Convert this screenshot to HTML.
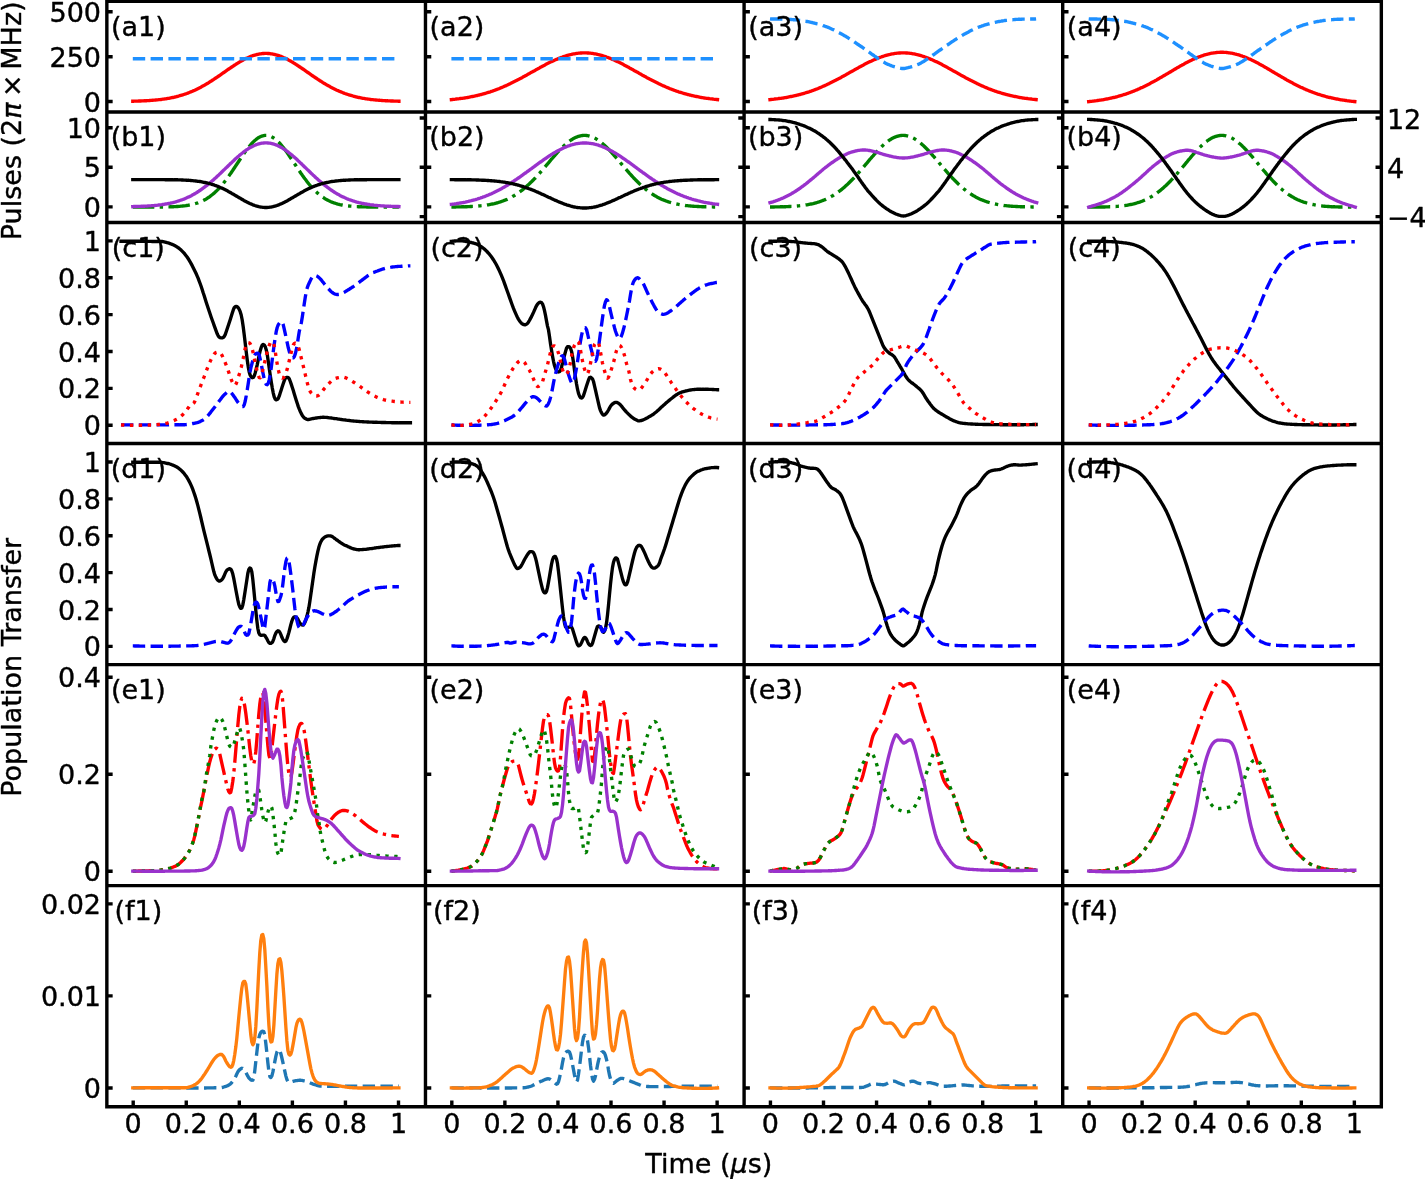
<!DOCTYPE html>
<html><head><meta charset="utf-8"><title>Figure</title>
<style>html,body{margin:0;padding:0;background:#fff}body{width:1425px;height:1179px;overflow:hidden}</style></head>
<body>
<svg width="1425" height="1179" viewBox="0 0 1425 1179" style="display:block;font-family:'DejaVu Sans','Liberation Sans',sans-serif;font-size:27.0px" shape-rendering="geometricPrecision">
<rect width="1425" height="1179" fill="#fff"/>
<defs>
<clipPath id="cp00"><rect x="106.85" y="1.40" width="318.62" height="110.53"/></clipPath>
<clipPath id="cp01"><rect x="425.47" y="1.40" width="318.62" height="110.53"/></clipPath>
<clipPath id="cp02"><rect x="744.09" y="1.40" width="318.62" height="110.53"/></clipPath>
<clipPath id="cp03"><rect x="1062.71" y="1.40" width="318.62" height="110.53"/></clipPath>
<clipPath id="cp10"><rect x="106.85" y="111.93" width="318.62" height="110.53"/></clipPath>
<clipPath id="cp11"><rect x="425.47" y="111.93" width="318.62" height="110.53"/></clipPath>
<clipPath id="cp12"><rect x="744.09" y="111.93" width="318.62" height="110.53"/></clipPath>
<clipPath id="cp13"><rect x="1062.71" y="111.93" width="318.62" height="110.53"/></clipPath>
<clipPath id="cp20"><rect x="106.85" y="222.46" width="318.62" height="221.06"/></clipPath>
<clipPath id="cp21"><rect x="425.47" y="222.46" width="318.62" height="221.06"/></clipPath>
<clipPath id="cp22"><rect x="744.09" y="222.46" width="318.62" height="221.06"/></clipPath>
<clipPath id="cp23"><rect x="1062.71" y="222.46" width="318.62" height="221.06"/></clipPath>
<clipPath id="cp30"><rect x="106.85" y="443.52" width="318.62" height="221.06"/></clipPath>
<clipPath id="cp31"><rect x="425.47" y="443.52" width="318.62" height="221.06"/></clipPath>
<clipPath id="cp32"><rect x="744.09" y="443.52" width="318.62" height="221.06"/></clipPath>
<clipPath id="cp33"><rect x="1062.71" y="443.52" width="318.62" height="221.06"/></clipPath>
<clipPath id="cp40"><rect x="106.85" y="664.58" width="318.62" height="221.06"/></clipPath>
<clipPath id="cp41"><rect x="425.47" y="664.58" width="318.62" height="221.06"/></clipPath>
<clipPath id="cp42"><rect x="744.09" y="664.58" width="318.62" height="221.06"/></clipPath>
<clipPath id="cp43"><rect x="1062.71" y="664.58" width="318.62" height="221.06"/></clipPath>
<clipPath id="cp50"><rect x="106.85" y="885.64" width="318.62" height="221.06"/></clipPath>
<clipPath id="cp51"><rect x="425.47" y="885.64" width="318.62" height="221.06"/></clipPath>
<clipPath id="cp52"><rect x="744.09" y="885.64" width="318.62" height="221.06"/></clipPath>
<clipPath id="cp53"><rect x="1062.71" y="885.64" width="318.62" height="221.06"/></clipPath>
</defs>
<g fill="none" stroke-width="3.36" stroke-linejoin="round">
<path clip-path="url(#cp00)" d="M132.8 101.2l1 0 1 -0.1 1 0 1 0 1 0 1 -0.1 1 0 1 0 1 -0.1 1 0 1 -0.1 1 0 1 -0.1 1 0 1 -0.1 1 0 1 -0.1 1 -0.1 1 -0.1 1 0 1 -0.1 1 -0.1 1 -0.1 1 -0.1 1 -0.1 1 -0.1 1 -0.1 1 -0.1 1 -0.2 1 -0.1 1 -0.1 1 -0.2 1 -0.1 1 -0.2 1 -0.2 1 -0.1 1 -0.2 1 -0.2 1 -0.2 1 -0.2 1 -0.2 1 -0.3 1 -0.2 1 -0.3 1 -0.2 1 -0.3 1 -0.3 1 -0.3 1 -0.3 1 -0.3 1 -0.3 1 -0.3 1 -0.4 1 -0.3 1 -0.4 1 -0.4 1 -0.4 1 -0.4 1 -0.4 1 -0.4 1 -0.5 1 -0.4 1 -0.5 1 -0.5 1 -0.5 1 -0.5 1 -0.5 1 -0.5 1 -0.6 1 -0.5 1 -0.6 1 -0.5 1 -0.6 1 -0.6 1 -0.6 1 -0.6 1 -0.7 1 -0.6 1 -0.6 1 -0.7 1 -0.6 1 -0.7 1 -0.7 1 -0.7 1 -0.6 1 -0.7 1 -0.7 1 -0.7 1 -0.7 1 -0.7 1 -0.7 1 -0.7 1 -0.7 1 -0.7 1 -0.7 1 -0.7 1 -0.7 1 -0.6 1 -0.7 1 -0.7 1 -0.6 1 -0.7 1 -0.6 1 -0.7 1 -0.6 1 -0.6 1 -0.6 1 -0.6 1 -0.6 1 -0.5 1 -0.6 1 -0.5 1 -0.5 1 -0.5 1 -0.4 1 -0.5 1 -0.4 1 -0.4 1 -0.4 1 -0.3 1 -0.3 1 -0.3 1 -0.3 1 -0.3 1 -0.2 1 -0.2 1 -0.2 1 -0.1 1 -0.2 1 -0.1 1 0 1 -0.1 1 0 1.1 0 1 0.1 1 0 1 0.1 1 0.2 1 0.1 1 0.2 1 0.2 1 0.2 1 0.3 1 0.3 1 0.3 1 0.3 1 0.3 1 0.4 1 0.4 1 0.4 1 0.5 1 0.4 1 0.5 1 0.5 1 0.5 1 0.6 1 0.5 1 0.6 1 0.6 1 0.6 1 0.6 1 0.6 1 0.7 1 0.6 1 0.7 1 0.6 1 0.7 1 0.7 1 0.6 1 0.7 1 0.7 1 0.7 1 0.7 1 0.7 1 0.7 1 0.7 1 0.7 1 0.7 1 0.7 1 0.7 1 0.7 1 0.6 1 0.7 1 0.7 1 0.7 1 0.6 1 0.7 1 0.6 1 0.6 1 0.7 1 0.6 1 0.6 1 0.6 1 0.6 1 0.5 1 0.6 1 0.5 1 0.6 1 0.5 1 0.5 1 0.5 1 0.5 1 0.5 1 0.5 1 0.4 1 0.5 1 0.4 1 0.4 1 0.4 1 0.4 1 0.4 1 0.4 1 0.3 1 0.4 1 0.3 1 0.3 1 0.3 1 0.3 1 0.3 1 0.3 1 0.3 1 0.2 1 0.3 1 0.2 1 0.3 1 0.2 1 0.2 1 0.2 1 0.2 1 0.2 1 0.1 1 0.2 1 0.2 1 0.1 1 0.2 1 0.1 1 0.1 1 0.2 1 0.1 1 0.1 1 0.1 1 0.1 1 0.1 1 0.1 1 0.1 1 0.1 1 0 1 0.1 1 0.1 1 0.1 1 0 1 0.1 1 0 1 0.1 1 0 1 0.1 1 0 1 0.1 1 0 1 0 1 0.1 1 0 1 0 1 0 1 0.1 1 0" stroke="#ff0000" stroke-linecap="square"/>
<path clip-path="url(#cp00)" d="M132.8 58.7l1 0 1 0 1 0 1 0 1 0 1 0 1 0 1 0 1 0 1 0 1 0 1 0 1 0 1 0 1 0 1 0 1 0 1 0 1 0 1 0 1 0 1 0 1 0 1 0 1 0 1 0 1 0 1 0 1 0 1 0 1 0 1 0 1 0 1 0 1 0 1 0 1 0 1 0 1 0 1 0 1 0 1 0 1 0 1 0 1 0 1 0 1 0 1 0 1 0 1 0 1 0 1 0 1 0 1 0 1 0 1 0 1 0 1 0 1 0 1 0 1 0 1 0 1 0 1 0 1 0 1 0 1 0 1 0 1 0 1 0 1 0 1 0 1 0 1 0 1 0 1 0 1 0 1 0 1 0 1 0 1 0 1 0 1 0 1 0 1 0 1 0 1 0 1 0 1 0 1 0 1 0 1 0 1 0 1 0 1 0 1 0 1 0 1 0 1 0 1 0 1 0 1 0 1 0 1 0 1 0 1 0 1 0 1 0 1 0 1 0 1 0 1 0 1 0 1 0 1 0 1 0 1 0 1 0 1 0 1 0 1 0 1 0 1 0 1 0 1 0 1 0 1 0 1 0 1 0 1 0 1 0 1 0 1 0 1.1 0 1 0 1 0 1 0 1 0 1 0 1 0 1 0 1 0 1 0 1 0 1 0 1 0 1 0 1 0 1 0 1 0 1 0 1 0 1 0 1 0 1 0 1 0 1 0 1 0 1 0 1 0 1 0 1 0 1 0 1 0 1 0 1 0 1 0 1 0 1 0 1 0 1 0 1 0 1 0 1 0 1 0 1 0 1 0 1 0 1 0 1 0 1 0 1 0 1 0 1 0 1 0 1 0 1 0 1 0 1 0 1 0 1 0 1 0 1 0 1 0 1 0 1 0 1 0 1 0 1 0 1 0 1 0 1 0 1 0 1 0 1 0 1 0 1 0 1 0 1 0 1 0 1 0 1 0 1 0 1 0 1 0 1 0 1 0 1 0 1 0 1 0 1 0 1 0 1 0 1 0 1 0 1 0 1 0 1 0 1 0 1 0 1 0 1 0 1 0 1 0 1 0 1 0 1 0 1 0 1 0 1 0 1 0 1 0 1 0 1 0 1 0 1 0 1 0 1 0 1 0 1 0 1 0 1 0 1 0 1 0 1 0 1 0 1 0 1 0 1 0 1 0 1 0 1 0 1 0 1 0 1 0 1 0" stroke="#1e90ff" stroke-dasharray="12.4 5.4"/>
<path clip-path="url(#cp01)" d="M451.4 99.6l1 -0.1 1 -0.1 1 -0.1 1 -0.1 1 -0.2 1 -0.1 1 -0.1 1 -0.1 1 -0.2 1 -0.1 1 -0.1 1 -0.2 1 -0.1 1 -0.2 1 -0.2 1 -0.1 1 -0.2 1 -0.2 1 -0.2 1 -0.2 1 -0.2 1 -0.2 1 -0.2 1 -0.2 1 -0.2 1 -0.2 1 -0.3 1 -0.2 1 -0.3 1 -0.2 1 -0.3 1 -0.3 1 -0.3 1 -0.3 1 -0.3 1 -0.3 1 -0.3 1 -0.3 1 -0.3 1 -0.4 1 -0.3 1 -0.4 1 -0.3 1 -0.4 1 -0.4 1 -0.4 1 -0.3 1 -0.4 1 -0.5 1 -0.4 1 -0.4 1 -0.4 1 -0.5 1 -0.4 1 -0.5 1 -0.4 1 -0.5 1 -0.5 1 -0.4 1 -0.5 1 -0.5 1 -0.5 1 -0.5 1 -0.5 1 -0.5 1 -0.6 1 -0.5 1 -0.5 1 -0.6 1 -0.5 1 -0.5 1 -0.6 1 -0.5 1 -0.6 1 -0.5 1 -0.6 1 -0.6 1 -0.5 1 -0.6 1.1 -0.6 1 -0.5 1 -0.6 1 -0.5 1 -0.6 1 -0.6 1 -0.5 1 -0.6 1 -0.5 1 -0.6 1 -0.5 1 -0.6 1 -0.5 1 -0.5 1 -0.6 1 -0.5 1 -0.5 1 -0.5 1 -0.5 1 -0.5 1 -0.5 1 -0.4 1 -0.5 1 -0.5 1 -0.4 1 -0.4 1 -0.5 1 -0.4 1 -0.4 1 -0.4 1 -0.4 1 -0.3 1 -0.4 1 -0.3 1 -0.3 1 -0.3 1 -0.3 1 -0.3 1 -0.3 1 -0.2 1 -0.2 1 -0.3 1 -0.2 1 -0.1 1 -0.2 1 -0.2 1 -0.1 1 -0.1 1 -0.1 1 -0.1 1 0 1 -0.1 1 0 1 0 1 0 1 0 1 0.1 1 0 1 0.1 1 0.1 1 0.1 1 0.1 1 0.2 1 0.2 1 0.1 1 0.2 1 0.3 1 0.2 1 0.2 1 0.3 1 0.3 1 0.3 1 0.3 1 0.3 1 0.3 1 0.4 1 0.3 1 0.4 1 0.4 1 0.4 1 0.4 1 0.5 1 0.4 1 0.4 1 0.5 1 0.5 1 0.4 1 0.5 1 0.5 1 0.5 1 0.5 1 0.5 1 0.5 1 0.6 1 0.5 1 0.5 1 0.6 1 0.5 1 0.6 1 0.5 1 0.6 1 0.5 1 0.6 1 0.6 1 0.5 1 0.6 1 0.5 1 0.6 1 0.6 1 0.5 1 0.6 1 0.6 1 0.5 1 0.6 1 0.5 1 0.6 1 0.5 1 0.5 1 0.6 1 0.5 1 0.5 1 0.6 1 0.5 1 0.5 1 0.5 1 0.5 1 0.5 1 0.5 1 0.4 1 0.5 1 0.5 1 0.4 1 0.5 1 0.4 1 0.5 1 0.4 1 0.4 1 0.4 1 0.5 1 0.4 1 0.3 1 0.4 1 0.4 1 0.4 1 0.3 1 0.4 1 0.3 1 0.4 1 0.3 1 0.3 1 0.3 1 0.3 1 0.3 1 0.3 1 0.3 1 0.3 1 0.3 1 0.2 1 0.3 1 0.2 1 0.3 1 0.2 1 0.2 1 0.2 1 0.2 1 0.2 1 0.2 1 0.2 1 0.2 1 0.2 1 0.2 1 0.1 1 0.2 1 0.2 1 0.1 1 0.2 1 0.1 1 0.1 1 0.2 1 0.1 1 0.1 1 0.1 1 0.2 1 0.1 1 0.1 1 0.1 1 0.1" stroke="#ff0000" stroke-linecap="square"/>
<path clip-path="url(#cp01)" d="M451.4 58.7l1 0 1 0 1 0 1 0 1 0 1 0 1 0 1 0 1 0 1 0 1 0 1 0 1 0 1 0 1 0 1 0 1 0 1 0 1 0 1 0 1 0 1 0 1 0 1 0 1 0 1 0 1 0 1 0 1 0 1 0 1 0 1 0 1 0 1 0 1 0 1 0 1 0 1 0 1 0 1 0 1 0 1 0 1 0 1 0 1 0 1 0 1 0 1 0 1 0 1 0 1 0 1 0 1 0 1 0 1 0 1 0 1 0 1 0 1 0 1 0 1 0 1 0 1 0 1 0 1 0 1 0 1 0 1 0 1 0 1 0 1 0 1 0 1 0 1 0 1 0 1 0 1 0 1 0 1 0 1.1 0 1 0 1 0 1 0 1 0 1 0 1 0 1 0 1 0 1 0 1 0 1 0 1 0 1 0 1 0 1 0 1 0 1 0 1 0 1 0 1 0 1 0 1 0 1 0 1 0 1 0 1 0 1 0 1 0 1 0 1 0 1 0 1 0 1 0 1 0 1 0 1 0 1 0 1 0 1 0 1 0 1 0 1 0 1 0 1 0 1 0 1 0 1 0 1 0 1 0 1 0 1 0 1 0 1 0 1 0 1 0 1 0 1 0 1 0 1 0 1 0 1 0 1 0 1 0 1 0 1 0 1 0 1 0 1 0 1 0 1 0 1 0 1 0 1 0 1 0 1 0 1 0 1 0 1 0 1 0 1 0 1 0 1 0 1 0 1 0 1 0 1 0 1 0 1 0 1 0 1 0 1 0 1 0 1 0 1 0 1 0 1 0 1 0 1 0 1 0 1 0 1 0 1 0 1 0 1 0 1 0 1 0 1 0 1 0 1 0 1 0 1 0 1 0 1 0 1 0 1 0 1 0 1 0 1 0 1 0 1 0 1 0 1 0 1 0 1 0 1 0 1 0 1 0 1 0 1 0 1 0 1 0 1 0 1 0 1 0 1 0 1 0 1 0 1 0 1 0 1 0 1 0 1 0 1 0 1 0 1 0 1 0 1 0 1 0 1 0 1 0 1 0 1 0 1 0 1 0 1 0 1 0 1 0 1 0 1 0 1 0 1 0 1 0 1 0 1 0 1 0 1 0 1 0 1 0 1 0 1 0 1 0 1 0 1 0 1 0 1 0 1 0 1 0 1 0 1 0 1 0 1 0 1 0 1 0 1 0 1 0 1 0" stroke="#1e90ff" stroke-dasharray="12.4 5.4"/>
<path clip-path="url(#cp02)" d="M770 99.6l1 -0.1 1 -0.1 1 -0.1 1 -0.1 1 -0.2 1 -0.1 1 -0.1 1 -0.1 1 -0.2 1 -0.1 1 -0.1 1 -0.2 1 -0.1 1 -0.2 1 -0.2 1 -0.1 1 -0.2 1 -0.2 1 -0.2 1 -0.2 1 -0.2 1 -0.2 1 -0.2 1 -0.2 1 -0.2 1 -0.2 1.1 -0.3 1 -0.2 1 -0.3 1 -0.2 1 -0.3 1 -0.3 1 -0.3 1 -0.3 1 -0.3 1 -0.3 1 -0.3 1 -0.3 1 -0.3 1 -0.4 1 -0.3 1 -0.4 1 -0.3 1 -0.4 1 -0.4 1 -0.4 1 -0.3 1 -0.4 1 -0.5 1 -0.4 1 -0.4 1 -0.4 1 -0.5 1 -0.4 1 -0.5 1 -0.4 1 -0.5 1 -0.5 1 -0.4 1 -0.5 1 -0.5 1 -0.5 1 -0.5 1 -0.5 1 -0.5 1 -0.6 1 -0.5 1 -0.5 1 -0.6 1 -0.5 1 -0.5 1 -0.6 1 -0.5 1 -0.6 1 -0.5 1 -0.6 1 -0.6 1 -0.5 1 -0.6 1 -0.6 1 -0.5 1 -0.6 1 -0.5 1 -0.6 1 -0.6 1 -0.5 1 -0.6 1 -0.5 1 -0.6 1 -0.5 1 -0.6 1 -0.5 1 -0.5 1 -0.6 1 -0.5 1 -0.5 1 -0.5 1 -0.5 1 -0.5 1 -0.5 1 -0.4 1 -0.5 1 -0.5 1 -0.4 1 -0.4 1 -0.5 1 -0.4 1 -0.4 1 -0.4 1 -0.4 1 -0.3 1 -0.4 1 -0.3 1 -0.3 1 -0.3 1 -0.3 1 -0.3 1 -0.3 1 -0.2 1 -0.2 1 -0.3 1 -0.2 1 -0.1 1 -0.2 1 -0.2 1 -0.1 1 -0.1 1 -0.1 1 -0.1 1 0 1 -0.1 1 0 1 0 1 0 1 0 1 0.1 1 0 1 0.1 1 0.1 1 0.1 1 0.1 1 0.2 1 0.2 1 0.1 1 0.2 1 0.3 1 0.2 1 0.2 1 0.3 1 0.3 1 0.3 1 0.3 1 0.3 1 0.3 1 0.4 1 0.3 1 0.4 1 0.4 1 0.4 1 0.4 1 0.5 1 0.4 1 0.4 1 0.5 1 0.5 1 0.4 1 0.5 1 0.5 1 0.5 1 0.5 1 0.5 1 0.5 1 0.6 1 0.5 1 0.5 1 0.6 1 0.5 1 0.6 1 0.5 1 0.6 1 0.5 1 0.6 1 0.6 1 0.5 1 0.6 1 0.5 1 0.6 1 0.6 1 0.5 1 0.6 1 0.6 1 0.5 1 0.6 1 0.5 1 0.6 1 0.5 1 0.5 1 0.6 1 0.5 1 0.5 1 0.6 1 0.5 1 0.5 1 0.5 1 0.5 1 0.5 1 0.5 1 0.4 1 0.5 1 0.5 1 0.4 1 0.5 1 0.4 1 0.5 1 0.4 1 0.4 1 0.4 1 0.5 1 0.4 1 0.3 1 0.4 1 0.4 1 0.4 1 0.3 1 0.4 1 0.3 1 0.4 1 0.3 1 0.3 1 0.3 1 0.3 1 0.3 1 0.3 1 0.3 1 0.3 1 0.3 1 0.2 1 0.3 1 0.2 1 0.3 1 0.2 1 0.2 1 0.2 1 0.2 1 0.2 1 0.2 1 0.2 1 0.2 1 0.2 1 0.2 1 0.1 1 0.2 1 0.2 1 0.1 1 0.2 1 0.1 1 0.1 1 0.2 1 0.1 1 0.1 1 0.1 1 0.2 1 0.1 1 0.1 1 0.1 1 0.1" stroke="#ff0000" stroke-linecap="square"/>
<path clip-path="url(#cp02)" d="M770 18.9l1 0.1 1 0 1 0 1 0 1 0 1 0 1 0 1 0 1 0.1 1 0 1 0 1 0 1 0 1 0.1 1 0 1 0.1 1 0 1 0 1 0.1 1 0 1 0.1 1.1 0.1 1 0.1 1 0 1 0.1 1 0.1 1 0.1 1 0.1 1 0.2 1 0.1 1 0.1 1 0.2 1 0.1 1 0.2 1 0.2 1 0.1 1 0.2 1 0.2 1 0.2 1 0.2 1 0.2 1 0.2 1 0.3 1 0.2 1 0.3 1 0.2 1 0.3 1 0.2 1 0.3 1 0.3 1 0.3 1 0.3 1 0.4 1 0.3 1 0.4 1 0.3 1 0.4 1 0.4 1 0.4 1 0.5 1 0.4 1 0.5 1 0.4 1 0.5 1 0.5 1 0.5 1 0.5 1 0.6 1 0.5 1 0.5 1 0.6 1 0.5 1 0.6 1 0.6 1 0.6 1 0.5 1 0.6 1 0.7 1 0.6 1 0.6 1 0.7 1 0.6 1 0.7 1 0.6 1 0.7 1 0.7 1 0.7 1 0.7 1 0.7 1 0.6 1 0.7 1 0.7 1 0.7 1 0.7 1 0.7 1 0.7 1 0.7 1 0.7 1 0.7 1 0.7 1 0.8 1 0.7 1 0.7 1 0.7 1 0.8 1 0.7 1 0.7 1 0.7 1 0.6 1 0.7 1 0.6 1 0.7 1 0.6 1 0.5 1 0.6 1 0.5 1 0.5 1 0.5 1 0.4 1 0.4 1 0.4 1 0.4 1 0.3 1 0.3 1 0.3 1 0.3 1 0.2 1 0.3 1 0.2 1 0.2 1 0.2 1 0.2 1 0 1 0 1 -0.2 1 -0.2 1 -0.2 1 -0.2 1 -0.3 1 -0.2 1 -0.3 1 -0.3 1 -0.3 1 -0.3 1 -0.4 1 -0.4 1 -0.4 1 -0.4 1 -0.5 1 -0.5 1 -0.5 1 -0.6 1 -0.5 1 -0.6 1 -0.7 1 -0.6 1 -0.7 1 -0.6 1 -0.7 1 -0.7 1 -0.7 1 -0.8 1 -0.7 1 -0.7 1 -0.7 1 -0.8 1 -0.7 1 -0.7 1 -0.7 1 -0.7 1 -0.7 1 -0.7 1 -0.7 1 -0.7 1 -0.7 1 -0.7 1 -0.6 1 -0.7 1 -0.7 1 -0.7 1 -0.7 1 -0.7 1 -0.6 1 -0.7 1 -0.6 1 -0.7 1 -0.6 1 -0.6 1 -0.7 1 -0.6 1 -0.5 1 -0.6 1 -0.6 1 -0.6 1 -0.5 1 -0.6 1 -0.5 1 -0.5 1 -0.6 1 -0.5 1 -0.5 1 -0.5 1 -0.5 1 -0.4 1 -0.5 1 -0.4 1 -0.5 1 -0.4 1 -0.4 1 -0.4 1 -0.3 1 -0.4 1 -0.3 1 -0.4 1 -0.3 1 -0.3 1 -0.3 1 -0.3 1 -0.2 1 -0.3 1 -0.2 1 -0.3 1 -0.2 1 -0.3 1 -0.2 1 -0.2 1 -0.2 1 -0.2 1 -0.2 1 -0.2 1 -0.1 1 -0.2 1 -0.2 1 -0.1 1 -0.2 1 -0.1 1 -0.1 1 -0.2 1 -0.1 1 -0.1 1 -0.1 1 -0.1 1 0 1 -0.1 1 -0.1 1 -0.1 1 0 1 -0.1 1 0 1 0 1 -0.1 1 0 1 -0.1 1 0 1 0 1 0 1 0 1 -0.1 1 0 1 0 1 0 1 0 1 0 1 0 1 0 1 -0.1" stroke="#1e90ff" stroke-dasharray="12.4 5.4"/>
<path clip-path="url(#cp03)" d="M1088.7 101.6l1 -0.1 1 -0.1 1 -0.1 1 -0.1 1 -0.1 1 -0.2 1 -0.1 1 -0.1 1 -0.2 1 -0.1 1 -0.2 1 -0.1 1 -0.2 1 -0.1 1 -0.2 1 -0.2 1 -0.2 1 -0.2 1 -0.2 1 -0.2 1 -0.2 1 -0.2 1 -0.2 1 -0.3 1 -0.2 1 -0.2 1 -0.3 1 -0.2 1 -0.3 1 -0.3 1 -0.3 1 -0.3 1 -0.3 1 -0.3 1 -0.3 1 -0.3 1 -0.3 1 -0.4 1 -0.3 1 -0.4 1 -0.3 1 -0.4 1 -0.4 1 -0.4 1 -0.4 1 -0.4 1 -0.4 1 -0.4 1 -0.5 1 -0.4 1 -0.4 1 -0.5 1 -0.5 1 -0.4 1 -0.5 1 -0.5 1 -0.5 1 -0.5 1 -0.5 1 -0.5 1 -0.5 1 -0.6 1 -0.5 1 -0.5 1 -0.6 1 -0.5 1 -0.6 1 -0.5 1 -0.6 1 -0.6 1 -0.6 1 -0.5 1 -0.6 1 -0.6 1 -0.6 1 -0.6 1 -0.6 1 -0.6 1 -0.5 1 -0.6 1 -0.6 1 -0.6 1 -0.6 1 -0.6 1 -0.6 1 -0.6 1 -0.6 1 -0.6 1 -0.5 1 -0.6 1 -0.6 1 -0.6 1 -0.5 1 -0.6 1 -0.5 1 -0.6 1 -0.5 1 -0.5 1 -0.6 1 -0.5 1 -0.5 1 -0.5 1 -0.4 1 -0.5 1 -0.5 1 -0.4 1 -0.5 1 -0.4 1 -0.4 1 -0.4 1 -0.4 1 -0.3 1 -0.4 1 -0.3 1 -0.4 1 -0.3 1 -0.3 1 -0.2 1 -0.3 1 -0.2 1 -0.3 1 -0.2 1 -0.2 1 -0.1 1 -0.2 1 -0.1 1 -0.2 1 -0.1 1 -0.1 1 0 1 -0.1 1 0 1 0 1 0 1 0 1 0.1 1 0 1 0.1 1 0.1 1 0.2 1 0.1 1 0.2 1 0.1 1 0.2 1 0.2 1 0.3 1 0.2 1 0.3 1 0.2 1 0.3 1 0.3 1 0.4 1 0.3 1 0.4 1 0.3 1 0.4 1 0.4 1 0.4 1 0.4 1 0.5 1 0.4 1 0.5 1 0.5 1 0.4 1 0.5 1 0.5 1 0.5 1 0.6 1 0.5 1 0.5 1 0.6 1 0.5 1 0.6 1 0.5 1 0.6 1 0.6 1 0.6 1 0.5 1 0.6 1 0.6 1 0.6 1 0.6 1 0.6 1 0.6 1 0.6 1 0.6 1 0.6 1 0.5 1 0.6 1 0.6 1 0.6 1 0.6 1 0.6 1 0.6 1 0.5 1 0.6 1 0.6 1 0.6 1 0.5 1 0.6 1 0.5 1 0.6 1 0.5 1 0.5 1 0.6 1 0.5 1 0.5 1 0.5 1 0.5 1 0.5 1 0.5 1 0.5 1 0.4 1 0.5 1 0.5 1 0.4 1 0.4 1 0.5 1 0.4 1 0.4 1 0.4 1 0.4 1 0.4 1 0.4 1 0.4 1 0.3 1 0.4 1 0.3 1 0.4 1 0.3 1 0.3 1 0.3 1 0.3 1 0.3 1 0.3 1 0.3 1 0.3 1 0.3 1 0.2 1.1 0.3 1 0.2 1 0.2 1 0.3 1 0.2 1 0.2 1 0.2 1 0.2 1 0.2 1 0.2 1 0.2 1 0.2 1 0.2 1 0.1 1 0.2 1 0.1 1 0.2 1 0.1 1 0.2 1 0.1 1 0.1 1 0.2 1 0.1 1 0.1 1 0.1 1 0.1 1 0.1" stroke="#ff0000" stroke-linecap="square"/>
<path clip-path="url(#cp03)" d="M1088.7 18.9l1 0.1 1 0 1 0 1 0 1 0 1 0 1 0 1 0 1 0.1 1 0 1 0 1 0 1 0 1 0.1 1 0 1 0.1 1 0 1 0 1 0.1 1 0 1 0.1 1 0.1 1 0.1 1 0 1 0.1 1 0.1 1 0.1 1 0.1 1 0.2 1 0.1 1 0.1 1 0.2 1 0.1 1 0.2 1 0.2 1 0.1 1 0.2 1 0.2 1 0.2 1 0.2 1 0.2 1 0.2 1 0.3 1 0.2 1 0.3 1 0.2 1 0.3 1 0.2 1 0.3 1 0.3 1 0.3 1 0.3 1 0.4 1 0.3 1 0.4 1 0.3 1 0.4 1 0.4 1 0.4 1 0.5 1 0.4 1 0.5 1 0.4 1 0.5 1 0.5 1 0.5 1 0.5 1 0.6 1 0.5 1 0.5 1 0.6 1 0.5 1 0.6 1 0.6 1 0.6 1 0.5 1 0.6 1 0.7 1 0.6 1 0.6 1 0.7 1 0.6 1 0.7 1 0.6 1 0.7 1 0.7 1 0.7 1 0.7 1 0.7 1 0.6 1 0.7 1 0.7 1 0.7 1 0.7 1 0.7 1 0.7 1 0.7 1 0.7 1 0.7 1 0.7 1 0.8 1 0.7 1 0.7 1 0.7 1 0.8 1 0.7 1 0.7 1 0.7 1 0.6 1 0.7 1 0.6 1 0.7 1 0.6 1 0.5 1 0.6 1 0.5 1 0.5 1 0.5 1 0.4 1 0.4 1 0.4 1 0.4 1 0.3 1 0.3 1 0.3 1 0.3 1 0.2 1 0.3 1 0.2 1 0.2 1 0.2 1 0.2 1 0 1 0 1 -0.2 1 -0.2 1 -0.2 1 -0.2 1 -0.3 1 -0.2 1 -0.3 1 -0.3 1 -0.3 1 -0.3 1 -0.4 1 -0.4 1 -0.4 1 -0.4 1 -0.5 1 -0.5 1 -0.5 1 -0.6 1 -0.5 1 -0.6 1 -0.7 1 -0.6 1 -0.7 1 -0.6 1 -0.7 1 -0.7 1 -0.7 1 -0.8 1 -0.7 1 -0.7 1 -0.7 1 -0.8 1 -0.7 1 -0.7 1 -0.7 1 -0.7 1 -0.7 1 -0.7 1 -0.7 1 -0.7 1 -0.7 1 -0.7 1 -0.6 1 -0.7 1 -0.7 1 -0.7 1 -0.7 1 -0.7 1 -0.6 1 -0.7 1 -0.6 1 -0.7 1 -0.6 1 -0.6 1 -0.7 1 -0.6 1 -0.5 1 -0.6 1 -0.6 1 -0.6 1 -0.5 1 -0.6 1 -0.5 1 -0.5 1 -0.6 1 -0.5 1 -0.5 1 -0.5 1 -0.5 1 -0.4 1 -0.5 1 -0.4 1 -0.5 1 -0.4 1 -0.4 1 -0.4 1 -0.3 1 -0.4 1 -0.3 1 -0.4 1 -0.3 1 -0.3 1 -0.3 1 -0.3 1 -0.2 1 -0.3 1 -0.2 1 -0.3 1 -0.2 1 -0.3 1 -0.2 1 -0.2 1 -0.2 1 -0.2 1 -0.2 1 -0.2 1 -0.1 1 -0.2 1 -0.2 1 -0.1 1 -0.2 1 -0.1 1 -0.1 1 -0.2 1 -0.1 1 -0.1 1 -0.1 1 -0.1 1 0 1 -0.1 1.1 -0.1 1 -0.1 1 0 1 -0.1 1 0 1 0 1 -0.1 1 0 1 -0.1 1 0 1 0 1 0 1 0 1 -0.1 1 0 1 0 1 0 1 0 1 0 1 0 1 0 1 -0.1" stroke="#1e90ff" stroke-dasharray="12.4 5.4"/>
<path clip-path="url(#cp10)" d="M132.8 207.1l1 0 1 0 1 0 1 0 1 0 1 0 1 0 1 0 1 0 1 0 1 0 1 0 1 0 1 0 1 0 1 0 1 0 1 0 1 0 1 0 1 0 1 0 1 0 1 -0.1 1 0 1 0 1 0 1 0 1 0 1 0 1 0 1 0 1 -0.1 1 0 1 0 1 0 1 -0.1 1 0 1 0 1 -0.1 1 0 1 -0.1 1 0 1 -0.1 1 0 1 -0.1 1 -0.1 1 -0.1 1 -0.1 1 -0.1 1 -0.1 1 -0.1 1 -0.1 1 -0.2 1 -0.1 1 -0.2 1 -0.2 1 -0.2 1 -0.2 1 -0.3 1 -0.2 1 -0.3 1 -0.3 1 -0.3 1 -0.3 1 -0.4 1 -0.4 1 -0.4 1 -0.5 1 -0.4 1 -0.5 1 -0.6 1 -0.5 1 -0.6 1 -0.7 1 -0.6 1 -0.7 1 -0.8 1 -0.8 1 -0.8 1 -0.8 1 -0.9 1 -0.9 1 -1 1 -1 1 -1.1 1 -1.1 1 -1.1 1 -1.1 1 -1.2 1 -1.3 1 -1.3 1 -1.3 1 -1.3 1 -1.4 1 -1.3 1 -1.5 1 -1.4 1 -1.5 1 -1.4 1 -1.5 1 -1.5 1 -1.6 1 -1.5 1 -1.5 1 -1.5 1 -1.5 1 -1.5 1 -1.5 1 -1.5 1 -1.4 1 -1.5 1 -1.3 1 -1.4 1 -1.3 1 -1.3 1 -1.2 1 -1.2 1 -1.1 1 -1.1 1 -1 1 -0.9 1 -0.8 1 -0.8 1 -0.7 1 -0.7 1 -0.5 1 -0.5 1 -0.4 1 -0.3 1 -0.2 1 -0.2 1 0 1.1 0 1 0.2 1 0.2 1 0.3 1 0.4 1 0.5 1 0.5 1 0.7 1 0.7 1 0.8 1 0.8 1 0.9 1 1 1 1.1 1 1.1 1 1.2 1 1.2 1 1.3 1 1.3 1 1.4 1 1.3 1 1.5 1 1.4 1 1.5 1 1.5 1 1.5 1 1.5 1 1.5 1 1.5 1 1.5 1 1.6 1 1.5 1 1.5 1 1.4 1 1.5 1 1.4 1 1.5 1 1.3 1 1.4 1 1.3 1 1.3 1 1.3 1 1.3 1 1.2 1 1.1 1 1.1 1 1.1 1 1.1 1 1 1 1 1 0.9 1 0.9 1 0.8 1 0.8 1 0.8 1 0.8 1 0.7 1 0.6 1 0.7 1 0.6 1 0.5 1 0.6 1 0.5 1 0.4 1 0.5 1 0.4 1 0.4 1 0.4 1 0.3 1 0.3 1 0.3 1 0.3 1 0.2 1 0.3 1 0.2 1 0.2 1 0.2 1 0.2 1 0.1 1 0.2 1 0.1 1 0.1 1 0.1 1 0.1 1 0.1 1 0.1 1 0.1 1 0.1 1 0 1 0.1 1 0 1 0.1 1 0 1 0.1 1 0 1 0 1 0.1 1 0 1 0 1 0 1 0.1 1 0 1 0 1 0 1 0 1 0 1 0 1 0 1 0 1 0.1 1 0 1 0 1 0 1 0 1 0 1 0 1 0 1 0 1 0 1 0 1 0 1 0 1 0 1 0 1 0 1 0 1 0 1 0 1 0 1 0 1 0 1 0 1 0" stroke="#008000" stroke-dasharray="21.5 5.4 3.36 5.4"/>
<path clip-path="url(#cp10)" d="M132.8 206.6l1 -0.1 1 0 1 0 1 0 1 -0.1 1 0 1 0 1 -0.1 1 0 1 -0.1 1 0 1 0 1 -0.1 1 0 1 -0.1 1 -0.1 1 0 1 -0.1 1 -0.1 1 -0.1 1 0 1 -0.1 1 -0.1 1 -0.1 1 -0.1 1 -0.2 1 -0.1 1 -0.1 1 -0.1 1 -0.2 1 -0.1 1 -0.2 1 -0.2 1 -0.1 1 -0.2 1 -0.2 1 -0.2 1 -0.3 1 -0.2 1 -0.2 1 -0.3 1 -0.2 1 -0.3 1 -0.3 1 -0.3 1 -0.3 1 -0.4 1 -0.3 1 -0.4 1 -0.3 1 -0.4 1 -0.4 1 -0.5 1 -0.4 1 -0.5 1 -0.4 1 -0.5 1 -0.5 1 -0.5 1 -0.6 1 -0.5 1 -0.6 1 -0.6 1 -0.6 1 -0.7 1 -0.6 1 -0.7 1 -0.7 1 -0.7 1 -0.7 1 -0.7 1 -0.8 1 -0.7 1 -0.8 1 -0.8 1 -0.8 1 -0.9 1 -0.8 1 -0.9 1 -0.8 1 -0.9 1 -0.9 1 -0.9 1 -1 1 -0.9 1 -0.9 1 -1 1 -0.9 1 -1 1 -1 1 -0.9 1 -1 1 -1 1 -0.9 1 -1 1 -1 1 -0.9 1 -1 1 -0.9 1 -1 1 -0.9 1 -1 1 -0.9 1 -0.9 1 -0.9 1 -0.8 1 -0.9 1 -0.8 1 -0.8 1 -0.8 1 -0.8 1 -0.7 1 -0.8 1 -0.7 1 -0.6 1 -0.7 1 -0.6 1 -0.5 1 -0.6 1 -0.5 1 -0.5 1 -0.4 1 -0.4 1 -0.4 1 -0.3 1 -0.3 1 -0.3 1 -0.2 1 -0.2 1 -0.1 1 -0.1 1 -0.1 1 0 1.1 0 1 0.1 1 0.1 1 0.1 1 0.2 1 0.2 1 0.3 1 0.3 1 0.3 1 0.4 1 0.4 1 0.4 1 0.5 1 0.5 1 0.6 1 0.5 1 0.6 1 0.7 1 0.6 1 0.7 1 0.8 1 0.7 1 0.8 1 0.8 1 0.8 1 0.8 1 0.9 1 0.8 1 0.9 1 0.9 1 0.9 1 1 1 0.9 1 1 1 0.9 1 1 1 0.9 1 1 1 1 1 0.9 1 1 1 1 1 0.9 1 1 1 1 1 0.9 1 1 1 0.9 1 0.9 1 1 1 0.9 1 0.9 1 0.9 1 0.8 1 0.9 1 0.8 1 0.9 1 0.8 1 0.8 1 0.8 1 0.7 1 0.8 1 0.7 1 0.7 1 0.7 1 0.7 1 0.7 1 0.6 1 0.7 1 0.6 1 0.6 1 0.6 1 0.5 1 0.6 1 0.5 1 0.5 1 0.5 1 0.4 1 0.5 1 0.4 1 0.5 1 0.4 1 0.4 1 0.3 1 0.4 1 0.3 1 0.4 1 0.3 1 0.3 1 0.3 1 0.3 1 0.2 1 0.3 1 0.2 1 0.2 1 0.3 1 0.2 1 0.2 1 0.2 1 0.1 1 0.2 1 0.2 1 0.1 1 0.2 1 0.1 1 0.1 1 0.1 1 0.2 1 0.1 1 0.1 1 0.1 1 0.1 1 0 1 0.1 1 0.1 1 0.1 1 0 1 0.1 1 0.1 1 0 1 0.1 1 0 1 0 1 0.1 1 0 1 0.1 1 0 1 0 1 0.1 1 0 1 0 1 0 1 0.1" stroke="#9932cc" stroke-linecap="square"/>
<path clip-path="url(#cp10)" d="M132.8 179.6l1 0 1 0 1 0 1 0 1 0 1 0 1 0 1 0 1 0 1 0 1 0 1 0 1 0 1 0 1 0 1 0 1 0 1 0 1 0 1 0 1 0 1 0 1 0 1 0 1 0 1 0 1 0 1 0 1 0 1 0 1 0 1 0.1 1 0 1 0 1 0 1 0 1 0 1 0 1 0 1 0 1 0.1 1 0 1 0 1 0 1 0 1 0.1 1 0 1 0 1 0.1 1 0 1 0.1 1 0 1 0.1 1 0 1 0.1 1 0 1 0.1 1 0.1 1 0.1 1 0.1 1 0.1 1 0.1 1 0.1 1 0.1 1 0.2 1 0.1 1 0.1 1 0.2 1 0.2 1 0.2 1 0.2 1 0.2 1 0.2 1 0.2 1 0.3 1 0.2 1 0.3 1 0.3 1 0.3 1 0.3 1 0.3 1 0.4 1 0.3 1 0.4 1 0.4 1 0.4 1 0.5 1 0.4 1 0.4 1 0.5 1 0.5 1 0.5 1 0.5 1 0.5 1 0.5 1 0.6 1 0.5 1 0.6 1 0.6 1 0.5 1 0.6 1 0.6 1 0.6 1 0.6 1 0.6 1 0.6 1 0.6 1 0.5 1 0.6 1 0.6 1 0.6 1 0.5 1 0.5 1 0.6 1 0.5 1 0.5 1 0.5 1 0.4 1 0.4 1 0.5 1 0.3 1 0.4 1 0.3 1 0.4 1 0.2 1 0.3 1 0.2 1 0.2 1 0.1 1 0.1 1 0.1 1 0.1 1 0 1.1 0 1 -0.1 1 -0.1 1 -0.1 1 -0.1 1 -0.2 1 -0.2 1 -0.3 1 -0.2 1 -0.4 1 -0.3 1 -0.4 1 -0.3 1 -0.5 1 -0.4 1 -0.4 1 -0.5 1 -0.5 1 -0.5 1 -0.6 1 -0.5 1 -0.5 1 -0.6 1 -0.6 1 -0.6 1 -0.5 1 -0.6 1 -0.6 1 -0.6 1 -0.6 1 -0.6 1 -0.6 1 -0.6 1 -0.5 1 -0.6 1 -0.6 1 -0.5 1 -0.6 1 -0.5 1 -0.5 1 -0.5 1 -0.5 1 -0.5 1 -0.5 1 -0.4 1 -0.4 1 -0.5 1 -0.4 1 -0.4 1 -0.4 1 -0.3 1 -0.4 1 -0.3 1 -0.3 1 -0.3 1 -0.3 1 -0.3 1 -0.2 1 -0.3 1 -0.2 1 -0.2 1 -0.2 1 -0.2 1 -0.2 1 -0.2 1 -0.2 1 -0.1 1 -0.1 1 -0.2 1 -0.1 1 -0.1 1 -0.1 1 -0.1 1 -0.1 1 -0.1 1 -0.1 1 -0.1 1 0 1 -0.1 1 0 1 -0.1 1 0 1 -0.1 1 0 1 -0.1 1 0 1 0 1 -0.1 1 0 1 0 1 0 1 0 1 -0.1 1 0 1 0 1 0 1 0 1 0 1 0 1 0 1 0 1 -0.1 1 0 1 0 1 0 1 0 1 0 1 0 1 0 1 0 1 0 1 0 1 0 1 0 1 0 1 0 1 0 1 0 1 0 1 0 1 0 1 0 1 0 1 0 1 0 1 0 1 0 1 0 1 0 1 0 1 0 1 0 1 0" stroke="#000000" stroke-linecap="square"/>
<path clip-path="url(#cp11)" d="M451.4 207l1 0 1 0 1 0 1 0 1 -0.1 1 0 1 0 1 0 1 0 1 -0.1 1 0 1 0 1 0 1 -0.1 1 0 1 0 1 -0.1 1 0 1 -0.1 1 0 1 -0.1 1 0 1 -0.1 1 -0.1 1 0 1 -0.1 1 -0.1 1 -0.1 1 -0.1 1 -0.1 1 -0.1 1 -0.1 1 -0.2 1 -0.1 1 -0.1 1 -0.2 1 -0.1 1 -0.2 1 -0.2 1 -0.2 1 -0.2 1 -0.2 1 -0.2 1 -0.3 1 -0.3 1 -0.2 1 -0.3 1 -0.3 1 -0.3 1 -0.4 1 -0.3 1 -0.4 1 -0.4 1 -0.4 1 -0.4 1 -0.4 1 -0.5 1 -0.5 1 -0.5 1 -0.5 1 -0.6 1 -0.5 1 -0.6 1 -0.7 1 -0.6 1 -0.7 1 -0.6 1 -0.8 1 -0.7 1 -0.7 1 -0.8 1 -0.8 1 -0.9 1 -0.8 1 -0.9 1 -0.9 1 -0.9 1 -0.9 1 -1 1.1 -1 1 -1 1 -1 1 -1.1 1 -1 1 -1.1 1 -1.1 1 -1.1 1 -1.1 1 -1.2 1 -1.1 1 -1.2 1 -1.1 1 -1.2 1 -1.2 1 -1.2 1 -1.1 1 -1.2 1 -1.2 1 -1.2 1 -1.2 1 -1.1 1 -1.2 1 -1.1 1 -1.2 1 -1.1 1 -1.1 1 -1.1 1 -1.1 1 -1 1 -1 1 -1 1 -1 1 -0.9 1 -0.9 1 -0.9 1 -0.8 1 -0.8 1 -0.8 1 -0.7 1 -0.6 1 -0.7 1 -0.6 1 -0.5 1 -0.5 1 -0.4 1 -0.4 1 -0.3 1 -0.3 1 -0.3 1 -0.2 1 -0.1 1 -0.1 1 0 1 0 1 0.1 1 0.1 1 0.2 1 0.3 1 0.3 1 0.3 1 0.4 1 0.4 1 0.5 1 0.5 1 0.6 1 0.7 1 0.6 1 0.7 1 0.8 1 0.8 1 0.8 1 0.9 1 0.9 1 0.9 1 1 1 1 1 1 1 1 1 1.1 1 1.1 1 1.1 1 1.1 1 1.2 1 1.1 1 1.2 1 1.1 1 1.2 1 1.2 1 1.2 1 1.2 1 1.1 1 1.2 1 1.2 1 1.2 1 1.1 1 1.2 1 1.1 1 1.2 1 1.1 1 1.1 1 1.1 1 1.1 1 1 1 1.1 1 1 1 1 1 1 1 1 1 0.9 1 0.9 1 0.9 1 0.9 1 0.8 1 0.9 1 0.8 1 0.8 1 0.7 1 0.7 1 0.8 1 0.6 1 0.7 1 0.6 1 0.7 1 0.6 1 0.5 1 0.6 1 0.5 1 0.5 1 0.5 1 0.5 1 0.4 1 0.4 1 0.4 1 0.4 1 0.4 1 0.3 1 0.4 1 0.3 1 0.3 1 0.3 1 0.2 1 0.3 1 0.3 1 0.2 1 0.2 1 0.2 1 0.2 1 0.2 1 0.2 1 0.1 1 0.2 1 0.1 1 0.1 1 0.2 1 0.1 1 0.1 1 0.1 1 0.1 1 0.1 1 0.1 1 0.1 1 0 1 0.1 1 0.1 1 0 1 0.1 1 0 1 0.1 1 0 1 0.1 1 0 1 0 1 0.1 1 0 1 0 1 0 1 0.1 1 0 1 0 1 0 1 0 1 0.1 1 0 1 0 1 0 1 0" stroke="#008000" stroke-dasharray="21.5 5.4 3.36 5.4"/>
<path clip-path="url(#cp11)" d="M451.4 204.3l1 -0.1 1 -0.1 1 -0.1 1 -0.2 1 -0.1 1 -0.2 1 -0.1 1 -0.2 1 -0.2 1 -0.2 1 -0.2 1 -0.1 1 -0.2 1 -0.2 1 -0.3 1 -0.2 1 -0.2 1 -0.3 1 -0.2 1 -0.2 1 -0.3 1 -0.3 1 -0.3 1 -0.2 1 -0.3 1 -0.3 1 -0.4 1 -0.3 1 -0.3 1 -0.4 1 -0.3 1 -0.4 1 -0.3 1 -0.4 1 -0.4 1 -0.4 1 -0.4 1 -0.5 1 -0.4 1 -0.4 1 -0.5 1 -0.4 1 -0.5 1 -0.5 1 -0.5 1 -0.5 1 -0.5 1 -0.5 1 -0.6 1 -0.5 1 -0.6 1 -0.5 1 -0.6 1 -0.6 1 -0.6 1 -0.6 1 -0.6 1 -0.6 1 -0.7 1 -0.6 1 -0.7 1 -0.6 1 -0.7 1 -0.7 1 -0.6 1 -0.7 1 -0.7 1 -0.7 1 -0.7 1 -0.7 1 -0.7 1 -0.8 1 -0.7 1 -0.7 1 -0.7 1 -0.8 1 -0.7 1 -0.7 1 -0.8 1.1 -0.7 1 -0.8 1 -0.7 1 -0.7 1 -0.8 1 -0.7 1 -0.7 1 -0.8 1 -0.7 1 -0.7 1 -0.7 1 -0.7 1 -0.8 1 -0.7 1 -0.6 1 -0.7 1 -0.7 1 -0.7 1 -0.6 1 -0.7 1 -0.6 1 -0.6 1 -0.6 1 -0.6 1 -0.6 1 -0.6 1 -0.6 1 -0.5 1 -0.5 1 -0.5 1 -0.5 1 -0.5 1 -0.5 1 -0.4 1 -0.4 1 -0.4 1 -0.4 1 -0.4 1 -0.3 1 -0.4 1 -0.3 1 -0.2 1 -0.3 1 -0.2 1 -0.3 1 -0.2 1 -0.1 1 -0.2 1 -0.1 1 -0.1 1 -0.1 1 -0.1 1 0 1 0 1 0 1 0 1 0.1 1 0.1 1 0.1 1 0.1 1 0.2 1 0.1 1 0.2 1 0.3 1 0.2 1 0.3 1 0.2 1 0.3 1 0.4 1 0.3 1 0.4 1 0.4 1 0.4 1 0.4 1 0.4 1 0.5 1 0.5 1 0.5 1 0.5 1 0.5 1 0.5 1 0.6 1 0.6 1 0.6 1 0.6 1 0.6 1 0.6 1 0.6 1 0.7 1 0.6 1 0.7 1 0.7 1 0.7 1 0.6 1 0.7 1 0.8 1 0.7 1 0.7 1 0.7 1 0.7 1 0.8 1 0.7 1 0.7 1 0.8 1 0.7 1 0.7 1 0.8 1 0.7 1 0.8 1 0.7 1 0.7 1 0.8 1 0.7 1 0.7 1 0.7 1 0.8 1 0.7 1 0.7 1 0.7 1 0.7 1 0.7 1 0.7 1 0.6 1 0.7 1 0.7 1 0.6 1 0.7 1 0.6 1 0.7 1 0.6 1 0.6 1 0.6 1 0.6 1 0.6 1 0.6 1 0.5 1 0.6 1 0.5 1 0.6 1 0.5 1 0.5 1 0.5 1 0.5 1 0.5 1 0.5 1 0.4 1 0.5 1 0.4 1 0.4 1 0.5 1 0.4 1 0.4 1 0.4 1 0.4 1 0.3 1 0.4 1 0.3 1 0.4 1 0.3 1 0.3 1 0.4 1 0.3 1 0.3 1 0.2 1 0.3 1 0.3 1 0.3 1 0.2 1 0.2 1 0.3 1 0.2 1 0.2 1 0.3 1 0.2 1 0.2 1 0.1 1 0.2 1 0.2 1 0.2 1 0.2 1 0.1 1 0.2 1 0.1 1 0.2 1 0.1 1 0.1 1 0.1" stroke="#9932cc" stroke-linecap="square"/>
<path clip-path="url(#cp11)" d="M451.4 179.6l1 0 1 0 1 0.1 1 0 1 0 1 0 1 0 1 0 1 0 1 0 1 0 1 0 1 0 1 0 1 0.1 1 0 1 0 1 0 1 0 1 0 1 0.1 1 0 1 0 1 0 1 0.1 1 0 1 0 1 0.1 1 0 1 0.1 1 0 1 0 1 0.1 1 0 1 0.1 1 0.1 1 0 1 0.1 1 0.1 1 0 1 0.1 1 0.1 1 0.1 1 0.1 1 0.1 1 0.1 1 0.1 1 0.1 1 0.2 1 0.1 1 0.1 1 0.2 1 0.1 1 0.2 1 0.2 1 0.1 1 0.2 1 0.2 1 0.2 1 0.2 1 0.2 1 0.3 1 0.2 1 0.3 1 0.2 1 0.3 1 0.2 1 0.3 1 0.3 1 0.3 1 0.3 1 0.3 1 0.4 1 0.3 1 0.4 1 0.3 1 0.4 1 0.3 1 0.4 1.1 0.4 1 0.4 1 0.4 1 0.4 1 0.5 1 0.4 1 0.4 1 0.5 1 0.4 1 0.4 1 0.5 1 0.5 1 0.4 1 0.5 1 0.5 1 0.4 1 0.5 1 0.5 1 0.4 1 0.5 1 0.5 1 0.4 1 0.5 1 0.4 1 0.5 1 0.4 1 0.5 1 0.4 1 0.4 1 0.4 1 0.4 1 0.4 1 0.4 1 0.4 1 0.3 1 0.4 1 0.3 1 0.3 1 0.3 1 0.3 1 0.3 1 0.2 1 0.3 1 0.2 1 0.2 1 0.1 1 0.2 1 0.1 1 0.1 1 0.1 1 0.1 1 0.1 1 0 1 0 1 0 1 0 1 -0.1 1 -0.1 1 -0.1 1 -0.1 1 -0.1 1 -0.2 1 -0.1 1 -0.2 1 -0.2 1 -0.3 1 -0.2 1 -0.3 1 -0.3 1 -0.3 1 -0.3 1 -0.3 1 -0.4 1 -0.3 1 -0.4 1 -0.4 1 -0.4 1 -0.4 1 -0.4 1 -0.4 1 -0.4 1 -0.5 1 -0.4 1 -0.5 1 -0.4 1 -0.5 1 -0.4 1 -0.5 1 -0.5 1 -0.4 1 -0.5 1 -0.5 1 -0.4 1 -0.5 1 -0.5 1 -0.4 1 -0.5 1 -0.5 1 -0.4 1 -0.4 1 -0.5 1 -0.4 1 -0.4 1 -0.5 1 -0.4 1 -0.4 1 -0.4 1 -0.4 1 -0.4 1 -0.3 1 -0.4 1 -0.3 1 -0.4 1 -0.3 1 -0.4 1 -0.3 1 -0.3 1 -0.3 1 -0.3 1 -0.3 1 -0.2 1 -0.3 1 -0.2 1 -0.3 1 -0.2 1 -0.3 1 -0.2 1 -0.2 1 -0.2 1 -0.2 1 -0.2 1 -0.1 1 -0.2 1 -0.2 1 -0.1 1 -0.2 1 -0.1 1 -0.1 1 -0.2 1 -0.1 1 -0.1 1 -0.1 1 -0.1 1 -0.1 1 -0.1 1 -0.1 1 -0.1 1 0 1 -0.1 1 -0.1 1 0 1 -0.1 1 -0.1 1 0 1 -0.1 1 0 1 0 1 -0.1 1 0 1 -0.1 1 0 1 0 1 -0.1 1 0 1 0 1 0 1 -0.1 1 0 1 0 1 0 1 0 1 0 1 -0.1 1 0 1 0 1 0 1 0 1 0 1 0 1 0 1 0 1 0 1 0 1 0 1 -0.1 1 0 1 0" stroke="#000000" stroke-linecap="square"/>
<path clip-path="url(#cp12)" d="M770 207l1 0 1 0 1 0 1 0 1 -0.1 1 0 1 0 1 0 1 0 1 -0.1 1 0 1 0 1 0 1 -0.1 1 0 1 0 1 -0.1 1 0 1 -0.1 1 0 1 -0.1 1 0 1 -0.1 1 -0.1 1 0 1 -0.1 1.1 -0.1 1 -0.1 1 -0.1 1 -0.1 1 -0.1 1 -0.1 1 -0.2 1 -0.1 1 -0.1 1 -0.2 1 -0.1 1 -0.2 1 -0.2 1 -0.2 1 -0.2 1 -0.2 1 -0.2 1 -0.3 1 -0.3 1 -0.2 1 -0.3 1 -0.3 1 -0.3 1 -0.4 1 -0.3 1 -0.4 1 -0.4 1 -0.4 1 -0.4 1 -0.4 1 -0.5 1 -0.5 1 -0.5 1 -0.5 1 -0.6 1 -0.5 1 -0.6 1 -0.7 1 -0.6 1 -0.7 1 -0.6 1 -0.8 1 -0.7 1 -0.7 1 -0.8 1 -0.8 1 -0.9 1 -0.8 1 -0.9 1 -0.9 1 -0.9 1 -0.9 1 -1 1 -1 1 -1 1 -1 1 -1.1 1 -1 1 -1.1 1 -1.1 1 -1.1 1 -1.1 1 -1.2 1 -1.1 1 -1.2 1 -1.1 1 -1.2 1 -1.2 1 -1.2 1 -1.1 1 -1.2 1 -1.2 1 -1.2 1 -1.2 1 -1.1 1 -1.2 1 -1.1 1 -1.2 1 -1.1 1 -1.1 1 -1.1 1 -1.1 1 -1 1 -1 1 -1 1 -1 1 -0.9 1 -0.9 1 -0.9 1 -0.8 1 -0.8 1 -0.8 1 -0.7 1 -0.6 1 -0.7 1 -0.6 1 -0.5 1 -0.5 1 -0.4 1 -0.4 1 -0.3 1 -0.3 1 -0.3 1 -0.2 1 -0.1 1 -0.1 1 0 1 0 1 0.1 1 0.1 1 0.2 1 0.3 1 0.3 1 0.3 1 0.4 1 0.4 1 0.5 1 0.5 1 0.6 1 0.7 1 0.6 1 0.7 1 0.8 1 0.8 1 0.8 1 0.9 1 0.9 1 0.9 1 1 1 1 1 1 1 1 1 1.1 1 1.1 1 1.1 1 1.1 1 1.2 1 1.1 1 1.2 1 1.1 1 1.2 1 1.2 1 1.2 1 1.2 1 1.1 1 1.2 1 1.2 1 1.2 1 1.1 1 1.2 1 1.1 1 1.2 1 1.1 1 1.1 1 1.1 1 1.1 1 1 1 1.1 1 1 1 1 1 1 1 1 1 0.9 1 0.9 1 0.9 1 0.9 1 0.8 1 0.9 1 0.8 1 0.8 1 0.7 1 0.7 1 0.8 1 0.6 1 0.7 1 0.6 1 0.7 1 0.6 1 0.5 1 0.6 1 0.5 1 0.5 1 0.5 1 0.5 1 0.4 1 0.4 1 0.4 1 0.4 1 0.4 1 0.3 1 0.4 1 0.3 1 0.3 1 0.3 1 0.2 1 0.3 1 0.3 1 0.2 1 0.2 1 0.2 1 0.2 1 0.2 1 0.2 1 0.1 1 0.2 1 0.1 1 0.1 1 0.2 1 0.1 1 0.1 1 0.1 1 0.1 1 0.1 1 0.1 1 0.1 1 0 1 0.1 1 0.1 1 0 1 0.1 1 0 1 0.1 1 0 1 0.1 1 0 1 0 1 0.1 1 0 1 0 1 0 1 0.1 1 0 1 0 1 0 1 0 1 0.1 1 0 1 0 1 0 1 0" stroke="#008000" stroke-dasharray="21.5 5.4 3.36 5.4"/>
<path clip-path="url(#cp12)" d="M770 202.7l1 -0.3 1 -0.3 1 -0.3 1.1 -0.4 1 -0.3 1 -0.4 1 -0.3 1 -0.4 1 -0.4 1 -0.4 1 -0.4 1 -0.4 1 -0.4 1 -0.5 1 -0.5 1 -0.5 1 -0.5 1 -0.5 1 -0.5 1 -0.6 1 -0.5 1 -0.6 1 -0.6 1 -0.6 1 -0.6 1 -0.7 1 -0.6 1 -0.7 1 -0.7 1 -0.6 1 -0.8 1 -0.7 1 -0.7 1 -0.8 1 -0.7 1 -0.8 1 -0.8 1 -0.8 1 -0.9 1 -0.8 1 -0.8 1.1 -0.9 1 -0.8 1 -0.9 1 -0.8 1 -0.9 1 -0.9 1 -0.8 1 -0.9 1 -0.8 1 -0.9 1 -0.8 1 -0.9 1 -0.8 1 -0.8 1 -0.7 1 -0.8 1 -0.8 1 -0.7 1 -0.8 1 -0.7 1 -0.7 1 -0.7 1 -0.7 1 -0.7 1 -0.6 1 -0.7 1 -0.6 1 -0.6 1 -0.6 1 -0.6 1 -0.5 1 -0.5 1 -0.6 1 -0.4 1 -0.5 1 -0.5 1 -0.4 1 -0.4 1.1 -0.4 1 -0.3 1 -0.3 1 -0.3 1 -0.3 1 -0.3 1 -0.2 1 -0.2 1 -0.2 1 -0.1 1 -0.1 1 -0.1 1 -0.1 1 0 1 0 1 0 1 0.1 1 0.1 1 0.1 1 0.2 1 0.2 1 0.2 1 0.2 1 0.2 1 0.3 1 0.3 1 0.2 1 0.3 1 0.3 1 0.3 1 0.4 1 0.3 1 0.3 1 0.3 1 0.3 1 0.3 1 0.3 1 0.2 1.1 0.3 1 0.3 1 0.2 1 0.2 1 0.3 1 0.2 1 0.2 1 0.1 1 0.2 1 0.2 1 0.1 1 0.1 1 0.1 1 0 1 0.1 1 0 1 0 1 -0.1 1 0 1 -0.1 1 -0.1 1 -0.1 1 -0.2 1 -0.2 1 -0.1 1 -0.2 1 -0.2 1 -0.3 1 -0.2 1 -0.2 1 -0.3 1 -0.3 1 -0.2 1 -0.3 1 -0.3 1 -0.3 1 -0.3 1 -0.3 1.1 -0.3 1 -0.4 1 -0.3 1 -0.3 1 -0.3 1 -0.2 1 -0.3 1 -0.3 1 -0.2 1 -0.2 1 -0.2 1 -0.2 1 -0.2 1 -0.1 1 -0.1 1 -0.1 1 0 1 0 1 0 1 0.1 1 0.1 1 0.1 1 0.1 1 0.2 1 0.2 1 0.2 1 0.3 1 0.3 1 0.3 1 0.3 1 0.3 1 0.4 1 0.4 1 0.4 1 0.5 1 0.5 1 0.4 1 0.6 1 0.5 1.1 0.5 1 0.6 1 0.6 1 0.6 1 0.6 1 0.7 1 0.6 1 0.7 1 0.7 1 0.7 1 0.7 1 0.7 1 0.8 1 0.7 1 0.8 1 0.8 1 0.7 1 0.8 1 0.8 1 0.9 1 0.8 1 0.9 1 0.8 1 0.9 1 0.8 1 0.9 1 0.9 1 0.8 1 0.9 1 0.8 1 0.9 1 0.8 1 0.8 1 0.9 1 0.8 1 0.8 1 0.8 1 0.7 1.1 0.8 1 0.7 1 0.7 1 0.8 1 0.6 1 0.7 1 0.7 1 0.6 1 0.7 1 0.6 1 0.6 1 0.6 1 0.6 1 0.5 1 0.6 1 0.5 1 0.5 1 0.5 1 0.5 1 0.5 1 0.5 1 0.4 1 0.4 1 0.4 1 0.4 1 0.4 1 0.4 1 0.3 1 0.4 1 0.3 1 0.4 1 0.3 1 0.3 1 0.3" stroke="#9932cc" stroke-linecap="square"/>
<path clip-path="url(#cp12)" d="M770 119.5l1 0 1 0.1 1 0 1.1 0.1 1 0 1 0.1 1 0.1 1 0 1 0.1 1 0.1 1 0.1 1 0.1 1 0.2 1 0.1 1 0.1 1 0.2 1 0.2 1 0.2 1 0.2 1 0.2 1 0.2 1 0.2 1 0.3 1 0.2 1 0.3 1 0.3 1 0.3 1 0.3 1 0.3 1 0.4 1 0.3 1 0.4 1 0.3 1 0.4 1 0.4 1 0.5 1 0.4 1 0.5 1 0.4 1 0.5 1 0.5 1.1 0.5 1 0.6 1 0.5 1 0.6 1 0.6 1 0.7 1 0.6 1 0.7 1 0.7 1 0.7 1 0.7 1 0.8 1 0.7 1 0.8 1 0.9 1 0.8 1 0.9 1 0.9 1 0.9 1 1 1 1 1 1 1 1.1 1 1 1 1.1 1 1.2 1 1.1 1 1.2 1 1.2 1 1.2 1 1.2 1 1.3 1 1.3 1 1.2 1 1.3 1 1.3 1 1.3 1 1.4 1.1 1.3 1 1.3 1 1.4 1 1.4 1 1.4 1 1.4 1 1.4 1 1.4 1 1.4 1 1.5 1 1.4 1 1.5 1 1.4 1 1.4 1 1.4 1 1.4 1 1.3 1 1.3 1 1.2 1 1.1 1 1.1 1 1.2 1 1.1 1 1.1 1 1.1 1 1 1 1.1 1 1 1 1 1 1 1 0.9 1 0.8 1 0.8 1 0.8 1 0.7 1 0.7 1 0.8 1 0.6 1.1 0.7 1 0.7 1 0.6 1 0.6 1 0.5 1 0.5 1 0.5 1 0.5 1 0.4 1 0.3 1 0.4 1 0.3 1 0.3 1 0.3 1 0.1 1 0.1 1 -0.1 1 -0.1 1 -0.3 1 -0.3 1 -0.3 1 -0.4 1 -0.3 1 -0.4 1 -0.5 1 -0.5 1 -0.5 1 -0.5 1 -0.6 1 -0.6 1 -0.7 1 -0.7 1 -0.6 1 -0.8 1 -0.7 1 -0.7 1 -0.8 1 -0.8 1.1 -0.8 1 -0.9 1 -1 1 -1 1 -1 1 -1.1 1 -1 1 -1.1 1 -1.1 1 -1.1 1 -1.2 1 -1.1 1 -1.1 1 -1.2 1 -1.3 1 -1.3 1 -1.4 1 -1.4 1 -1.4 1 -1.4 1 -1.5 1 -1.4 1 -1.5 1 -1.4 1 -1.4 1 -1.4 1 -1.4 1 -1.4 1 -1.4 1 -1.4 1 -1.3 1 -1.3 1 -1.4 1 -1.3 1 -1.3 1 -1.3 1 -1.2 1 -1.3 1 -1.3 1.1 -1.2 1 -1.2 1 -1.2 1 -1.2 1 -1.1 1 -1.2 1 -1.1 1 -1 1 -1.1 1 -1 1 -1 1 -1 1 -0.9 1 -0.9 1 -0.9 1 -0.8 1 -0.9 1 -0.8 1 -0.7 1 -0.8 1 -0.7 1 -0.7 1 -0.7 1 -0.7 1 -0.6 1 -0.7 1 -0.6 1 -0.6 1 -0.5 1 -0.6 1 -0.5 1 -0.5 1 -0.5 1 -0.4 1 -0.5 1 -0.4 1 -0.5 1 -0.4 1.1 -0.4 1 -0.3 1 -0.4 1 -0.3 1 -0.4 1 -0.3 1 -0.3 1 -0.3 1 -0.3 1 -0.3 1 -0.2 1 -0.3 1 -0.2 1 -0.2 1 -0.2 1 -0.2 1 -0.2 1 -0.2 1 -0.2 1 -0.1 1 -0.1 1 -0.2 1 -0.1 1 -0.1 1 -0.1 1 -0.1 1 0 1 -0.1 1 -0.1 1 0 1 -0.1 1 0 1 -0.1 1 0" stroke="#000000" stroke-linecap="square"/>
<path clip-path="url(#cp13)" d="M1088.7 207.1l1 0 1 0 1 0 1 0 1 0 1 0 1 0 1 0 1 0 1 0 1 -0.1 1 0 1 0 1 0 1 0 1 0 1 -0.1 1 0 1 0 1 -0.1 1 0 1 0 1 -0.1 1 0 1 -0.1 1 -0.1 1 0 1 -0.1 1 -0.1 1 -0.1 1 0 1 -0.1 1 -0.2 1 -0.1 1 -0.1 1 -0.1 1 -0.2 1 -0.1 1 -0.2 1 -0.2 1 -0.2 1 -0.2 1 -0.2 1 -0.2 1 -0.2 1 -0.3 1 -0.3 1 -0.3 1 -0.3 1 -0.3 1 -0.3 1 -0.4 1 -0.4 1 -0.3 1 -0.5 1 -0.4 1 -0.4 1 -0.5 1 -0.5 1 -0.5 1 -0.6 1 -0.5 1 -0.6 1 -0.7 1 -0.6 1 -0.6 1 -0.7 1 -0.7 1 -0.8 1 -0.7 1 -0.8 1 -0.8 1 -0.9 1 -0.8 1 -0.9 1 -0.9 1 -0.9 1 -1 1 -1 1 -1 1 -1 1 -1 1 -1.1 1 -1.1 1 -1.1 1 -1.1 1 -1.1 1 -1.1 1 -1.2 1 -1.2 1 -1.1 1 -1.2 1 -1.2 1 -1.2 1 -1.2 1 -1.2 1 -1.2 1 -1.2 1 -1.3 1 -1.2 1 -1.1 1 -1.2 1 -1.2 1 -1.2 1 -1.1 1 -1.1 1 -1.1 1 -1.1 1 -1.1 1 -1 1 -1.1 1 -0.9 1 -1 1 -0.9 1 -0.9 1 -0.8 1 -0.9 1 -0.7 1 -0.8 1 -0.6 1 -0.7 1 -0.6 1 -0.5 1 -0.5 1 -0.5 1 -0.4 1 -0.3 1 -0.3 1 -0.3 1 -0.2 1 -0.1 1 -0.1 1 0 1 0 1 0.1 1 0.1 1 0.2 1 0.3 1 0.3 1 0.3 1 0.4 1 0.5 1 0.5 1 0.5 1 0.6 1 0.7 1 0.6 1 0.8 1 0.7 1 0.9 1 0.8 1 0.9 1 0.9 1 1 1 0.9 1 1.1 1 1 1 1.1 1 1.1 1 1.1 1 1.1 1 1.1 1 1.2 1 1.2 1 1.2 1 1.1 1 1.2 1 1.3 1 1.2 1 1.2 1 1.2 1 1.2 1 1.2 1 1.2 1 1.2 1 1.1 1 1.2 1 1.2 1 1.1 1 1.1 1 1.1 1 1.1 1 1.1 1 1.1 1 1 1 1 1 1 1 1 1 1 1 0.9 1 0.9 1 0.9 1 0.8 1 0.9 1 0.8 1 0.8 1 0.7 1 0.8 1 0.7 1 0.7 1 0.6 1 0.6 1 0.7 1 0.6 1 0.5 1 0.6 1 0.5 1 0.5 1 0.5 1 0.4 1 0.4 1 0.5 1 0.3 1 0.4 1 0.4 1 0.3 1 0.3 1 0.3 1 0.3 1 0.3 1 0.3 1 0.2 1 0.2 1 0.2 1 0.2 1 0.2 1 0.2 1 0.2 1 0.1 1 0.2 1 0.1 1 0.1 1 0.1 1 0.2 1 0.1 1 0 1 0.1 1 0.1 1 0.1 1.1 0 1 0.1 1 0.1 1 0 1 0.1 1 0 1 0 1 0.1 1 0 1 0 1 0.1 1 0 1 0 1 0 1 0 1 0 1 0.1 1 0 1 0 1 0 1 0 1 0 1 0 1 0 1 0 1 0 1 0" stroke="#008000" stroke-dasharray="21.5 5.4 3.36 5.4"/>
<path clip-path="url(#cp13)" d="M1088.7 207.1l1 -0.3 1 -0.3 1 -0.3 1 -0.3 1 -0.3 1 -0.3 1 -0.3 1 -0.3 1 -0.3 1 -0.4 1 -0.3 1 -0.4 1 -0.3 1 -0.4 1 -0.4 1 -0.4 1 -0.4 1 -0.4 1 -0.5 1 -0.5 1 -0.4 1 -0.5 1 -0.5 1 -0.5 1 -0.6 1 -0.5 1.1 -0.6 1 -0.6 1 -0.6 1 -0.6 1 -0.7 1 -0.6 1 -0.7 1 -0.7 1 -0.7 1 -0.7 1 -0.8 1 -0.7 1 -0.8 1 -0.8 1 -0.8 1 -0.8 1 -0.8 1 -0.8 1 -0.8 1 -0.8 1 -0.9 1 -0.8 1 -0.9 1 -0.8 1 -0.9 1 -0.9 1 -0.9 1 -0.9 1 -0.9 1 -0.9 1 -0.9 1 -1 1 -0.9 1 -0.9 1 -0.9 1 -0.9 1 -0.8 1 -0.9 1 -0.8 1 -0.8 1 -0.8 1.1 -0.8 1 -0.8 1 -0.7 1 -0.7 1 -0.8 1 -0.6 1 -0.7 1 -0.7 1 -0.6 1 -0.7 1 -0.6 1 -0.6 1 -0.5 1 -0.6 1 -0.5 1 -0.5 1 -0.4 1 -0.4 1 -0.4 1 -0.3 1 -0.3 1 -0.3 1 -0.2 1 -0.3 1 -0.2 1 -0.2 1 -0.2 1 -0.1 1 -0.2 1 -0.1 1 0 1 0 1 0.1 1 0.2 1 0.2 1 0.2 1 0.3 1 0.3 1 0.3 1 0.4 1 0.3 1.1 0.3 1 0.4 1 0.3 1 0.3 1 0.3 1 0.4 1 0.3 1 0.3 1 0.2 1 0.3 1 0.3 1 0.2 1 0.3 1 0.2 1 0.2 1 0.2 1 0.2 1 0.1 1 0.2 1 0.1 1 0.2 1 0.1 1 0.1 1 0.1 1 0 1 0 1 -0.1 1 -0.1 1 -0.1 1 -0.2 1 -0.1 1 -0.2 1 -0.1 1 -0.2 1 -0.2 1 -0.2 1 -0.2 1 -0.3 1 -0.2 1 -0.3 1 -0.3 1.1 -0.2 1 -0.3 1 -0.3 1 -0.4 1 -0.3 1 -0.3 1 -0.3 1 -0.4 1 -0.3 1 -0.3 1 -0.4 1 -0.3 1 -0.3 1 -0.3 1 -0.2 1 -0.2 1 -0.2 1 -0.1 1 0 1 0 1 0.1 1 0.2 1 0.1 1 0.2 1 0.2 1 0.2 1 0.3 1 0.2 1 0.3 1 0.3 1 0.3 1 0.4 1 0.4 1 0.4 1 0.5 1 0.5 1 0.6 1 0.5 1 0.6 1 0.6 1 0.7 1.1 0.6 1 0.7 1 0.7 1 0.6 1 0.8 1 0.7 1 0.7 1 0.8 1 0.8 1 0.8 1 0.8 1 0.8 1 0.9 1 0.8 1 0.9 1 0.9 1 0.9 1 0.9 1 1 1 0.9 1 0.9 1 0.9 1 0.9 1 0.9 1 0.9 1 0.9 1 0.8 1 0.9 1 0.8 1 0.9 1 0.8 1 0.8 1 0.8 1 0.8 1 0.8 1 0.8 1 0.8 1 0.8 1 0.7 1 0.8 1.1 0.7 1 0.7 1 0.7 1 0.7 1 0.6 1 0.7 1 0.6 1 0.6 1 0.6 1 0.6 1 0.5 1 0.6 1 0.5 1 0.5 1 0.5 1 0.4 1 0.5 1 0.5 1 0.4 1 0.4 1 0.4 1 0.4 1 0.4 1 0.3 1 0.4 1 0.3 1 0.4 1 0.3 1 0.3 1 0.3 1 0.3 1 0.3 1 0.3 1 0.3 1 0.3 1 0.3" stroke="#9932cc" stroke-linecap="square"/>
<path clip-path="url(#cp13)" d="M1088.7 119.4l1 0 1 0.1 1 0 1 0.1 1 0.1 1 0 1 0.1 1 0.1 1 0.1 1 0.1 1 0.1 1 0.1 1 0.1 1 0.1 1 0.2 1 0.2 1 0.1 1 0.2 1 0.2 1 0.2 1 0.2 1 0.2 1 0.3 1 0.2 1 0.3 1 0.3 1.1 0.3 1 0.3 1 0.3 1 0.3 1 0.4 1 0.3 1 0.4 1 0.4 1 0.4 1 0.5 1 0.4 1 0.5 1 0.5 1 0.5 1 0.5 1 0.5 1 0.6 1 0.6 1 0.6 1 0.6 1 0.6 1 0.7 1 0.7 1 0.7 1 0.7 1 0.8 1 0.8 1 0.8 1 0.8 1 0.9 1 0.9 1 0.9 1 1 1 0.9 1 1.1 1 1 1 1 1 1.1 1 1.2 1 1.1 1 1.2 1.1 1.2 1 1.2 1 1.2 1 1.3 1 1.2 1 1.3 1 1.4 1 1.3 1 1.3 1 1.4 1 1.3 1 1.4 1 1.4 1 1.4 1 1.4 1 1.4 1 1.4 1 1.5 1 1.4 1 1.4 1 1.5 1 1.4 1 1.4 1 1.4 1 1.4 1 1.4 1 1.4 1 1.3 1 1.3 1 1.3 1 1.3 1 1.2 1 1.2 1 1.1 1 1.1 1 1.1 1 1.1 1 1 1 1 1 1 1 0.9 1.1 0.9 1 0.9 1 0.8 1 0.8 1 0.8 1 0.7 1 0.8 1 0.7 1 0.6 1 0.7 1 0.6 1 0.6 1 0.6 1 0.6 1 0.5 1 0.4 1 0.4 1 0.4 1 0.3 1 0.3 1 0.2 1 0.2 1 0.1 1 0 1 0 1 0 1 0 1 -0.1 1 -0.2 1 -0.2 1 -0.3 1 -0.3 1 -0.4 1 -0.4 1 -0.4 1 -0.5 1 -0.6 1 -0.6 1 -0.6 1 -0.6 1 -0.7 1.1 -0.6 1 -0.7 1 -0.8 1 -0.7 1 -0.8 1 -0.8 1 -0.8 1 -0.9 1 -0.9 1 -0.9 1 -1 1 -1 1 -1 1 -1.1 1 -1.1 1 -1.1 1 -1.1 1 -1.2 1 -1.2 1 -1.3 1 -1.3 1 -1.3 1 -1.3 1 -1.4 1 -1.4 1 -1.4 1 -1.4 1 -1.4 1 -1.4 1 -1.5 1 -1.4 1 -1.4 1 -1.5 1 -1.4 1 -1.4 1 -1.4 1 -1.4 1 -1.4 1 -1.4 1 -1.3 1 -1.4 1.1 -1.3 1 -1.3 1 -1.4 1 -1.3 1 -1.2 1 -1.3 1 -1.2 1 -1.2 1 -1.2 1 -1.2 1 -1.1 1 -1.2 1 -1.1 1 -1 1 -1 1 -1.1 1 -0.9 1 -1 1 -0.9 1 -0.9 1 -0.9 1 -0.8 1 -0.8 1 -0.8 1 -0.8 1 -0.7 1 -0.7 1 -0.7 1 -0.7 1 -0.6 1 -0.6 1 -0.6 1 -0.6 1 -0.6 1 -0.5 1 -0.5 1 -0.5 1 -0.5 1 -0.5 1 -0.4 1.1 -0.5 1 -0.4 1 -0.4 1 -0.4 1 -0.3 1 -0.4 1 -0.3 1 -0.3 1 -0.3 1 -0.3 1 -0.3 1 -0.3 1 -0.2 1 -0.3 1 -0.2 1 -0.2 1 -0.2 1 -0.2 1 -0.2 1 -0.1 1 -0.2 1 -0.2 1 -0.1 1 -0.1 1 -0.1 1 -0.1 1 -0.1 1 -0.1 1 -0.1 1 -0.1 1 0 1 -0.1 1 -0.1 1 0 1 -0.1 1 0" stroke="#000000" stroke-linecap="square"/>
<path clip-path="url(#cp20)" d="M121 241.3l1.1 0 1 0 1 0 1 0 1 0 1 0 1 0 1 0 1 0 1 0 1 0 1 0 1 0 1 0 1 0 1 0 1 0 1 0 1 0 1 0 1 0 1 0 1 0 1 0.1 1 0 1 0 1 0 1 0 1 0 1 0 1 0.1 1 0 1 0 1 0 1 0 1 0 1 0 1 -0.1 1 0 1 0 1 0.1 1 0.2 1 0.2 1 0.2 1 0.3 1 0.3 1 0.2 1 0.3 1 0.4 1 0.4 1 0.4 1 0.4 1 0.5 1 0.5 1 0.6 1 0.6 1 0.6 1 0.8 1 0.8 1 0.9 1 1 1 1 1 1.1 1 1.2 1 1.3 1 1.3 1 1.5 1 1.6 1 1.7 1 1.8 1 1.8 1 2 1 2 1 2 1 2.1 1 2.3 1 2.4 1 2.6 1 2.7 1 2.8 1 3 1 3.2 1.1 3.2 1 3.3 1 3.2 1 3 1 3.1 1 3 1 3 1 2.9 1 2.8 1 2.8 1 2.8 1 2.8 1 2.7 1 2.7 1 2.1 1 1.2 1 0.6 1 0.2 1 0 1 -0.4 1 -1 1 -1.9 1 -2.8 1 -3 1 -3 1 -3 1 -3.1 1 -3.2 1 -3.2 1 -3.1 1 -2.5 1 -1 1 -0.2 1 0.2 1 1 1 1.6 1 2.4 1 3.3 1 5 1 6.8 1 7.8 1 8.4 1 8.6 1 8.1 1 6.9 1 5.4 1 3.2 1 1.7 1 0.8 1 -0.3 1 -1.4 1 -3.1 1 -3.8 1 -4.3 1 -4.9 1 -4.9 1 -4.3 1 -3.3 1 -2.3 1 -0.7 1 0.5 1 1.7 1 3.1 1 4.6 1 6.6 1 7.2 1 6.8 1 6.5 1 6.2 1 5.2 1 4 1 2.3 1 0.7 1 -0.3 1 -1 1 -2.3 1 -3.1 1 -3.2 1 -3.2 1 -3 1 -2.8 1 -2.5 1 -1 1.1 0 1 0.3 1 1.2 1 2.6 1 2.9 1 3.1 1 3.1 1 3.3 1 3.3 1 3.3 1 3.1 1 3 1 2.6 1 2.3 1 2.1 1 1.8 1 1.4 1 1.1 1 0.7 1 0.5 1 0.4 1 0 1 -0.2 1 -0.2 1 -0.2 1 -0.2 1 -0.2 1 -0.1 1 -0.2 1 -0.2 1 -0.1 1 -0.2 1 -0.1 1 -0.1 1 -0.1 1 -0.1 1 0 1 0 1 0.1 1 0 1 0.1 1 0.1 1 0.2 1 0.1 1 0.1 1 0.2 1 0.1 1 0.2 1 0.1 1 0.1 1 0.2 1 0.2 1 0.1 1 0.2 1 0.1 1 0.1 1 0.2 1 0.1 1 0.1 1 0.2 1 0.1 1 0.1 1 0.1 1 0.1 1 0.2 1 0.1 1 0.1 1 0.1 1 0.1 1 0.1 1 0 1 0.1 1 0.1 1 0.1 1 0 1 0.1 1 0 1 0.1 1 0.1 1 0 1 0.1 1 0 1.1 0.1 1 0 1 0 1 0.1 1 0 1 0.1 1 0 1 0 1 0 1 0.1 1 0 1 0 1 0.1 1 0 1 0 1 0 1 0 1 0.1 1 0 1 0 1 0 1 0 1 0.1 1 0 1 0 1 0 1 0 1 0 1 0 1 0.1 1 0 1 0 1 0 1 0 1 0 1 0 1 0 1 0 1 0 1 0 1 0 1 0" stroke="#000000" stroke-linecap="square"/>
<path clip-path="url(#cp20)" d="M121 424.9l1.1 0 1 0 1 0 1 0 1 0 1 0 1 0 1 0 1 0 1 0 1 0 1 0 1 0 1 0 1 0 1 0 1 0 1 0 1 0 1 0 1 0 1 0 1 0 1 0 1 0 1 0 1 0 1 0 1 0 1 0 1 0 1 0 1 0 1 0 1 0 1 0 1 0 1 0 1 0 1 0 1 0 1 0 1 0 1 0 1 0 1 0 1 0 1 -0.1 1 0 1 0 1 0 1 0 1 0 1 0 1 0 1 0 1 0 1 0 1 -0.1 1 0 1 0 1 0 1 0 1 0 1 -0.1 1 -0.1 1 -0.1 1 -0.2 1 -0.1 1 -0.2 1 -0.2 1 -0.2 1 -0.2 1 -0.2 1 -0.2 1 -0.2 1 -0.3 1 -0.4 1 -0.4 1 -0.5 1 -0.5 1 -0.6 1.1 -0.7 1 -0.8 1 -1 1 -1 1 -1.1 1 -1.3 1 -1.2 1 -1.3 1 -1.3 1 -1.3 1 -1.3 1 -1.3 1 -1.3 1 -1.3 1 -1.3 1 -1.4 1 -1.3 1 -1.4 1 -1.3 1 -1.2 1 -1.1 1 -0.9 1 -0.9 1 -0.9 1 -0.6 1 -0.1 1 0.5 1 0.9 1 1.1 1 1.4 1 1.4 1 1.4 1 1.6 1 1.5 1 1.5 1 1.2 1 1.1 1 0.8 1 0.7 1 0 1 -1.6 1 -3.7 1 -5.2 1 -6 1 -6.3 1 -6.8 1 -5.8 1 -4.6 1 -3.8 1 -3.4 1 -2.8 1 -2.1 1 -1.1 1 -0.1 1 0.1 1 1.6 1 4.3 1 5 1 5 1 4.9 1 4.7 1 3.9 1 1.7 1 0.3 1 -1.2 1 -3.6 1 -5.3 1 -6.6 1 -7.9 1 -8.1 1 -7.5 1 -6.8 1 -6 1 -4.2 1 -2.6 1 -1.6 1 -1.2 1 -0.5 1 0.5 1 2.5 1 4.3 1 4.5 1 4.8 1.1 4.9 1 4.7 1 3.8 1 2.9 1 2.2 1 1.1 1 0 1 -1.2 1 -2.7 1 -4.2 1 -5.4 1 -6.7 1 -6.3 1 -4.4 1 -4 1 -5.9 1 -6.8 1 -6.7 1 -6.4 1 -5.6 1 -3.9 1 -2.7 1 -2.2 1 -2.1 1 -2 1 -1.5 1 -1 1 -0.6 1 0 1 0.3 1 0.4 1 0.8 1 0.9 1 1 1 1.1 1 1.3 1 1.2 1 1.3 1 1.2 1 1.3 1 1.1 1 1.2 1 1.1 1 1.1 1 0.9 1 0.8 1 0.7 1 0.5 1 0.4 1 0.2 1 0.2 1 0 1 -0.1 1 -0.3 1 -0.4 1 -0.5 1 -0.5 1 -0.5 1 -0.6 1 -0.6 1 -0.6 1 -0.6 1 -0.6 1 -0.7 1 -0.6 1 -0.7 1 -0.6 1 -0.7 1 -0.7 1 -0.8 1 -0.7 1 -0.8 1 -0.7 1 -0.8 1 -0.7 1 -0.8 1 -0.8 1 -0.7 1 -0.8 1 -0.7 1 -0.8 1 -0.8 1.1 -0.7 1 -0.8 1 -0.5 1 -0.5 1 -0.3 1 -0.4 1 -0.4 1 -0.4 1 -0.3 1 -0.4 1 -0.4 1 -0.3 1 -0.4 1 -0.3 1 -0.3 1 -0.3 1 -0.3 1 -0.2 1 -0.2 1 -0.2 1 -0.2 1 -0.2 1 -0.1 1 -0.2 1 -0.1 1 -0.1 1 -0.1 1 -0.1 1 -0.1 1 -0.1 1 0 1 -0.1 1 -0.1 1 0 1 -0.1 1 0 1 -0.1 1 0 1 0 1 -0.1 1 0 1 0" stroke="#0000ff" stroke-dasharray="12.4 5.4"/>
<path clip-path="url(#cp20)" d="M121 424.9l1.1 0.1 1 0 1 0 1 0.1 1 0 1 0.1 1 0 1 0 1 0 1 0.1 1 0 1 0 1 0 1 0 1 0 1 0 1 0 1 0 1 -0.1 1 0 1 0 1 0 1 0 1 -0.1 1 0 1 0 1 0 1 -0.1 1 0 1 0 1 -0.1 1 0 1 -0.1 1 0 1 -0.1 1 -0.1 1 -0.1 1 -0.1 1 -0.2 1 -0.1 1 -0.1 1 -0.2 1 -0.1 1 -0.2 1 -0.2 1 -0.2 1 -0.3 1 -0.3 1 -0.3 1 -0.4 1 -0.4 1 -0.4 1 -0.4 1 -0.5 1 -0.5 1 -0.5 1 -0.7 1 -0.7 1 -0.7 1 -0.9 1 -0.9 1 -0.9 1 -1 1 -1.1 1 -1.3 1 -1.4 1 -1.4 1 -1.4 1 -1.4 1 -1.2 1 -0.4 1 -0.2 1 -0.8 1 -2 1 -2.7 1 -2.7 1 -2.6 1 -2.7 1 -2.7 1 -2.6 1 -2.7 1 -2.7 1.1 -2.6 1 -2.7 1 -2.7 1 -2.7 1 -2.6 1 -2.4 1 -2.2 1 -2.2 1 -2 1 -1.7 1 -1.4 1 -1.1 1 -0.6 1 -0.3 1 0 1 0.2 1 0.5 1 1.2 1 1.7 1 2.1 1 2.2 1 2.6 1 2.6 1 2.6 1 2.8 1 3 1 3 1 2.9 1 2.2 1 2 1 1.6 1 0 1 -1.7 1 -2.7 1 -3.1 1 -3.2 1 -3.5 1 -3.7 1 -4.3 1 -4.6 1 -5.5 1 -4.6 1 -3.3 1 -1.9 1 -0.6 1 0.2 1 0.9 1 2 1 3.1 1 4.3 1 5.1 1 4.9 1 4.3 1 4.1 1 3.7 1 2.5 1 0.1 1 -2.3 1 -3.4 1 -3.9 1 -4 1 -4.1 1 -4.3 1 -4.2 1 -3.4 1 -2.7 1 -2.4 1 -1.3 1 -0.2 1 1 1 3 1 5.4 1 6.8 1 6.1 1 5.5 1 4 1 2.7 1 1.4 1 0.6 1 -0.2 1 -1.2 1 -2 1 -2.6 1.1 -3.2 1 -4.2 1 -4.2 1 -4.3 1 -4.2 1 -4.1 1 -2.9 1 -1.5 1 -0.4 1 0.4 1 1.2 1 2 1 3.1 1 4 1 4.3 1 4.1 1 4 1 4.1 1 4.3 1 4.2 1 4.1 1 3.8 1 3 1 2 1 1.4 1 1 1 0.9 1 0.6 1 0.3 1 0.1 1 -0.1 1 -0.4 1 -0.9 1 -1.1 1 -1.2 1 -1.2 1 -1.2 1 -1.2 1 -1.1 1 -1.2 1 -1.1 1 -1.1 1 -1.1 1 -1 1 -1 1 -0.9 1 -0.7 1 -0.5 1 -0.5 1 -0.3 1 -0.3 1 -0.2 1 -0.2 1 -0.2 1 -0.1 1 -0.1 1 0.1 1 0.1 1 0.3 1 0.4 1 0.6 1 0.5 1 0.5 1 0.6 1 0.6 1 0.6 1 0.6 1 0.6 1 0.7 1 0.7 1 0.6 1 0.7 1 0.7 1 0.7 1 0.7 1 0.8 1 0.7 1 0.7 1 0.7 1 0.7 1 0.7 1 0.6 1.1 0.7 1 0.6 1 0.6 1 0.6 1 0.6 1 0.5 1 0.5 1 0.5 1 0.5 1 0.4 1 0.4 1 0.4 1 0.4 1 0.3 1 0.3 1 0.2 1 0.3 1 0.2 1 0.2 1 0.1 1 0.2 1 0.1 1 0.2 1 0.1 1 0.2 1 0.1 1 0.1 1 0.1 1 0.1 1 0.1 1 0.1 1 0 1 0.1 1 0 1 0.1 1 0 1 0.1 1 0 1 0 1 0.1 1 0 1 0" stroke="#ff0000" stroke-dasharray="3.36 5.54"/>
<path clip-path="url(#cp21)" d="M451.4 241.3l1 -0.1 1 -0.1 1 -0.1 1 0 1 -0.1 1 0 1 -0.1 1 0 1 0.1 1 0 1 0 1 0.1 1 0.1 1 0.2 1 0.2 1 0.2 1 0.2 1 0.2 1 0.2 1 0.2 1 0.3 1 0.2 1 0.3 1 0.3 1 0.4 1 0.4 1 0.6 1 0.6 1 0.6 1 0.6 1 0.7 1 0.8 1 0.8 1 0.9 1 0.9 1 1.1 1 1.1 1 1.1 1 1.3 1 1.3 1 1.4 1 1.5 1 1.6 1 1.7 1 1.8 1 1.9 1 2.1 1 2.1 1 2.2 1 2.3 1 2.4 1 2.5 1 2.8 1 2.8 1 2.8 1 2.8 1 2.8 1 2.8 1 2.8 1 2.8 1 2.8 1 2.7 1 2.4 1 2.3 1 2.2 1 2.1 1 1.9 1 1.6 1 1.3 1 1.2 1 0.8 1 0.5 1 0.2 1 0 1 -0.4 1 -0.8 1 -1.3 1 -1.7 1 -1.9 1.1 -2 1 -2.1 1 -2.1 1 -2.3 1 -2.3 1 -2.1 1 -1.5 1 -1.1 1 -0.7 1 -0.2 1 0.4 1 1.3 1 2.8 1 4 1 4.7 1 5.5 1 5.2 1 3.8 1 6.6 1 7.2 1 6.4 1 5.9 1 5.3 1 4.2 1 3 1 2 1 1.2 1 0.3 1 -0.3 1 -1.3 1 -3.2 1 -4.1 1 -4.1 1 -3.8 1 -3.6 1 -3.4 1 -1.5 1 -0.1 1 0.3 1 1.3 1 3 1 4.7 1 6.5 1 7.8 1 7.2 1 6.3 1 5.5 1 4.1 1 2.7 1 1.6 1 0.4 1 -0.7 1 -1.7 1 -3.1 1 -3.2 1 -3.2 1 -3.1 1 -3 1 -2.4 1 -0.3 1 0.6 1 1 1 2.6 1 4.3 1 4.4 1 4.4 1 4.4 1 4.4 1 4.2 1 3 1 2.1 1 1.6 1 0.8 1 -0.3 1 -0.7 1 -1.1 1 -1.3 1 -1.7 1 -1.9 1 -1.8 1 -1.3 1 -1 1 -0.7 1 -0.6 1 -0.3 1 0 1 0.3 1 0.5 1 0.8 1 1 1 1.2 1 1.2 1 1.3 1 1.2 1 1.1 1 1.1 1 1 1 1 1 1 1 0.9 1 0.9 1 0.7 1 0.7 1 0.7 1 0.6 1 0.5 1 0.5 1 0.3 1 0 1 -0.2 1 -0.2 1 -0.4 1 -0.4 1 -0.4 1 -0.5 1 -0.6 1 -0.5 1 -0.6 1 -0.5 1 -0.6 1 -0.6 1 -0.6 1 -0.7 1 -0.8 1 -0.8 1 -0.8 1 -0.9 1 -0.9 1 -0.9 1 -1 1 -0.9 1 -0.9 1 -0.9 1 -0.9 1 -0.9 1 -0.9 1 -0.8 1 -0.9 1 -0.8 1 -0.8 1 -0.8 1 -0.8 1 -0.8 1 -0.8 1 -0.7 1 -0.7 1 -0.6 1 -0.6 1 -0.5 1 -0.4 1 -0.4 1 -0.3 1 -0.3 1 -0.3 1 -0.3 1 -0.2 1 -0.2 1 -0.2 1 -0.2 1 -0.2 1 -0.1 1 -0.2 1 -0.1 1 -0.1 1 -0.1 1 -0.1 1 0 1 0 1 0 1 0 1 0 1 -0.1 1 0 1 0.1 1 0 1 0 1 0 1 0 1 0.1 1 0 1 0 1 0.1 1 0 1 0.1 1 0 1 0.1 1 0" stroke="#000000" stroke-linecap="square"/>
<path clip-path="url(#cp21)" d="M451.4 424.9l1 0.1 1 0 1 0.1 1 0 1 0.1 1 0 1 0.1 1 0 1 0 1 0.1 1 0 1 0 1 0 1 0 1 0 1 0 1 0 1 0 1 0 1 0 1 0 1 0 1 -0.1 1 0 1 0 1 0 1 -0.1 1 0 1 0 1 -0.1 1 0 1 -0.1 1 0 1 0 1 -0.1 1 -0.1 1 0 1 -0.1 1 -0.1 1 -0.1 1 -0.2 1 -0.2 1 -0.1 1 -0.2 1 -0.2 1 -0.2 1 -0.3 1 -0.3 1 -0.3 1 -0.4 1 -0.4 1 -0.5 1 -0.4 1 -0.5 1 -0.5 1 -0.5 1 -0.5 1 -0.5 1 -0.5 1 -0.5 1 -0.6 1 -0.7 1 -0.7 1 -0.8 1 -0.8 1 -1 1 -1.1 1 -1.2 1 -1.2 1 -1.2 1 -1.2 1 -1.2 1 -1.2 1 -1.2 1 -1.1 1 -1.1 1 -1 1 -1 1 -1 1.1 -0.8 1 -0.5 1 -0.1 1 0.2 1 0.4 1 0.6 1 0.8 1 0.9 1 1.1 1 1.1 1 1.1 1 1 1 0.8 1 0.7 1 0.6 1 0.2 1 -0.8 1 -1.8 1 -2.5 1 -3.4 1 -4.1 1 -5.1 1 -5.5 1 -4.8 1 -4.1 1 -3.9 1 -3.6 1 -3.2 1 -3 1 -2.5 1 -1.5 1 -0.5 1 1 1 2.5 1 3.8 1 4.2 1 3.8 1 3.4 1 3.1 1 2.9 1 2 1 0.7 1 -1.2 1 -3.6 1 -5 1 -5.5 1 -6.2 1 -7 1 -7 1 -6.4 1 -5.7 1 -4.3 1 -2.3 1 -1 1 -0.2 1 1.7 1 4 1 4.5 1 4.4 1 4.1 1 4 1 3.9 1 3.4 1 2.3 1 1.1 1 -1.7 1 -5.2 1 -6.8 1 -7.3 1 -7.5 1 -7.5 1 -7.2 1 -6.9 1 -5.7 1 -3.7 1 -2 1 0.7 1 2.3 1 4.1 1 4.5 1 4.3 1 4.2 1 4 1 3.9 1 3.5 1 2.8 1 2.2 1 1.9 1 0.6 1 -1 1 -1.9 1 -2.9 1 -3.6 1 -4 1 -4.5 1 -4.8 1 -4.9 1 -5 1 -5.4 1 -6.2 1 -5.5 1 -4.4 1 -2.8 1 -1.7 1 -1.2 1 -0.8 1 -0.4 1 0.3 1 0.9 1 1.1 1 1.2 1 1.2 1 1.7 1 2 1 2.2 1 2.3 1 2.2 1 2.1 1 2 1 2 1 2 1 2 1 1.9 1 1.8 1 1.7 1 1.7 1 1.3 1 0.9 1 0.7 1 0.6 1 0.4 1 0.4 1 0.1 1 -0.2 1 -0.3 1 -0.4 1 -0.5 1 -0.6 1 -0.7 1 -0.7 1 -0.7 1 -0.8 1 -0.8 1 -0.8 1 -0.8 1 -0.9 1 -0.8 1 -0.9 1 -0.9 1 -0.9 1 -0.9 1 -0.8 1 -0.9 1 -0.9 1 -0.8 1 -0.8 1 -0.8 1 -0.8 1 -0.8 1 -0.8 1 -0.8 1 -0.8 1 -0.7 1 -0.8 1 -0.7 1 -0.7 1 -0.7 1 -0.6 1 -0.7 1 -0.5 1 -0.6 1 -0.5 1 -0.4 1 -0.4 1 -0.4 1 -0.3 1 -0.3 1 -0.3 1 -0.3 1 -0.2 1 -0.2 1 -0.2 1 -0.2 1 -0.2 1 -0.2 1 -0.2 1 -0.1" stroke="#0000ff" stroke-dasharray="12.4 5.4"/>
<path clip-path="url(#cp21)" d="M451.4 424.9l1 0.1 1 0.2 1 0.1 1 0 1 0.1 1 0 1 0 1 0 1 0 1 0 1 -0.1 1 0 1 -0.1 1 -0.1 1 -0.1 1 -0.2 1 -0.1 1 -0.2 1 -0.1 1 -0.3 1 -0.2 1 -0.4 1 -0.3 1 -0.5 1 -0.4 1 -0.5 1 -0.6 1 -0.6 1 -0.7 1 -0.8 1 -0.8 1 -0.9 1 -1 1 -1.1 1 -1.1 1 -1.2 1 -1.3 1 -1.3 1 -1.3 1 -1.4 1 -1.4 1 -1.5 1 -1.5 1 -1.5 1 -1.6 1 -1.5 1 -1.7 1 -1.7 1 -1.7 1 -1.9 1 -2 1 -2.2 1 -2.2 1 -2.3 1 -2.2 1 -2.2 1 -1.9 1 -1.9 1 -1.8 1 -1.8 1 -1.7 1 -1.6 1 -1.5 1 -1.3 1 -1.2 1 -1.2 1 -1 1 -0.6 1 -0.4 1 -0.1 1 0.2 1 0.5 1 1 1 1.4 1 1.8 1 1.8 1 1.7 1 1.3 1 1.9 1.1 2.2 1 2.3 1 2.3 1 2.4 1 2.3 1 2 1 0.9 1 -0.2 1 -0.8 1 -1 1 -1 1 -1.7 1 -3.4 1 -3.6 1 -3.4 1 -3.4 1 -3.4 1 -4.2 1 -4.4 1 -3.8 1 -3.3 1 -2.2 1 -0.9 1 0 1 0.6 1 1.4 1 2.3 1 3 1 3.9 1 4.3 1 4.2 1 3.9 1 3.2 1 1.4 1 0.1 1 -0.3 1 -1.2 1 -2.3 1 -3.5 1 -4.9 1 -5.9 1 -4.6 1 -3.7 1 -2.6 1 -1.8 1 -1.4 1 -0.9 1 0.8 1 3.3 1 4.9 1 5.7 1 5.1 1 4.4 1 3.8 1 3.2 1 1.8 1 -0.3 1 -2.3 1 -3.6 1 -4.6 1 -4.7 1 -5 1 -5.5 1 -3.6 1 -1.4 1 -0.4 1 -0.6 1 0.3 1 4.2 1 5.5 1 5.7 1 5.3 1 4 1 3.6 1 3.5 1 2.7 1 1.3 1 -0.8 1 -2.4 1 -3 1 -3.1 1 -3.1 1 -3.3 1 -3.9 1 -4.5 1 -3.5 1 -2.4 1 -1.7 1 -0.9 1 0.4 1 1.4 1 2 1 2.7 1 3.4 1 4.1 1 3.9 1 3.2 1 3 1 4.3 1 5.6 1 3.3 1 2.6 1 1.8 1 1.1 1 0.8 1 0.6 1 0.1 1 0 1 -0.2 1 -0.8 1 -1.1 1 -1.2 1 -1.4 1 -1.4 1 -1.5 1 -1.6 1 -1.7 1 -1.8 1 -1.7 1 -1.5 1 -1.2 1 -1 1 -0.8 1 -0.7 1 -0.6 1 -0.6 1 -0.3 1 -0.2 1 0.2 1 0.3 1 0.6 1 0.7 1 0.9 1 1.1 1 1.4 1 1.4 1 1.6 1 1.5 1 1.6 1 1.5 1 1.5 1 1.4 1 1.4 1 1.4 1 1.4 1 1.4 1 1.3 1 1.4 1 1.3 1 1.3 1 1.3 1 1.3 1 1.1 1 1.2 1 1.1 1 1 1 1.1 1 0.9 1 1 1 0.9 1 0.8 1 0.9 1 0.8 1 0.7 1 0.8 1 0.7 1 0.7 1 0.7 1 0.6 1 0.6 1 0.6 1 0.5 1 0.5 1 0.5 1 0.4 1 0.4 1 0.4 1 0.4 1 0.3 1 0.4 1 0.3 1 0.2 1 0.3 1 0.2 1 0.2 1 0.1 1 0.1" stroke="#ff0000" stroke-dasharray="3.36 5.54"/>
<path clip-path="url(#cp22)" d="M770 241.3l1 0 1 0 1 -0.1 1 0 1 0 1 0 1 0 1 -0.1 1 0 1 0 1 0 1 0.1 1 0 1 0 1 0 1 0 1 0.1 1 0 1 0.1 1 0 1 0.1 1 0.1 1 0 1 0.1 1 0.1 1 0.1 1.1 0.2 1 0.1 1 0.1 1 0.1 1 0.2 1 0.1 1 0.1 1 0.1 1 0.1 1 0.1 1 0.1 1 0.1 1 0.1 1 0 1 0.1 1 0.1 1 0 1 0.1 1 0.1 1 0.2 1 0.3 1 0.3 1 0.5 1 0.6 1 0.6 1 0.7 1 0.8 1 0.9 1 0.9 1 0.9 1 0.8 1 0.7 1 0.7 1 0.6 1 0.6 1 0.6 1 0.6 1 0.7 1 0.6 1 0.6 1 0.7 1 0.6 1 0.8 1 0.8 1 0.9 1 1 1 1.3 1 1.5 1 1.7 1 1.9 1 2 1 2.1 1 2.1 1 2.2 1 2.2 1 2.2 1 2.3 1 2.1 1 2.1 1 1.9 1 1.9 1 1.8 1 1.8 1 1.8 1 1.8 1 1.7 1 1.6 1 1.3 1 1.4 1 1.3 1 1.5 1 1.7 1 2 1 2.4 1 2.5 1 2.5 1 2.5 1 2.5 1 2.5 1 2.5 1 2.5 1 2.5 1 2.5 1 2.5 1 2.5 1 2.5 1 2.4 1 1.8 1 1.4 1 1.1 1 1 1 1 1 0.9 1 0.7 1 0.5 1 0.7 1 0.7 1 1 1 1.4 1 1.7 1 1.7 1 1.6 1 1.7 1 1.7 1 1.6 1 1.7 1 1.8 1 1.8 1 1.8 1 1.7 1 1.5 1 1.3 1 1 1 0.9 1 0.8 1 0.7 1 0.7 1 0.8 1 0.8 1 0.8 1 0.9 1 0.8 1 0.8 1 0.9 1 0.9 1 1.3 1 1.5 1 1.7 1 1.7 1 1.7 1 1.4 1 1.5 1 1.4 1 1.4 1 1.3 1 1.3 1 1.1 1 1 1 0.9 1 0.8 1 0.7 1 0.7 1 0.7 1 0.6 1 0.6 1 0.6 1 0.6 1 0.6 1 0.6 1 0.6 1 0.6 1 0.5 1 0.6 1 0.5 1 0.5 1 0.5 1 0.5 1 0.5 1 0.4 1 0.4 1 0.3 1 0.3 1 0.3 1 0.2 1 0.2 1 0.1 1 0.2 1 0.1 1 0.1 1 0.1 1 0.1 1 0.1 1 0.1 1 0 1 0.1 1 0 1 0.1 1 0 1 0.1 1 0 1 0.1 1 0 1 0.1 1 0 1 0 1 0 1 0.1 1 0 1 0 1 0 1 0 1 0 1 0 1 0.1 1 0 1 0 1 0 1 0 1 0 1 0 1 0 1 0 1 0 1 0.1 1 0 1 0 1 0 1 0 1 0 1 0 1 0 1 0 1 0 1 0 1 0 1 0 1 0 1 0 1 0 1 0 1 0 1 0 1 0 1 0 1 0 1 0 1 0 1 0 1 -0.1 1 0 1 0 1 0 1 0 1 0 1 0 1 0 1 -0.1 1 0 1 0 1 0" stroke="#000000" stroke-linecap="square"/>
<path clip-path="url(#cp22)" d="M770 424.9l1 0 1 0 1 0.1 1 0 1 0 1 0 1 0 1 0 1 0 1 0.1 1 0 1 0 1 0 1 0 1 0 1 0 1 0 1 0 1 0 1 0 1 0 1 0 1 0 1 0 1 0 1 0 1.1 0 1 0 1 -0.1 1 0 1 0 1 0 1 0 1 0 1 0 1 0 1 0 1 0 1 -0.1 1 0 1 0 1 0 1 0 1 0 1 0 1 -0.1 1 0 1 0 1 0 1 0 1 0 1 -0.1 1 0 1 0 1 0 1 0 1 0 1 -0.1 1 0 1 0 1 -0.1 1 0 1 -0.1 1 -0.1 1 0 1 -0.1 1 -0.1 1 -0.1 1 0 1 -0.1 1 -0.1 1 -0.1 1 -0.2 1 -0.2 1 -0.2 1 -0.3 1 -0.2 1 -0.3 1 -0.3 1 -0.4 1 -0.3 1 -0.4 1 -0.4 1 -0.5 1 -0.5 1 -0.5 1 -0.5 1 -0.5 1 -0.6 1 -0.5 1 -0.6 1 -0.6 1 -0.6 1 -0.6 1 -0.7 1 -0.6 1 -0.7 1 -0.7 1 -0.8 1 -0.7 1 -0.8 1 -0.9 1 -0.9 1 -1 1 -1 1 -1.1 1 -1.2 1 -1.2 1 -1.3 1 -1.2 1 -1.4 1 -1.6 1 -1.6 1 -1.7 1 -1.6 1 -1.3 1 -1.1 1 -1 1 -1 1 -1 1 -1 1 -1 1 -1 1 -1 1 -1 1 -1 1 -1 1 -1 1 -1 1 -1 1 -1 1 -1.2 1 -1.7 1 -2.2 1 -2.3 1 -2.4 1 -2 1 -1.7 1 -1.5 1 -1.4 1 -1.3 1 -1.4 1 -1.2 1 -1.1 1 -1.1 1 -1 1 -1 1 -0.9 1 -1 1 -1 1 -1.1 1 -1.2 1 -1.4 1 -1.9 1 -2.4 1 -2.5 1 -2.7 1 -2.8 1 -2.7 1 -2.9 1 -2.8 1 -2.8 1 -2.8 1 -2.7 1 -2.5 1 -2.5 1 -2.3 1 -2.1 1 -1.8 1 -1.4 1 -1.2 1 -1 1 -1 1 -1.2 1 -1.3 1 -1.7 1 -1.7 1 -1.8 1 -1.8 1 -1.8 1 -1.9 1 -2 1 -2.1 1 -2.2 1 -2.2 1 -2.2 1 -2.2 1 -2.2 1 -2.1 1 -2.1 1 -2 1 -1.8 1 -1.4 1 -1 1 -0.8 1 -0.8 1 -0.7 1 -0.7 1 -0.6 1 -0.6 1 -0.7 1 -0.6 1 -0.6 1 -0.6 1 -0.7 1 -0.6 1 -0.6 1 -0.6 1 -0.7 1 -0.6 1 -0.6 1 -0.6 1 -0.7 1 -0.6 1 -0.6 1 -0.6 1 -0.7 1 -0.6 1 -0.5 1 -0.4 1 -0.3 1 -0.2 1 -0.2 1 -0.1 1 -0.1 1 -0.1 1 -0.1 1 -0.1 1 -0.1 1 -0.1 1 -0.1 1 -0.1 1 -0.1 1 -0.1 1 0 1 -0.1 1 -0.1 1 0 1 0 1 -0.1 1 0 1 0 1 0 1 -0.1 1 0 1 0 1 -0.1 1 0 1 0 1 0 1 -0.1 1 0 1 0 1 0 1 0 1 -0.1 1 0 1 0 1 0 1 0 1 -0.1 1 0 1 0 1 0 1 0 1 -0.1" stroke="#0000ff" stroke-dasharray="12.4 5.4"/>
<path clip-path="url(#cp22)" d="M770 424.9l1 0 1 0.1 1 0 1 0.1 1 0 1 0 1 0 1 0.1 1 0 1 0 1 0 1 0 1 0 1 0 1 -0.1 1 0 1 0 1 -0.1 1 -0.1 1 0 1 -0.1 1 -0.1 1 -0.1 1 -0.1 1 -0.1 1 -0.2 1.1 -0.1 1 -0.1 1 -0.2 1 -0.1 1 -0.2 1 -0.1 1 -0.2 1 -0.1 1 -0.2 1 -0.1 1 -0.1 1 -0.2 1 -0.1 1 -0.2 1 -0.1 1 -0.2 1 -0.2 1 -0.2 1 -0.2 1 -0.2 1 -0.4 1 -0.4 1 -0.5 1 -0.6 1 -0.6 1 -0.6 1 -0.6 1 -0.6 1 -0.6 1 -0.6 1 -0.6 1 -0.6 1 -0.7 1 -0.6 1 -0.6 1 -0.7 1 -0.7 1 -0.7 1 -0.7 1 -0.7 1 -0.8 1 -0.8 1 -0.8 1 -0.8 1 -0.8 1 -0.9 1 -1 1 -1.1 1 -1.3 1 -1.4 1 -1.7 1 -1.9 1 -2.1 1 -2.1 1 -2 1 -2 1 -2 1 -2.1 1 -1.9 1 -1.8 1 -1.3 1 -1.1 1 -0.9 1 -0.9 1 -0.9 1 -0.8 1 -0.9 1 -0.8 1 -0.8 1 -0.8 1 -0.9 1 -0.8 1 -0.8 1 -0.8 1 -0.9 1 -0.8 1 -1 1 -1.2 1 -1.2 1 -1.2 1 -1.3 1 -1.2 1 -1.1 1 -1.2 1 -1.2 1 -1.1 1 -0.9 1 -0.8 1 -0.5 1 -0.3 1 -0.4 1 -0.3 1 -0.3 1 -0.3 1 -0.3 1 -0.3 1 -0.3 1 -0.3 1 -0.3 1 -0.3 1 -0.3 1 -0.3 1 -0.3 1 -0.3 1 -0.4 1 -0.3 1 -0.3 1 -0.1 1 0 1 0.1 1 0.4 1 0.4 1 0.5 1 0.5 1 0.5 1 0.4 1 0.4 1 0.4 1 0.4 1 0.3 1 0.4 1 0.4 1 0.3 1 0.4 1 0.4 1 0.4 1 0.5 1 0.5 1 0.6 1 0.6 1 0.8 1 0.9 1 1 1 1.2 1 1.3 1 1.4 1 1.5 1 1.4 1 1.3 1 1.2 1 1.2 1 1.1 1 1.2 1 1.2 1 1.1 1 1.1 1 1 1 1 1 0.9 1 1 1 1 1 1 1 1.1 1 1.2 1 1.2 1 1.2 1 1.4 1 1.5 1 1.6 1 1.6 1 1.6 1 1.7 1 1.7 1 1.9 1 1.8 1 1.7 1 1.4 1 1.2 1 1 1 1 1 0.9 1 0.8 1 0.9 1 0.8 1 0.9 1 0.9 1 0.8 1 0.8 1 0.8 1 0.7 1 0.6 1 0.7 1 0.6 1 0.6 1 0.6 1 0.6 1 0.6 1 0.6 1 0.5 1 0.6 1 0.6 1 0.5 1 0.5 1 0.4 1 0.4 1 0.4 1 0.3 1 0.3 1 0.2 1 0.2 1 0.1 1 0.2 1 0.1 1 0 1 0.1 1 0 1 0.1 1 0.1 1 0 1 0.1 1 0 1 0.1 1 0 1 0 1 0.1 1 0 1 0 1 0.1 1 0 1 0 1 0 1 0 1 0 1 0 1 0 1 0 1 0 1 0.1 1 0 1 0 1 0 1 0 1 0 1 0 1 -0.1 1 0 1 0 1 0 1 0 1 0" stroke="#ff0000" stroke-dasharray="3.36 5.54"/>
<path clip-path="url(#cp23)" d="M1088.7 241.3l1 0 1 0 1 0 1 0 1 0 1 0 1 0 1 0 1 0 1 0 1 0 1 0 1 0 1 0.1 1 0 1 0 1 0 1 0.1 1 0 1 0.1 1 0 1 0 1 0.1 1 0 1 0.1 1 0.1 1 0 1 0.1 1 0.1 1 0.1 1 0.1 1 0.1 1 0.1 1 0.1 1 0.2 1 0.1 1 0.1 1 0.2 1 0.2 1 0.1 1 0.2 1 0.3 1 0.2 1 0.2 1 0.3 1 0.3 1 0.3 1 0.4 1 0.4 1 0.4 1 0.4 1 0.5 1 0.5 1 0.6 1 0.6 1 0.7 1 0.7 1 0.8 1 0.7 1 0.9 1 0.8 1 0.9 1 0.9 1 0.9 1 1 1 1 1 1 1 1.1 1 1.1 1 1.1 1 1.2 1 1.2 1 1.2 1 1.3 1 1.4 1 1.4 1 1.5 1 1.5 1 1.7 1 1.6 1 1.8 1 1.8 1 1.8 1 1.9 1 1.9 1 1.9 1 2 1 1.9 1 2 1 2 1 2 1 2 1 2 1 2 1 1.9 1 2 1 1.9 1 1.9 1 1.9 1 1.8 1 1.9 1 1.9 1 1.9 1 1.9 1 1.8 1 1.9 1 1.9 1 1.9 1 1.9 1 1.8 1 2 1 1.9 1 1.9 1 2 1 2 1 2 1 2 1 1.9 1 1.9 1 1.9 1 1.8 1 1.6 1 1.7 1 1.5 1 1.4 1 1.4 1 1.4 1 1.3 1 1.3 1 1.2 1 1.3 1 1.3 1 1.2 1 1.3 1 1.2 1 1.3 1 1.2 1 1.3 1 1.2 1 1.3 1 1.3 1 1.2 1 1.2 1 1.3 1 1.2 1 1.2 1 1.2 1 1.1 1 1.2 1 1.1 1 1.1 1 1.1 1 1.1 1 1.1 1 1.1 1 1.1 1 1.1 1 1.1 1 1.1 1 1 1 1.1 1 1.1 1 1.1 1 1.1 1 1.1 1 1 1 1 1 1 1 0.9 1 0.8 1 0.8 1 0.7 1 0.6 1 0.6 1 0.6 1 0.5 1 0.5 1 0.5 1 0.5 1 0.4 1 0.5 1 0.4 1 0.4 1 0.4 1 0.3 1 0.3 1 0.3 1 0.3 1 0.3 1 0.2 1 0.2 1 0.2 1 0.2 1 0.1 1 0.1 1 0.2 1 0.1 1 0.1 1 0.1 1 0 1 0.1 1 0.1 1 0 1 0.1 1 0 1 0.1 1 0 1 0 1 0.1 1 0 1 0 1 0 1 0.1 1 0 1 0 1 0 1 0.1 1 0 1 0 1 0 1 0 1 0.1 1 0 1 0 1 0 1 0 1 0 1 0 1 0 1 0.1 1 0 1 0 1 0 1 0 1 0 1 0 1 0 1 0 1 0 1.1 0 1 0 1 0 1 0 1 0 1 0 1 0 1 0 1 -0.1 1 0 1 0 1 0 1 0 1 0 1 -0.1 1 0 1 0 1 0 1 -0.1 1 0 1 0 1 0 1 -0.1 1 0 1 0 1 -0.1 1 0" stroke="#000000" stroke-linecap="square"/>
<path clip-path="url(#cp23)" d="M1088.7 424.9l1 0.1 1 0 1 0 1 0.1 1 0 1 0 1 0.1 1 0 1 0 1 0 1 0.1 1 0 1 0 1 0 1 0 1 0.1 1 0 1 0 1 0 1 0 1 0 1 0 1 0 1 0 1 0 1 0 1 0 1 0 1 0 1 0 1 0 1 0 1 0 1 0 1 0 1 0 1 -0.1 1 0 1 0 1 0 1 0 1 0 1 -0.1 1 0 1 0 1 0 1 -0.1 1 0 1 0 1 0 1 -0.1 1 0 1 0 1 0 1 -0.1 1 0 1 0 1 -0.1 1 0 1 0 1 -0.1 1 0 1 -0.1 1 0 1 -0.1 1 -0.1 1 -0.1 1 0 1 -0.1 1 -0.2 1 -0.1 1 -0.1 1 -0.1 1 -0.2 1 -0.2 1 -0.2 1 -0.2 1 -0.2 1 -0.3 1 -0.3 1 -0.3 1 -0.3 1 -0.4 1 -0.3 1 -0.4 1 -0.5 1 -0.4 1 -0.5 1 -0.6 1 -0.5 1 -0.6 1 -0.6 1 -0.7 1 -0.7 1 -0.7 1 -0.8 1 -0.8 1 -0.8 1 -0.9 1 -0.8 1 -0.9 1 -0.9 1 -1 1 -0.9 1 -0.9 1 -1 1 -0.9 1 -1 1 -1 1 -1 1 -1 1 -1 1 -1 1 -1 1 -1 1 -1 1 -1.1 1 -1 1 -1.1 1 -1 1 -1.1 1 -1.1 1 -1.1 1 -1.1 1 -1.2 1 -1.1 1 -1.2 1 -1.1 1 -1.2 1 -1.3 1 -1.2 1 -1.2 1 -1.3 1 -1.3 1 -1.2 1 -1.3 1 -1.4 1 -1.3 1 -1.3 1 -1.4 1 -1.4 1 -1.4 1 -1.5 1 -1.5 1 -1.5 1 -1.6 1 -1.7 1 -1.7 1 -1.7 1 -1.8 1 -1.8 1 -1.8 1 -1.9 1 -1.9 1 -1.9 1 -2 1 -2 1 -2 1 -2.1 1 -2.1 1 -2.1 1 -2.2 1 -2.3 1 -2.3 1 -2.3 1 -2.4 1 -2.4 1 -2.4 1 -2.5 1 -2.4 1 -2.5 1 -2.5 1 -2.4 1 -2.5 1 -2.4 1 -2.4 1 -2.3 1 -2.3 1 -2.2 1 -2.1 1 -2.1 1 -2 1 -1.9 1 -1.9 1 -1.7 1 -1.8 1 -1.6 1 -1.6 1 -1.6 1 -1.5 1 -1.4 1 -1.4 1 -1.3 1 -1.2 1 -1.2 1 -1.1 1 -1 1 -1 1 -0.9 1 -0.9 1 -0.8 1 -0.8 1 -0.7 1 -0.7 1 -0.7 1 -0.6 1 -0.6 1 -0.5 1 -0.6 1 -0.5 1 -0.4 1 -0.5 1 -0.4 1 -0.4 1 -0.3 1 -0.4 1 -0.3 1 -0.3 1 -0.2 1 -0.3 1 -0.2 1 -0.3 1 -0.2 1 -0.2 1 -0.2 1 -0.1 1 -0.2 1 -0.2 1 -0.1 1 -0.1 1 -0.1 1 -0.1 1 -0.1 1 -0.1 1 -0.1 1 -0.1 1 -0.1 1 0 1 -0.1 1.1 -0.1 1 0 1 0 1 -0.1 1 0 1 0 1 -0.1 1 0 1 0 1 -0.1 1 0 1 0 1 -0.1 1 0 1 0 1 0 1 -0.1 1 0 1 0 1 0 1 0 1 -0.1 1 0 1 0 1 0 1 0 1 0" stroke="#0000ff" stroke-dasharray="12.4 5.4"/>
<path clip-path="url(#cp23)" d="M1088.7 424.9l1 0 1 0.1 1 0 1 0 1 0 1 0 1 0 1 0.1 1 0 1 0 1 0 1 -0.1 1 0 1 0 1 0 1 0 1 0 1 -0.1 1 0 1 0 1 -0.1 1 0 1 -0.1 1 0 1 -0.1 1 0 1 -0.1 1 -0.1 1 -0.1 1 -0.1 1 -0.1 1 -0.1 1 -0.1 1 -0.1 1 -0.1 1 -0.2 1 -0.1 1 -0.2 1 -0.1 1 -0.2 1 -0.2 1 -0.2 1 -0.2 1 -0.3 1 -0.3 1 -0.3 1 -0.3 1 -0.4 1 -0.3 1 -0.5 1 -0.4 1 -0.5 1 -0.5 1 -0.5 1 -0.5 1 -0.6 1 -0.5 1 -0.6 1 -0.7 1 -0.7 1 -0.7 1 -0.8 1 -0.8 1 -0.8 1 -0.9 1 -0.9 1 -1 1 -1 1 -1 1 -1 1 -1 1 -1.1 1 -1.1 1 -1.1 1 -1.2 1 -1.2 1 -1.3 1 -1.3 1 -1.3 1 -1.5 1 -1.4 1 -1.6 1 -1.6 1 -1.6 1 -1.6 1 -1.6 1 -1.6 1 -1.6 1 -1.6 1 -1.5 1 -1.5 1 -1.5 1 -1.4 1 -1.3 1 -1.4 1 -1.2 1 -1.2 1 -1.2 1 -1.1 1 -1.1 1 -1.1 1 -1 1 -1.1 1 -0.9 1 -1 1 -0.9 1 -0.8 1 -0.9 1 -0.8 1 -0.7 1 -0.7 1 -0.7 1 -0.7 1 -0.7 1 -0.6 1 -0.6 1 -0.6 1 -0.5 1 -0.4 1 -0.4 1 -0.3 1 -0.3 1 -0.3 1 -0.2 1 -0.2 1 -0.1 1 -0.1 1 -0.1 1 -0.1 1 -0.1 1 -0.1 1 0 1 0 1 0 1 0 1 0 1 0.1 1 0.1 1 0.2 1 0.2 1 0.2 1 0.3 1 0.3 1 0.4 1 0.3 1 0.5 1 0.4 1 0.4 1 0.5 1 0.5 1 0.6 1 0.5 1 0.6 1 0.7 1 0.6 1 0.8 1 0.7 1 0.8 1 0.9 1 0.9 1 1 1 1 1 1.1 1 1.1 1 1.1 1 1.2 1 1.3 1 1.2 1 1.3 1 1.3 1 1.4 1 1.3 1 1.4 1 1.4 1 1.5 1 1.4 1 1.5 1 1.5 1 1.4 1 1.4 1 1.4 1 1.4 1 1.4 1 1.3 1 1.4 1 1.3 1 1.3 1 1.4 1 1.3 1 1.3 1 1.3 1 1.3 1 1.3 1 1.2 1 1.3 1 1.1 1 1.2 1 1.1 1 1 1 1 1 0.9 1 0.9 1 0.8 1 0.8 1 0.7 1 0.7 1 0.7 1 0.6 1 0.6 1 0.5 1 0.6 1 0.5 1 0.5 1 0.4 1 0.5 1 0.4 1 0.4 1 0.4 1 0.4 1 0.3 1 0.3 1 0.3 1 0.2 1 0.3 1 0.2 1 0.1 1 0.2 1 0.1 1 0.1 1 0.1 1 0.1 1 0.1 1 0.1 1 0 1 0.1 1 0 1 0.1 1 0 1 0.1 1.1 0 1 0.1 1 0 1 0 1 0 1 0.1 1 0 1 0 1 0 1 0 1 0 1 0 1 0 1 0.1 1 0 1 0 1 0 1 0 1 0 1 0 1 0 1 -0.1 1 0 1 0 1 0 1 0 1 0" stroke="#ff0000" stroke-dasharray="3.36 5.54"/>
<path clip-path="url(#cp30)" d="M132.8 462.3l1 0 1 0 1 0 1 0 1 0 1 0 1 0 1 0 1 0 1 0 1 0 1 0 1 0 1 0 1 0 1 0 1 0 1 0 1 0 1 0 1 0 1 0 1 0 1 0 1 0 1 0 1 0.1 1 0 1 0.1 1 0.1 1 0.1 1 0.2 1 0.2 1 0.2 1 0.2 1 0.2 1 0.3 1 0.3 1 0.4 1 0.4 1 0.4 1 0.5 1 0.5 1 0.5 1 0.7 1 0.7 1 0.8 1 0.9 1 0.9 1 1 1 1.1 1 1.3 1 1.3 1 1.4 1 1.7 1 1.8 1 1.9 1 2.1 1 2.3 1 2.5 1 2.8 1 2.9 1 3.1 1 3.5 1 3.7 1 4 1 4 1 4.1 1 4.3 1 4.3 1 4.2 1 4.1 1 4 1 4 1 4 1 4.1 1 4 1 4.1 1 4.4 1 4.4 1 4.2 1 3.3 1 2.3 1 1.7 1 1.3 1 0.8 1 0.1 1 -0.5 1 -0.9 1 -1.3 1 -1.8 1 -2.4 1 -2.3 1 -1.6 1 -0.9 1 -0.5 1 -0.2 1 0.5 1 1.7 1 3.2 1 4.5 1 5.4 1 5.5 1 5.3 1 5.1 1 4.4 1 2.7 1 1.4 1 -0.4 1 -3.1 1 -5.3 1 -6.3 1 -6.5 1 -6.6 1 -6.7 1 -4 1 -1.4 1 0.5 1 3.1 1 7.7 1 10 1 10.5 1 10.7 1 9.6 1 8.1 1 4.6 1 1.9 1 0.5 1 0 1 -0.1 1 -0.1 1 0.4 1 1.6 1.1 1.8 1 2.1 1 1.7 1 0.7 1 0 1 -0.7 1 -1.5 1 -2.6 1 -3.3 1 -2.3 1 -1.4 1 -0.8 1 0.3 1 1.3 1 2.3 1 2.6 1 2.1 1 1.5 1 0.7 1 -0.6 1 -2.1 1 -3 1 -3.5 1 -3.9 1 -4.1 1 -3.4 1 -2.6 1 -1.3 1 -0.3 1 0.3 1 0.7 1 1.5 1 2.2 1 1.6 1 1.1 1 0.7 1 0.2 1 -0.8 1 -1.8 1 -2.7 1 -3.5 1 -4.2 1 -4.7 1 -6.5 1 -7 1 -7 1 -7 1 -7 1 -6.1 1 -5.7 1 -5.2 1 -4.7 1 -4.1 1 -3.1 1 -2.3 1 -1.8 1 -1.2 1 -0.9 1 -0.8 1 -0.5 1 -0.4 1 -0.2 1 -0.1 1 0.1 1 0.1 1 0.4 1 0.6 1 0.8 1 0.7 1 0.8 1 0.7 1 0.7 1 0.8 1 0.7 1 0.7 1 0.6 1 0.6 1 0.6 1 0.5 1 0.4 1 0.5 1 0.5 1 0.4 1 0.4 1 0.5 1 0.4 1 0.3 1 0.4 1 0.2 1 0.2 1 0.2 1 0.1 1 0 1 0 1 -0.1 1 0 1 -0.1 1 -0.1 1 0 1 -0.1 1 -0.2 1 -0.1 1 -0.1 1 -0.2 1 -0.1 1 -0.1 1 -0.2 1 -0.1 1 -0.2 1 -0.1 1 -0.2 1 -0.1 1 -0.1 1 -0.1 1 -0.2 1 -0.1 1 -0.1 1 -0.1 1 -0.2 1 -0.1 1 -0.1 1 -0.1 1 -0.1 1 -0.1 1 -0.1 1 -0.1 1 -0.1 1 -0.1 1 0 1 -0.1 1 -0.1 1 -0.1 1 0" stroke="#000000" stroke-linecap="square"/>
<path clip-path="url(#cp30)" d="M132.8 645.9l1 0 1 0.1 1 0 1 0 1 0 1 0 1 0.1 1 0 1 0 1 0 1 0 1 0.1 1 0 1 0 1 0 1 0 1 0 1 0 1 0 1 0 1 0 1 0 1 0 1 0 1 0 1 0 1 0 1 0 1 0 1 0 1 0 1 0 1 0 1 0 1 0 1 0 1 0 1 0 1 -0.1 1 0 1 0 1 0 1 0 1 0 1 0 1 0 1 -0.1 1 0 1 0 1 0 1 0 1 0 1 -0.1 1 0 1 0 1 0 1 0 1 0 1 -0.1 1 0 1 0 1 -0.1 1 -0.1 1 0 1 -0.2 1 -0.1 1 -0.1 1 -0.2 1 -0.2 1 -0.3 1 -0.2 1 -0.2 1 -0.3 1 -0.2 1 -0.3 1 -0.2 1 -0.3 1 -0.2 1 -0.3 1 -0.2 1 -0.2 1 -0.2 1 -0.2 1 -0.1 1 -0.1 1 0 1 0.1 1 0.1 1 0.3 1 0.3 1 0.3 1 0.3 1 0.3 1 0.1 1 0.1 1 -0.4 1 -0.8 1 -1.3 1 -1.7 1 -2 1 -2.1 1 -1.9 1 -1.8 1 -1.7 1 -1.5 1 -1.1 1 -0.5 1 -0.1 1 0.5 1 1.1 1 2 1 2.8 1 1.9 1 0.6 1 -0.1 1 -1.6 1 -4.3 1 -5.5 1 -5.8 1 -6.1 1 -5.1 1 -3.3 1 -1.3 1 0.3 1 1.5 1 3.7 1 4.5 1 4.7 1 5.1 1 4.9 1 2.6 1 -2.6 1 -8.6 1.1 -9.3 1 -8.7 1 -8.9 1 -8.9 1 -3.6 1 -0.3 1 1.4 1 2.5 1 4 1 6.1 1 5.5 1 3.5 1 -0.2 1 -2.5 1 -2.8 1 -4.4 1 -7.9 1 -8.7 1 -7.5 1 -6.1 1 -3.1 1 -0.4 1 3.2 1 6.2 1 7.4 1 7.9 1 8.3 1 9.2 1 8.8 1 6.7 1 5 1 4 1 2.6 1 1.2 1 -0.1 1 -0.8 1 -1.6 1 -2.3 1 -2.3 1 -1.9 1 -1.8 1 -1.6 1 -1.5 1 -1.3 1 -1 1 -0.8 1 -0.4 1 -0.2 1 0 1 0.2 1 0.2 1 0.4 1 0.5 1 0.5 1 0.5 1 0.5 1 0.4 1 0.4 1 0.4 1 0.3 1 0.3 1 0 1 -0.1 1 -0.3 1 -0.4 1 -0.5 1 -0.6 1 -0.6 1 -0.7 1 -0.7 1 -0.7 1 -0.8 1 -0.8 1 -0.7 1 -0.8 1 -0.9 1 -0.9 1 -1 1 -1 1 -1 1 -0.9 1 -0.8 1 -0.7 1 -0.7 1 -0.6 1 -0.6 1 -0.6 1 -0.6 1 -0.6 1 -0.5 1 -0.6 1 -0.6 1 -0.5 1 -0.6 1 -0.5 1 -0.5 1 -0.5 1 -0.5 1 -0.5 1 -0.4 1 -0.4 1 -0.4 1 -0.3 1 -0.4 1 -0.3 1 -0.3 1 -0.2 1 -0.3 1 -0.2 1 -0.2 1 -0.1 1 -0.2 1 -0.1 1 -0.1 1 -0.1 1 -0.1 1 -0.1 1 -0.1 1 0 1 -0.1 1 -0.1 1 0 1 -0.1 1 0 1 0 1 -0.1 1 0 1 0 1 0 1 -0.1 1 0 1 0 1 0" stroke="#0000ff" stroke-dasharray="12.4 5.4"/>
<path clip-path="url(#cp31)" d="M451.4 462.3l1 -0.1 1 -0.1 1 0 1 -0.1 1 0 1 0 1 0 1 0.1 1 0 1 0.1 1 0 1 0.1 1 0.1 1 0.1 1 0.1 1 0.1 1 0.1 1 0.2 1 0.2 1 0.3 1 0.3 1 0.4 1 0.4 1 0.5 1 0.6 1 0.7 1 1 1 1.1 1 1.3 1 1.5 1 1.6 1 1.7 1 1.8 1 1.9 1 2.1 1 2.1 1 2.3 1 2.3 1 2.4 1 2.4 1 2.6 1 2.8 1 3 1 3.3 1 3.4 1 3.5 1 3.5 1 3.5 1 3.6 1 3.6 1 3.6 1 3.8 1 3.8 1 3.7 1 3.7 1 3.5 1 3.1 1 2.7 1 2.5 1 2.4 1 2.4 1 2.3 1 2.2 1 1.8 1 1.6 1 0.7 1 -0.1 1 -0.6 1 -0.9 1 -1.4 1 -1.8 1 -1.9 1 -2 1 -1.8 1 -1.7 1 -1.6 1 -1.4 1 -1.2 1 -0.5 1.1 0 1 0.2 1 1 1 2 1 3.1 1 4 1 4.7 1 4.8 1 4.8 1 4.6 1 4.3 1 4.1 1 2.5 1 1.1 1 0.1 1 -1.6 1 -3.9 1 -5.3 1 -5.7 1 -6 1 -6 1 -4.6 1 -2.5 1 -0.9 1 0.3 1 2.2 1 4.8 1 7.8 1 8.9 1 9.3 1 9.4 1 9.3 1 8.4 1 6.2 1 3.7 1 0.6 1 0.2 1 -0.1 1 -0.4 1 -0.4 1 0.5 1 1.9 1 3.2 1 3.2 1 3.3 1 3.2 1 2.8 1 1.1 1 -0.2 1 -1 1 -1.8 1 -2.4 1 -2 1 -1 1 0.4 1 1.4 1 2.4 1 2.2 1 1.3 1 0.5 1 -0.5 1 -1.9 1 -3.5 1 -3.5 1 -3.5 1 -3.5 1 -2.8 1 -0.5 1 0.4 1 0.9 1 1.4 1 2.3 1 1.4 1 -1.1 1 -3 1 -5 1 -8.2 1 -9.8 1 -10.8 1 -10.2 1 -9.1 1 -7.7 1 -5.1 1 -2.9 1 -1.4 1 0 1 1.2 1 3.7 1 4 1 4 1 4 1 3.9 1 3.1 1 2.3 1 0.7 1 -0.3 1 -2.4 1 -3.8 1 -4.2 1 -4.4 1 -4.5 1 -4.3 1 -4.1 1 -3.9 1 -3.3 1 -2.1 1 -1.4 1 -0.8 1 -0.1 1 0.3 1 1.1 1 1.8 1 2 1 2.1 1 2.3 1 2.4 1 2.3 1 2.2 1 2 1 1.7 1 1.4 1 0.8 1 0.4 1 0 1 -0.4 1 -0.7 1 -0.8 1 -1.1 1 -2 1 -3.4 1 -2.8 1 -2.6 1 -2.7 1 -2.8 1 -3.1 1 -3.3 1 -3.3 1 -3.4 1 -3.3 1 -3.3 1 -3.4 1 -3.3 1 -3.3 1 -3.4 1 -3.3 1 -3.3 1 -3.4 1 -3.3 1 -3.2 1 -2.9 1 -2.7 1 -2.5 1 -2.4 1 -2.1 1 -2 1 -1.8 1 -1.6 1 -1.4 1 -1.3 1 -1.1 1 -1 1 -1 1 -0.9 1 -0.9 1 -0.8 1 -0.7 1 -0.5 1 -0.5 1 -0.4 1 -0.5 1 -0.4 1 -0.3 1 -0.4 1 -0.2 1 -0.3 1 -0.1 1 -0.2 1 -0.2 1 -0.1 1 -0.2 1 -0.1 1 -0.1 1 0 1 -0.1 1 0 1 0 1 0.1" stroke="#000000" stroke-linecap="square"/>
<path clip-path="url(#cp31)" d="M451.4 645.9l1 0 1 0.1 1 0 1 0.1 1 0 1 0.1 1 0 1 0 1 0 1 0.1 1 0 1 0 1 0 1 0 1 0 1 0 1 0 1 0 1 0 1 0 1 0 1 0 1 0 1 -0.1 1 0 1 0 1 -0.1 1 0 1 0 1 -0.1 1 0 1 -0.1 1 -0.1 1 0 1 -0.1 1 -0.1 1 -0.1 1 -0.1 1 -0.1 1 -0.1 1 -0.1 1 -0.2 1 -0.1 1 -0.1 1 -0.2 1 -0.1 1 -0.2 1 -0.2 1 -0.2 1 -0.2 1 -0.2 1 -0.3 1 -0.2 1 -0.2 1 -0.2 1 -0.2 1 0.2 1 0.5 1 0.1 1 -0.1 1 -0.2 1 -0.3 1 -0.2 1 -0.2 1 0 1 0.1 1 0 1 0.1 1 0.1 1 0.1 1 0.1 1 0.2 1 0.1 1 0.3 1 0.2 1 0.2 1 0.2 1 0.1 1 0 1.1 -0.2 1 -0.4 1 -0.6 1 -0.8 1 -1.1 1 -1.2 1 -1.2 1 -1.1 1 -0.9 1 -0.8 1 -0.8 1 -0.5 1 -0.1 1 0.2 1 0.6 1 0.9 1 1.4 1 1.5 1 1.2 1 0.9 1 0.6 1 0.3 1 -1.5 1 -3.9 1 -4 1 -4 1 -4 1 -3.7 1 -2.4 1 -1.6 1 -0.7 1 0.7 1 1.9 1 2.7 1 3.6 1 3.4 1 2.4 1 1.5 1 -0.7 1 -3.3 1 -6.2 1 -9.6 1 -11.7 1 -9.6 1 -7.8 1 -5.5 1 -3.4 1 -1.3 1 0.7 1 2.9 1 5.5 1 7.8 1 5.2 1 2.9 1 0.3 1 -3 1 -7.2 1 -8 1 -6.9 1 -5.6 1 -2.6 1 -0.1 1 2.9 1 5.9 1 8.9 1 10.9 1 9.9 1 9.1 1 7.7 1 5.9 1 3.5 1 1.9 1 -0.2 1 -1 1 -1.8 1 -2.1 1 -1.9 1 -1.4 1 0.3 1 2.1 1 2.6 1 2.9 1 3 1 3.1 1 2.9 1 2.4 1 1.1 1 -0.7 1 -1.3 1 -1.5 1 -1.7 1 -1.7 1 -1.7 1 -1.3 1 -0.9 1 -0.2 1 0.4 1 0.7 1 1.1 1 1.2 1 1.1 1 1.2 1 1.1 1 1.1 1 1.1 1 1 1 0.8 1 0.6 1 0.3 1 0.2 1 0 1 0 1 -0.1 1 0 1 -0.1 1 -0.1 1 -0.1 1 -0.1 1 -0.1 1 -0.1 1 -0.2 1 -0.1 1 -0.1 1 -0.1 1 -0.2 1 -0.1 1 -0.1 1 0 1 -0.1 1 0 1 0.1 1 0 1 0.1 1 0.2 1 0.1 1 0.2 1 0.1 1 0.2 1 0.2 1 0.2 1 0.1 1 0.2 1 0.1 1 0.1 1 0.1 1 0.1 1 0 1 0 1 0.1 1 0 1 0.1 1 0 1 0 1 0.1 1 0 1 0 1 0.1 1 0 1 0 1 0.1 1 0 1 0 1 0 1 0 1 0.1 1 0 1 0 1 0 1 0 1 0 1 0 1 0 1 0 1 0 1 0 1 0 1 0 1 0 1 0 1 0 1 0 1 0 1 0 1 0 1 0 1 0 1 0" stroke="#0000ff" stroke-dasharray="12.4 5.4"/>
<path clip-path="url(#cp32)" d="M770 462.3l1 -0.1 1 -0.1 1 -0.1 1 -0.1 1 -0.1 1 0 1 -0.1 1 0 1 -0.1 1 0 1 0 1 0 1 0.1 1 0 1 0.1 1 0.1 1 0.1 1 0.1 1 0.2 1 0.1 1 0.2 1 0.3 1 0.2 1 0.3 1 0.3 1 0.3 1.1 0.4 1 0.4 1 0.5 1 0.4 1 0.4 1 0.3 1 0.3 1 0.2 1 0.3 1 0.2 1 0.2 1 0.2 1 0.2 1 0.2 1 0 1 0 1 0 1 0.1 1 0.1 1 0.2 1 0.4 1 0.7 1 1 1 1.2 1 1.4 1 1.5 1 1.5 1 1.5 1 1.5 1 1.5 1 1.4 1 1.4 1 1.4 1 1.3 1 1 1 0.7 1 0.6 1 0.4 1 0.5 1 0.7 1 0.8 1 0.7 1 0.9 1 1.1 1 1.5 1 2 1 2.4 1 2.5 1 2.7 1 2.8 1 2.7 1 2.8 1 2.7 1 2.8 1 2.7 1 2.7 1 2.6 1 2.2 1 2 1 1.8 1 2 1 2 1 2 1 2.2 1 2.5 1 2.9 1 3.4 1 3.6 1 3.7 1 3.7 1 3.8 1 3.8 1 3.8 1 3.6 1 3.3 1 3.1 1 2.8 1 2.7 1 2.6 1 2.4 1 2.5 1 2.5 1 2.6 1 2.7 1 2.8 1 2.8 1 3 1 3.5 1 3.7 1 3.6 1 3.3 1 3 1 2.7 1 2.2 1 1.7 1 1.4 1 1.3 1 1.1 1 1.1 1 0.9 1 0.9 1 0.8 1 0.7 1 0.8 1 0.7 1 0.7 1 0.4 1 -0.3 1 -0.7 1 -0.8 1 -0.8 1 -0.8 1 -0.8 1 -0.9 1 -1 1 -1.1 1 -1.2 1 -1.2 1 -1.3 1 -1.6 1 -2.2 1 -2.7 1 -3.2 1 -3.8 1 -4.7 1 -4.5 1 -3.4 1 -3.2 1 -3 1 -2.9 1 -2.6 1 -2.6 1 -2.4 1 -2.5 1 -2.5 1 -2.7 1 -2.9 1 -3.1 1 -3.4 1 -4.2 1 -5 1 -4.8 1 -4.1 1 -4 1 -3.8 1 -3.5 1 -3 1 -2.8 1 -2.5 1 -2.2 1 -2 1 -1.8 1 -1.8 1 -1.7 1 -1.8 1 -1.9 1 -1.9 1 -2 1 -2 1 -2.1 1 -2.3 1 -2.5 1 -2.7 1 -2.5 1 -2.3 1 -2.2 1 -2 1 -1.8 1 -1.5 1 -1.3 1 -1.2 1 -1.1 1 -0.9 1 -0.9 1 -0.9 1 -0.7 1 -0.6 1 -0.7 1 -0.7 1 -0.8 1 -1 1 -1.1 1 -1.3 1 -1.4 1 -1.4 1 -1.5 1 -1.3 1 -1.2 1 -1.2 1 -1.1 1 -1 1 -0.8 1 -0.7 1 -0.4 1 -0.4 1 -0.3 1 -0.2 1 -0.2 1 -0.1 1 -0.1 1 -0.1 1 -0.1 1 -0.1 1 -0.3 1 -0.3 1 -0.4 1 -0.4 1 -0.5 1 -0.5 1 -0.4 1 -0.4 1 -0.4 1 -0.3 1 -0.3 1 -0.2 1 -0.2 1 -0.2 1 0 1 0 1 0 1 0.1 1 0.1 1 0.1 1 0 1 0 1 -0.1 1 -0.1 1 0 1 -0.1 1 -0.1 1 0 1 -0.1 1 -0.1 1 -0.1 1 -0.1 1 -0.1 1 -0.1 1 -0.1 1 -0.1 1 -0.1" stroke="#000000" stroke-linecap="square"/>
<path clip-path="url(#cp32)" d="M770 645.9l1 0 1 0.1 1 0 1 0 1 0.1 1 0 1 0 1 0 1 0.1 1 0 1 0 1 0 1 0 1 0 1 0.1 1 0 1 0 1 0 1 0 1 0 1 0 1 0 1 0 1 0 1 0 1 0 1.1 0.1 1 0 1 0 1 -0.1 1 0 1 0 1 0 1 0 1 0 1 0 1 0 1 0 1 0 1 0 1 0 1 0 1 0 1 -0.1 1 0 1 0 1 0 1 0 1 0 1 0 1 -0.1 1 0 1 0 1 0 1 0 1 0 1 -0.1 1 0 1 0 1 0 1 0 1 0 1 -0.1 1 0 1 0 1 0 1 0 1 -0.1 1 0 1 0 1 0 1 0 1 0 1 -0.1 1 0 1 0 1 0 1 0 1 -0.1 1 0 1 -0.1 1 -0.1 1 -0.1 1 0 1 -0.2 1 -0.1 1 -0.1 1 -0.2 1 -0.3 1 -0.4 1 -0.4 1 -0.5 1 -0.5 1 -0.6 1 -0.5 1 -0.6 1 -0.7 1 -0.7 1 -0.8 1 -0.7 1 -0.9 1 -0.9 1 -0.9 1 -1 1 -1.1 1 -1.2 1 -1.4 1 -1.4 1 -1.4 1 -1.4 1 -1.4 1 -1.4 1 -1.4 1 -1.3 1 -1.2 1 -0.9 1 -0.6 1 -0.5 1 -0.4 1 -0.3 1 -0.4 1 -0.4 1 -0.2 1 -0.3 1 -0.3 1 -0.3 1 -0.5 1 -0.7 1 -1.2 1 -1.2 1 -1.1 1 -1.1 1 -0.3 1 0.8 1 0.9 1 0.8 1 0.8 1 0.8 1 0.8 1 0.8 1 0.5 1 0.4 1 0.2 1 0.2 1 0.3 1 0.3 1 0.4 1 0.4 1 0.4 1 0.6 1 0.8 1 1.1 1 1.3 1 1.4 1 1.6 1 1.5 1 1.6 1 1.7 1 1.7 1 1.5 1 1.5 1 1.3 1 1.1 1 1 1 1 1 0.8 1 0.8 1 0.8 1 0.7 1 0.7 1 0.6 1 0.6 1 0.4 1 0.2 1 0.3 1 0.2 1 0.1 1 0.2 1 0.1 1 0.1 1 0.1 1 0.1 1 0 1 0.1 1 0 1 0.1 1 0 1 0.1 1 0 1 0 1 0.1 1 0 1 0 1 0 1 0 1 0 1 0 1 0 1 0.1 1 0 1 0 1 0 1 0 1 0 1 0 1 0 1 0 1 0 1 0 1 0.1 1 0 1 0 1 0 1 0 1 0 1 0 1 0 1 0 1 0 1 0 1 0 1 0 1 0 1 0 1 0.1 1 0 1 0 1 0 1 0 1 0 1 0 1 0 1 0 1 0 1 0 1 0 1 0 1 0 1 0 1 0 1 0 1 0 1 0 1 -0.1 1 0 1 0 1 0 1 0 1 0 1 0 1 0 1 0 1 0 1 0 1 0 1 -0.1 1 0 1 0 1 0 1 0 1 0 1 0 1 -0.1 1 0 1 0 1 0" stroke="#0000ff" stroke-dasharray="12.4 5.4"/>
<path clip-path="url(#cp33)" d="M1088.7 462.2l1 0 1 0 1 -0.1 1 0 1 -0.1 1 0 1 0 1 -0.1 1 0 1 0 1 0 1 0 1 0.1 1 0 1 0 1 0.1 1 0.1 1 0 1 0.1 1 0.1 1 0.1 1 0.2 1 0.1 1 0.1 1 0.2 1 0.2 1 0.2 1 0.2 1 0.2 1 0.2 1 0.3 1 0.3 1 0.2 1 0.3 1 0.4 1 0.3 1 0.3 1 0.4 1 0.3 1 0.4 1 0.4 1 0.4 1 0.5 1 0.4 1 0.5 1 0.5 1 0.5 1 0.6 1 0.6 1 0.7 1 0.8 1 0.8 1 0.9 1 1 1 1 1 1.2 1 1.2 1 1.2 1 1.4 1 1.3 1 1.4 1 1.5 1 1.4 1 1.5 1 1.5 1 1.5 1 1.5 1 1.6 1 1.5 1 1.6 1 1.5 1 1.6 1 1.7 1 1.7 1 1.7 1 1.8 1 1.9 1 2 1 2.2 1 2.2 1 2.3 1 2.4 1 2.5 1 2.5 1 2.6 1 2.7 1 2.6 1 2.7 1 2.7 1 2.7 1 2.8 1 2.8 1 2.8 1 2.9 1 3 1 3 1 3 1 3.1 1 3.1 1 3.2 1 3.1 1 3.2 1 3.2 1 3.1 1 3.2 1 3.2 1 3.1 1 3.2 1 3.2 1 3.1 1 3.2 1 3.1 1 3.1 1 3 1 3 1 2.8 1 2.7 1 2.6 1 2.4 1 2.2 1 2.1 1 1.8 1 1.7 1 1.5 1 1.3 1 1.1 1 1 1 0.8 1 0.6 1 0.6 1 0.4 1 0.3 1 0.2 1 0 1 0 1 -0.2 1 -0.4 1 -0.4 1 -0.6 1 -0.7 1 -0.9 1 -1 1 -1.2 1 -1.3 1 -1.5 1 -1.7 1 -1.9 1 -2.1 1 -2.3 1 -2.5 1 -2.6 1 -3 1 -3.1 1 -3.2 1 -3.4 1 -3.5 1 -3.5 1 -3.6 1 -3.5 1 -3.6 1 -3.6 1 -3.5 1 -3.6 1 -3.5 1 -3.4 1 -3.4 1 -3.3 1 -3.3 1 -3.2 1 -3.2 1 -3.1 1 -3.1 1 -3 1 -3 1 -2.9 1 -2.8 1 -2.9 1 -2.7 1 -2.7 1 -2.6 1 -2.6 1 -2.4 1 -2.4 1 -2.4 1 -2.2 1 -2.2 1 -2.1 1 -2.1 1 -2 1 -2 1 -2 1 -1.9 1 -1.9 1 -1.8 1 -1.8 1 -1.8 1 -1.7 1 -1.7 1 -1.6 1 -1.5 1 -1.5 1 -1.4 1 -1.3 1 -1.2 1 -1.2 1 -1.1 1 -1.1 1 -1 1 -1 1 -0.9 1 -0.9 1 -0.9 1 -0.8 1 -0.9 1 -0.7 1 -0.8 1 -0.7 1 -0.7 1 -0.7 1 -0.6 1 -0.5 1 -0.5 1 -0.5 1 -0.4 1 -0.4 1 -0.3 1 -0.3 1 -0.3 1 -0.2 1 -0.2 1 -0.3 1 -0.2 1 -0.1 1 -0.2 1 -0.2 1 -0.1 1 -0.1 1 -0.1 1 -0.2 1.1 0 1 -0.1 1 -0.1 1 -0.1 1 -0.1 1 0 1 -0.1 1 -0.1 1 0 1 -0.1 1 -0.1 1 0 1 0 1 -0.1 1 0 1 -0.1 1 0 1 0 1 -0.1 1 0 1 0 1 -0.1 1 0 1 0 1 0 1 0 1 0" stroke="#000000" stroke-linecap="square"/>
<path clip-path="url(#cp33)" d="M1088.7 645.9l1 0.1 1 0 1 0.1 1 0 1 0 1 0.1 1 0 1 0.1 1 0 1 0.1 1 0 1 0 1 0 1 0.1 1 0 1 0 1 0.1 1 0 1 0 1 0 1 0 1 0.1 1 0 1 0 1 0 1 0 1 0 1 0 1 0 1 0 1 0 1 0 1 0 1 0 1 0 1 0 1 0 1 0 1 0 1 0 1 0 1 0 1 0 1 -0.1 1 0 1 0 1 0 1 0 1 0 1 -0.1 1 0 1 0 1 0 1 -0.1 1 0 1 0 1 0 1 0 1 -0.1 1 0 1 0 1 -0.1 1 0 1 0 1 0 1 -0.1 1 0 1 0 1 -0.1 1 0 1 0 1 -0.1 1 0 1 0 1 -0.1 1 0 1 0 1 -0.1 1 0 1 -0.1 1 0 1 -0.1 1 -0.1 1 -0.1 1 -0.1 1 -0.2 1 -0.1 1 -0.2 1 -0.2 1 -0.2 1 -0.2 1 -0.4 1 -0.3 1 -0.5 1 -0.5 1 -0.5 1 -0.6 1 -0.7 1 -0.7 1 -0.8 1 -0.8 1 -0.9 1 -1 1 -1 1 -1.2 1 -1.1 1 -1.2 1 -1.1 1 -1.2 1 -1.2 1 -1.1 1 -1.2 1 -1.2 1 -1.1 1 -1.2 1 -1.2 1 -1.1 1 -1.2 1 -1 1 -1.1 1 -1 1 -0.9 1 -0.9 1 -0.7 1 -0.7 1 -0.6 1 -0.5 1 -0.4 1 -0.3 1 -0.3 1 -0.2 1 -0.2 1 -0.1 1 -0.1 1 0.1 1 0.1 1 0.1 1 0.4 1 0.4 1 0.5 1 0.7 1 0.7 1 0.8 1 0.8 1 0.9 1 0.9 1 1 1 1 1 0.9 1 1 1 1.1 1 1 1 1.1 1 1.1 1 1.2 1 1.2 1 1.2 1 1.1 1 1.2 1 1.1 1 1 1 1.1 1 1 1 0.9 1 0.9 1 0.9 1 0.8 1 0.7 1 0.7 1 0.6 1 0.5 1 0.6 1 0.5 1 0.4 1 0.5 1 0.4 1 0.4 1 0.3 1 0.2 1 0.3 1 0.1 1 0.2 1 0.1 1 0.2 1 0.1 1 0.1 1 0.1 1 0 1 0.1 1 0 1 0.1 1 0 1 0 1 0.1 1 0 1 0 1 0 1 0.1 1 0 1 0 1 0 1 0.1 1 0 1 0 1 0 1 0.1 1 0 1 0 1 0 1 0 1 0.1 1 0 1 0 1 0 1 0 1 0.1 1 0 1 0 1 0 1 0 1 0 1 0 1 0 1 0.1 1 0 1 0 1 0 1 0 1 0 1 0 1 0 1 0 1 0 1 0 1 0 1 0 1 0 1 0 1 0 1.1 0 1 0 1 0 1 0 1 -0.1 1 0 1 0 1 0 1 0 1 0 1 -0.1 1 0 1 0 1 0 1 -0.1 1 0 1 0 1 -0.1 1 0 1 0 1 -0.1 1 0 1 0 1 -0.1 1 0 1 -0.1 1 0" stroke="#0000ff" stroke-dasharray="12.4 5.4"/>
<path clip-path="url(#cp40)" d="M132.8 871.1l1 0 1 0 1 0 1 0 1 0 1 -0.1 1 0 1 0 1 0 1 0 1 0 1 -0.1 1 0 1 0 1 0 1 -0.1 1 0 1 0 1 -0.1 1 0 1 -0.1 1 0 1 -0.1 1 0 1 -0.1 1 -0.1 1 -0.1 1 -0.1 1 -0.2 1 -0.2 1 -0.1 1 -0.2 1 -0.2 1 -0.2 1 -0.2 1 -0.3 1 -0.2 1 -0.3 1 -0.4 1 -0.4 1 -0.4 1 -0.4 1 -0.4 1 -0.6 1 -0.6 1 -0.7 1 -0.9 1 -0.9 1 -1 1 -1 1 -1.1 1 -1.3 1 -1.4 1 -1.4 1 -1.5 1 -1.7 1 -2 1 -2.1 1 -2.3 1 -2.7 1 -3.1 1 -3.9 1 -4.6 1 -4.8 1 -5 1 -5.3 1 -5.2 1 -5 1 -4.6 1 -4.9 1 -5.2 1 -5.2 1 -5.2 1 -5.2 1 -5 1 -4.6 1 -4.3 1 -3.6 1 -2.9 1 -2.4 1 -2.1 1 -1.6 1 -0.8 1 0 1 0.7 1 1.7 1 3.4 1 4.5 1 4.5 1 4.4 1 4.4 1 4.4 1 4.4 1 4.4 1 3.9 1 2.7 1 1.1 1 -0.6 1 -4.6 1 -6.4 1 -8.2 1 -11.1 1 -12 1 -12 1 -12 1 -11 1 -8.3 1 -5.6 1 -2.7 1 0.2 1 2.8 1 5.1 1 6.8 1 8 1 8.6 1 9.2 1 9.3 1 7.7 1 5.4 1 2.6 1 -0.3 1 -4.1 1 -8.1 1 -11.4 1 -13.2 1 -12.6 1 -10.1 1 -7.1 1 -3.7 1 -0.5 1 4.5 1 10.2 1 13.2 1.1 13.2 1 12 1 9 1 3.6 1 -1.7 1 -9 1 -8.9 1 -8.7 1 -8.7 1 -8.6 1 -7.9 1 -6.7 1 -4.2 1 -2.3 1 -0.7 1 2.3 1 9.9 1 12.9 1 13.3 1 13.1 1 12.7 1 11.2 1 6.9 1 3.6 1 -0.3 1 -4.7 1 -7.1 1 -7.7 1 -7.8 1 -7.5 1 -6.8 1 -5.4 1 -3.2 1 -2.1 1 -1.1 1 0.3 1 2 1 3.6 1 5.5 1 7.3 1 7.6 1 8 1 8 1 8 1 7.8 1 7.1 1 6.8 1 6.4 1 6.2 1 6.5 1 6.3 1 3.8 1 1.7 1 1.4 1 1 1 0.6 1 0 1 -0.3 1 -0.7 1 -1.1 1 -1.4 1 -1.4 1 -1.5 1 -1.5 1 -1.5 1 -1.4 1 -1.2 1 -1.1 1 -1.1 1 -0.9 1 -0.9 1 -0.7 1 -0.7 1 -0.5 1 -0.4 1 -0.3 1 -0.2 1 0 1 0 1 0.1 1 0.2 1 0.3 1 0.4 1 0.5 1 0.6 1 0.6 1 0.7 1 0.7 1 0.7 1 0.8 1 0.8 1 0.8 1 0.8 1 0.9 1 0.9 1 0.9 1 0.9 1 0.8 1 0.8 1 0.8 1 0.8 1 0.8 1 0.7 1 0.7 1 0.7 1 0.7 1 0.6 1 0.6 1 0.6 1 0.5 1 0.5 1 0.4 1 0.4 1 0.4 1 0.4 1 0.3 1 0.2 1 0.3 1 0.2 1 0.2 1 0.2 1 0.2 1 0.2 1 0.2 1 0.2 1 0.1 1 0.2 1 0.1 1 0.1 1 0.1 1 0.1 1 0.1 1 0.1" stroke="#ff0000" stroke-dasharray="21.5 5.4 3.36 5.4"/>
<path clip-path="url(#cp40)" d="M132.8 871.1l1 0 1 0 1 0 1 0 1 0 1 -0.1 1 0 1 0 1 0 1 0 1 0 1 -0.1 1 0 1 0 1 0 1 -0.1 1 0 1 0 1 -0.1 1 0 1 -0.1 1 0 1 -0.1 1 0 1 -0.1 1 -0.1 1 -0.1 1 -0.1 1 -0.2 1 -0.2 1 -0.1 1 -0.2 1 -0.2 1 -0.2 1 -0.2 1 -0.3 1 -0.2 1 -0.3 1 -0.4 1 -0.4 1 -0.4 1 -0.4 1 -0.4 1 -0.6 1 -0.6 1 -0.7 1 -0.9 1 -0.9 1 -1 1 -1 1 -1.1 1 -1.3 1 -1.4 1 -1.5 1 -1.4 1 -1.7 1 -1.9 1 -2.1 1 -2.4 1 -2.9 1 -3.5 1 -3.9 1 -4.3 1 -4.6 1 -4.9 1 -5.3 1 -5.6 1 -5.6 1 -5.3 1 -3.8 1 -4 1 -7 1 -6.9 1 -6.1 1 -5.3 1 -5.5 1 -5.8 1 -8.6 1 -5.7 1 -5.5 1 -5.3 1 -4.4 1 -2.9 1 -2.3 1 -1.8 1 -1.1 1 -0.2 1 0.6 1 1.4 1 2 1 2.7 1 3.7 1 4.3 1 4.2 1 4.2 1 3.7 1 1.9 1 0.8 1 0.6 1 -0.6 1 -2.3 1 -3.7 1 -3.6 1 -3.4 1 -3.4 1 -2.6 1 0.5 1 3.5 1 5.1 1 5.8 1 7.6 1 12.6 1 14 1 13.8 1 11.1 1 8.9 1 7.6 1 1.5 1 -6 1 -6 1 -6 1 -5.8 1 -4.3 1 -1.3 1 -1.2 1 0.9 1 5.6 1 7 1 7 1 6 1 4.3 1 2.6 1 -1.5 1.1 -4.8 1 -4.3 1 -3.4 1 -2.3 1 -0.3 1 1.9 1 6.4 1 8.6 1 9.6 1 11.1 1 6.8 1 2.9 1 1.6 1 0.1 1 -1.9 1 -6.7 1 -7.4 1 -6.6 1 -6.1 1 -5.1 1 -1.7 1 -0.4 1 -0.2 1 -0.4 1 -0.4 1 -0.5 1 -0.6 1 -1.9 1 -3.8 1 -5.2 1 -7.6 1 -7.4 1 -7 1 -7.5 1 -8.7 1 -6.8 1 -3.3 1 -2 1 -1.6 1 -1.2 1 -1.3 1 2.8 1 5.5 1 5.7 1 5.7 1 5.4 1 5.7 1 5.6 1 5.7 1 6.1 1 8.5 1 8.2 1 4.8 1 8 1 5.6 1 4.2 1 4.1 1 4 1 3.8 1 3 1 2.2 1 1.6 1 1.2 1 1 1 0.8 1 0.6 1 0.6 1 0.3 1 0 1 -0.1 1 -0.1 1 -0.3 1 -0.3 1 -0.5 1 -0.4 1 -0.4 1 -0.4 1 -0.5 1 -0.4 1 -0.4 1 -0.4 1 -0.4 1 -0.4 1 -0.4 1 -0.4 1 -0.4 1 -0.3 1 -0.4 1 -0.3 1 -0.2 1 -0.3 1 -0.1 1 -0.1 1 -0.1 1 0 1 0 1 0 1 0 1 0 1 0.1 1 0 1 0 1 0.1 1 0.1 1 0 1 0.1 1 0.1 1 0.1 1 0 1 0.1 1 0.1 1 0.1 1 0.1 1 0.1 1 0.1 1 0.1 1 0 1 0.1 1 0.1 1 0 1 0.1 1 0 1 0.1 1 0 1 0.1 1 0 1 0.1 1 0 1 0.1 1 0 1 0 1 0.1 1 0" stroke="#008000" stroke-dasharray="3.36 5.54"/>
<path clip-path="url(#cp40)" d="M132.8 871.1l1 0 1 0 1 0 1 0 1 0 1 0 1 0 1 0 1 0.1 1 0 1 0 1 0 1 0 1 0 1 0 1 0 1 0 1 0 1 0 1 0 1 0 1 0 1 0 1 0 1 0 1 0 1 0 1 0 1 0 1 0 1 0 1 0 1 -0.1 1 0 1 0 1 0 1 0 1 0 1 0 1 0 1 0 1 0 1 0 1 0 1 0 1 0 1 0 1 0 1 0 1 0 1 0 1 -0.1 1 0 1 0 1 0 1 0 1 0 1 -0.1 1 0 1 0 1 0 1 -0.1 1 -0.1 1 0 1 -0.1 1 -0.1 1 -0.1 1 -0.1 1 -0.1 1 -0.2 1 -0.3 1 -0.3 1 -0.4 1 -0.4 1 -0.6 1 -0.7 1 -0.9 1 -0.9 1 -1.1 1 -1.3 1 -1.7 1 -1.9 1 -2.4 1 -2.8 1 -3.1 1 -3.3 1 -3.7 1 -4.1 1 -4.8 1 -4.9 1 -4.7 1 -4.4 1 -4.3 1 -3.8 1 -2.7 1 -1.9 1 -0.8 1 -0.2 1 0.9 1 2.8 1 4.4 1 5.7 1 6 1 5.9 1 5.7 1 5.2 1 3.6 1 2 1 0.5 1 -1.2 1 -3 1 -4.9 1 -6.5 1 -6.7 1 -6 1 -4.3 1 -1.2 1 -0.2 1 -0.1 1 -0.4 1 -0.7 1 -1.4 1 -5.5 1 -9.2 1 -12.2 1 -13 1 -17.1 1 -20.4 1 -18.3 1 -16.3 1 -9.6 1 -2.7 1 4.1 1.1 9.7 1 13.1 1 13.1 1 11.6 1 9.3 1 5.5 1 2.4 1 -1.9 1 -2.3 1 -2.5 1 -2.3 1 -0.1 1 2.2 1 4.9 1 8.7 1 13 1 9.9 1 8.2 1 6.6 1 4.3 1 0.7 1 -2.7 1 -6.3 1 -7.3 1 -8.6 1 -13.4 1 -10.9 1 -8.4 1 -5 1 -3 1 -1.9 1 -0.6 1 1.3 1 4.5 1 5.6 1 6.3 1 6.5 1 6.7 1 6.9 1 7 1 6.6 1 5.8 1 4.6 1 3.5 1 3.1 1 3.1 1 2.6 1 1.6 1 0.9 1 0.6 1 0.4 1 0.4 1 0.2 1 0.3 1 0.3 1 0.3 1 0.3 1 0.3 1 0.4 1 0.5 1 0.5 1 0.5 1 0.6 1 0.7 1 0.7 1 0.9 1 0.9 1 1.1 1 1.1 1 1.1 1 1.2 1 1.1 1 1.1 1 1.1 1 1.2 1 1.1 1 1.1 1 1.1 1 1.2 1 1.1 1 1 1 1 1 1 1 0.9 1 1 1 0.9 1 0.9 1 0.9 1 0.9 1 0.8 1 0.8 1 0.7 1 0.6 1 0.6 1 0.6 1 0.5 1 0.5 1 0.5 1 0.4 1 0.5 1 0.3 1 0.4 1 0.3 1 0.4 1 0.3 1 0.2 1 0.2 1 0.2 1 0.2 1 0.2 1 0.1 1 0.2 1 0.1 1 0.1 1 0 1 0.1 1 0.1 1 0 1 0.1 1 0 1 0.1 1 0 1 0.1 1 0 1 0 1 0 1 0 1 0.1 1 0 1 0 1 0.1 1 0 1 0.1" stroke="#9932cc" stroke-linecap="square"/>
<path clip-path="url(#cp41)" d="M451.4 871.1l1 -0.1 1 -0.1 1 -0.1 1 -0.1 1 -0.2 1 -0.2 1 -0.1 1 -0.2 1 -0.2 1 -0.2 1 -0.2 1 -0.2 1 -0.3 1 -0.3 1 -0.3 1 -0.3 1 -0.4 1 -0.4 1 -0.4 1 -0.5 1 -0.8 1 -0.8 1 -0.8 1 -1 1 -1 1 -1 1 -1.2 1 -1.3 1 -1.5 1 -1.7 1 -1.9 1 -2.2 1 -2.4 1 -2.6 1 -2.4 1 -2.6 1 -3 1 -3.2 1 -3.2 1 -3.2 1 -3.2 1 -3.2 1 -3.2 1 -3.3 1 -3.4 1 -3.8 1 -4.8 1 -5 1 -4.4 1 -4 1 -3.9 1 -3.8 1 -3.7 1 -3.6 1 -3.5 1 -3.2 1 -2.7 1 -1.7 1 -1.1 1 -0.8 1 -0.7 1 -0.3 1 -0.1 1 0.5 1 0.6 1 0.9 1 2.1 1 3.9 1 4.1 1 3.8 1 3.6 1 3.3 1 3 1 3 1 3 1 3.2 1 3.2 1 2.9 1 1.5 1.1 0.3 1 -1.7 1 -3.7 1 -5.1 1 -6.6 1 -7.2 1 -7.9 1 -8.4 1 -8.6 1 -9 1 -9.1 1 -8.4 1 -7.2 1 -3.8 1 -1.8 1 -0.8 1 -0.1 1 1.4 1 4.4 1 7.3 1 8.5 1 9 1 9.4 1 8.3 1 5 1 2.2 1 1 1 -0.2 1 -3.6 1 -9.7 1 -14 1 -14 1 -11.8 1 -8.4 1 -6.2 1 -2.9 1 -1.6 1 -0.9 1 0.4 1 6.4 1 10.9 1 10.7 1 10.5 1 9.3 1 7 1 4.3 1 2.2 1 -3.1 1 -10.2 1 -13.9 1 -13.5 1 -12.6 1 -8.4 1 -5.8 1 0.1 1 5.8 1 8.3 1 10.1 1 10.9 1 12 1 11.8 1 10.1 1 0.4 1 -5.4 1 -10.8 1 -10.7 1 -10.6 1 -8.9 1 -7.3 1 -5.1 1 -2.9 1 -0.3 1 2.5 1 5.3 1 8.3 1 8.9 1 9.3 1 10.1 1 10.7 1 7.9 1 6 1 4.1 1 0.8 1 -6.3 1 -8 1 -8 1 -8 1 -8 1 -7.7 1 -6.3 1 -3.9 1 -1.9 1 -1 1 -0.5 1 -0.1 1 2.9 1 8.5 1 10.6 1 10.6 1 9.7 1 8.3 1 7.3 1 6.9 1 7.7 1 7.9 1 6 1 4.2 1 2.8 1 2 1 0.7 1 -0.6 1 -2.2 1 -3.4 1 -3.6 1 -3.2 1 -3.2 1 -3.2 1 -3.6 1 -3.7 1 -3.4 1 -3.1 1 -2.7 1 -2.3 1 -1.7 1 -1.4 1 -1 1 -0.4 1 0.4 1 1 1 1.3 1 1.6 1 1.8 1 2 1 2.3 1 2.8 1 3.4 1 5.3 1 4 1 3.5 1 3.2 1 2.8 1 2.6 1 2.5 1 3.1 1 3.2 1 3.2 1 3.2 1 3.3 1 3.1 1 2.8 1 2.6 1 2.6 1 2.6 1 2.7 1 2.7 1 2.5 1 2.2 1 2 1 1.9 1 1.8 1 1.7 1 1.6 1 1.4 1 1.4 1 1.2 1 1.1 1 1 1 0.9 1 0.9 1 0.7 1 0.6 1 0.6 1 0.6 1 0.4 1 0.4 1 0.2 1 0.2 1 0.2 1 0.2 1 0.1 1 0.1 1 0.1 1 0.1 1 0 1 0 1 0 1 0" stroke="#ff0000" stroke-dasharray="21.5 5.4 3.36 5.4"/>
<path clip-path="url(#cp41)" d="M451.4 871.1l1 -0.1 1 -0.1 1 -0.1 1 -0.1 1 -0.2 1 -0.2 1 -0.1 1 -0.2 1 -0.2 1 -0.2 1 -0.2 1 -0.2 1 -0.3 1 -0.3 1 -0.3 1 -0.3 1 -0.4 1 -0.4 1 -0.4 1 -0.5 1 -0.8 1 -0.8 1 -0.8 1 -1 1 -1 1 -1 1 -1.2 1 -1.3 1 -1.5 1 -1.7 1 -1.9 1 -2.2 1 -2.4 1 -2.6 1 -2.4 1 -2.6 1 -3 1 -3.2 1 -3.2 1 -3.2 1 -3.2 1 -3.2 1 -3.2 1 -3.3 1 -3.4 1 -3.8 1 -4.8 1 -5 1 -4.4 1 -3.8 1 -4 1 -4.7 1 -5.2 1 -5.9 1 -4.9 1 -4.7 1 -4.7 1 -4.7 1 -4.3 1 -3.8 1 -3.6 1 -3.2 1 -2.7 1 -2 1 -1.4 1 -1.1 1 -0.7 1 0.3 1 1.3 1 1.8 1 2.1 1 2.3 1 2.6 1 2.7 1 2.7 1 2.6 1 2.7 1 2.7 1 2.4 1.1 0.8 1 0.1 1 0 1 -0.8 1 -2 1 -2.6 1 -2.9 1 -3.3 1 -3.4 1 -3.4 1 -3.2 1 -2.9 1 -1.6 1 1.3 1 3.7 1 5.3 1 7.1 1 10.3 1 8.5 1 8 1 10.7 1 10.4 1 6.8 1 3.9 1 2.1 1 -1.6 1 -5.4 1 -8.1 1 -8.5 1 -8.4 1 -7 1 -3.7 1 -1.8 1 0.5 1 2.2 1 3.8 1 10.2 1 12.5 1 8.2 1 6.2 1 1.3 1 0.3 1 -0.1 1 -0.1 1 -0.5 1 -0.8 1 -0.2 1 2 1 7.1 1 8.5 1 8.5 1 8.5 1 7.1 1 3.3 1 0.8 1 -0.7 1 -5.4 1 -7.7 1 -8.4 1 -8.2 1 -5 1 -1.1 1 -0.8 1 -0.5 1 -0.5 1 -0.4 1 -1.1 1 -4 1 -7.9 1 -8.5 1 -9.5 1 -14 1 -9.8 1 -5.7 1 -4.1 1 -2.7 1 -0.1 1 4.3 1 9 1 8.8 1 8.4 1 8.4 1 8.3 1 7.6 1 0.6 1 -1.5 1 -2.4 1 -4 1 -6 1 -8.5 1 -8.9 1 -8.2 1 -7 1 -3.5 1 -1.2 1 -0.7 1 -0.7 1 -0.4 1 1.5 1 3.7 1 3.8 1 3 1 2.9 1 2 1 0.5 1 -0.5 1 -0.9 1 -0.8 1 -0.7 1 -2 1 -3.7 1 -4.2 1 -4.5 1 -4.2 1 -3.3 1 -3.2 1 -3.2 1 -3.2 1 -3.2 1 -3 1 -1.7 1 -1.2 1 -0.9 1 -0.5 1 0.3 1 1.1 1 2 1 2.3 1 2.7 1 3 1 3.2 1 3.7 1 4 1 4.1 1 4.2 1 4.4 1 5.1 1 4.8 1 4.4 1 4.3 1 4.2 1 4.6 1 6 1 4.2 1 3.9 1 4.2 1 4.3 1 4.2 1 4 1 3.6 1 3.2 1 3.1 1 3.1 1 3 1 2.9 1 2.8 1 2.6 1 2.5 1 2.3 1 2.2 1 1.8 1 1.7 1 1.6 1 1.4 1 1.4 1 1.2 1 1.1 1 1 1 1 1 1 1 1 1 0.8 1 0.7 1 0.6 1 0.4 1 0.4 1 0.5 1 0.4 1 0.4 1 0.4 1 0.5 1 0.4 1 0.4 1 0.4 1 0.5 1 0.4 1 0.4" stroke="#008000" stroke-dasharray="3.36 5.54"/>
<path clip-path="url(#cp41)" d="M451.4 871.1l1 0 1 0 1 0 1 0 1 0 1 0 1 0 1 0 1 0 1 0 1 0 1 0 1 0 1 -0.1 1 0 1 0 1 0 1 0 1 0 1 0 1 0 1 -0.1 1 0 1 0 1 0 1 0 1 -0.1 1 0 1 0 1 0 1 -0.1 1 0 1 0 1 0 1 0 1 0 1 0 1 0 1 -0.1 1 0 1 0 1 0 1 0 1 0 1 0 1 -0.1 1 -0.2 1 -0.2 1 -0.2 1 -0.2 1 -0.3 1 -0.3 1 -0.3 1 -0.5 1 -0.6 1 -0.6 1 -0.7 1 -0.8 1 -1 1 -1 1 -1.2 1 -1.3 1 -1.5 1 -1.5 1 -1.6 1 -1.7 1 -1.9 1 -2.1 1 -2.3 1 -2.4 1 -2.5 1 -2.7 1 -2.7 1 -2.6 1 -2.5 1 -2.3 1 -2.2 1 -1.8 1 -1.2 1.1 -0.4 1 0.2 1 0.8 1 2 1 3 1 3.4 1 3.8 1 4.1 1 4 1 3.5 1 3.1 1 2.8 1 1.9 1 0.9 1 -0.6 1 -2 1 -3.1 1 -4 1 -5.3 1 -6.2 1 -5.8 1 -5.2 1 -4.2 1 -2.3 1 -0.9 1 -0.3 1 -0.3 1 -0.4 1 -0.6 1 -1.1 1 -3.9 1 -7.4 1 -10.2 1 -13.5 1 -17 1 -13.4 1 -12.6 1 -10.5 1 -5.1 1 -2.4 1 -0.4 1 3.2 1 7.3 1 10.1 1 12.4 1 10.1 1 6.7 1 2.2 1 -1.1 1 -6.3 1 -8.1 1 -7.6 1 -6.4 1 -1.2 1 0.4 1 4.6 1 8.8 1 8.4 1 8 1 7.2 1 3.8 1 0.3 1 -5.1 1 -9 1 -10 1 -10.9 1 -8.8 1 -4.6 1 -1.8 1 0.4 1 3.8 1 7.5 1 11 1 12.3 1 12 1 10.9 1 9.4 1 7 1 3.3 1 1.1 1 0.1 1 -0.2 1 0.2 1 0.6 1 1.3 1 3.8 1 6.4 1 6.6 1 6.1 1 5.9 1 5.4 1 4.7 1 4.2 1 3.2 1 2.2 1 0.8 1 -0.6 1 -1.6 1 -2.8 1 -3.2 1 -3.3 1 -3.6 1 -3.7 1 -3.4 1 -2.8 1 -2 1 -1.4 1 -0.9 1 -0.4 1 0 1 0.6 1 0.8 1 1.2 1 1.3 1 1.8 1 2.2 1 2.4 1 2.3 1 2.3 1 2.2 1 2.1 1 2.1 1 1.8 1 1.6 1 1.4 1 1.2 1 1 1 0.9 1 0.8 1 0.7 1 0.7 1 0.7 1 0.5 1 0.5 1 0.3 1 0.3 1 0.3 1 0.3 1 0.2 1 0.2 1 0.1 1 0.1 1 0.1 1 0.1 1 0.1 1 0 1 0.1 1 0.1 1 0 1 0.1 1 0 1 0 1 0 1 0.1 1 0 1 0 1 0 1 0.1 1 0 1 0 1 0 1 0 1 0.1 1 0 1 0 1 0 1 0 1 0 1 0 1 0 1 0 1 0 1 0 1 0 1 0 1 0 1 0 1 0 1 0 1 0 1 0 1 0 1 0 1 0 1 0 1 0 1 0" stroke="#9932cc" stroke-linecap="square"/>
<path clip-path="url(#cp42)" d="M770 871.1l1 -0.2 1 -0.2 1 -0.2 1 -0.2 1 -0.2 1 -0.2 1 -0.2 1 -0.2 1 -0.2 1 -0.2 1 -0.1 1 -0.2 1 -0.1 1 -0.2 1 0.1 1 0.2 1 0.3 1 0.2 1 0.2 1 0.1 1 0 1 0 1 -0.2 1 -0.2 1 -0.2 1 -0.4 1.1 -0.4 1 -0.7 1 -0.9 1 -0.8 1 -0.7 1 -0.6 1 -0.3 1 -0.2 1 -0.1 1 -0.2 1 -0.1 1 -0.2 1 -0.1 1 -0.1 1 -0.1 1 0 1 -0.1 1 -0.1 1 -0.2 1 -0.4 1 -0.6 1 -0.9 1 -1.2 1 -1.7 1 -2 1 -2.1 1 -2.1 1 -1.9 1 -1.8 1 -1.9 1 -1.6 1 -1.4 1 -1 1 -0.7 1 -0.6 1 -0.5 1 -0.6 1 -0.6 1 -0.7 1 -0.7 1 -0.8 1 -0.7 1 -0.9 1 -1.2 1 -1.6 1 -2.5 1 -3.3 1 -3.7 1 -3.8 1 -3.6 1 -3.5 1 -3.6 1 -3.4 1 -3.4 1 -3 1 -2.6 1 -2.2 1 -2.1 1 -1.7 1 -1.3 1 -1.1 1 -1.2 1 -1.6 1 -2 1 -2.3 1 -2.6 1 -3.3 1 -3.9 1 -4 1 -4 1 -4 1 -4 1 -4 1 -4 1 -4 1 -4 1 -3.2 1 -2.3 1 -1.7 1 -1.7 1 -1.8 1 -1.7 1 -1.6 1 -1.8 1 -2.2 1 -2.3 1 -2.6 1 -2.6 1 -2.9 1 -2.9 1 -3.1 1 -3.1 1 -2.9 1 -2.7 1 -2.6 1 -2.4 1 -2.2 1 -1.8 1 -1.4 1 -1 1 -0.5 1 -0.2 1 0 1 0.2 1 0.6 1 0.9 1 0.7 1 -0.1 1 -0.6 1 -0.6 1 -0.5 1 -0.3 1 -0.3 1 -0.2 1 -0.1 1 0.4 1 0.9 1 1.5 1 2.2 1 2.8 1 3.2 1 3.6 1 3.8 1 3.6 1 3.5 1 3.4 1 3.2 1 3.2 1 2.9 1 2.6 1 2.5 1 2.4 1 2.3 1 2 1 1.9 1 1.8 1 2.2 1 2.7 1 3.4 1 3.9 1 4.4 1 4.9 1 4.7 1 4.4 1 4.2 1 3.8 1 3.1 1 2.3 1 1.9 1 1.6 1 1.4 1 1.2 1 0.9 1 1 1 1.2 1 1.8 1 2.1 1 2.4 1 2.7 1 2.8 1 2.9 1 2.9 1 3 1 3.1 1 3.2 1 3.4 1 3.4 1 3.3 1 3.2 1 2.9 1 2.5 1 1.8 1 1.3 1 0.9 1 0.8 1 0.7 1 0.6 1 0.3 1 0.4 1 0.4 1 0.8 1 1.2 1 1.4 1 1.7 1 1.8 1 2.1 1 2.1 1 1.7 1 1.6 1 1.4 1 1.2 1 0.8 1 0.5 1 0.4 1 0.3 1 0.3 1 0.3 1 0.2 1 0.3 1 0.2 1 0.2 1 0.2 1 0.2 1 0.2 1 0.2 1 0.3 1 0.6 1 0.7 1 0.7 1 0.7 1 0.4 1 0.3 1 0.3 1 0.2 1 0.2 1 0.2 1 0.2 1 0.1 1 0 1 0 1 0 1 -0.1 1 0 1 -0.1 1 -0.1 1 -0.1 1 0 1 -0.1 1 0.1 1 0 1 0.1 1 0.1 1 0.1 1 0.1 1 0.1 1 0.2 1 0.2 1 0.1 1 0.2 1 0.3" stroke="#ff0000" stroke-dasharray="21.5 5.4 3.36 5.4"/>
<path clip-path="url(#cp42)" d="M770 871.1l1 -0.2 1 -0.2 1 -0.2 1 -0.2 1 -0.2 1 -0.2 1 -0.2 1 -0.2 1 -0.2 1 -0.2 1 -0.1 1 -0.2 1 -0.1 1 -0.2 1 0.1 1 0.2 1 0.3 1 0.2 1 0.2 1 0.1 1 0 1 0 1 -0.2 1 -0.2 1 -0.2 1 -0.4 1.1 -0.4 1 -0.7 1 -0.9 1 -0.8 1 -0.7 1 -0.6 1 -0.3 1 -0.2 1 -0.1 1 -0.2 1 -0.1 1 -0.2 1 -0.1 1 -0.1 1 -0.1 1 0 1 -0.1 1 -0.1 1 -0.2 1 -0.4 1 -0.6 1 -0.9 1 -1.2 1 -1.7 1 -2 1 -2.1 1 -2.1 1 -1.9 1 -1.8 1 -1.9 1 -1.6 1 -1.4 1 -1 1 -0.7 1 -0.6 1 -0.5 1 -0.6 1 -0.6 1 -0.7 1 -0.7 1 -0.8 1 -0.7 1 -0.9 1 -1.2 1 -1.6 1 -2.5 1 -3.3 1 -3.7 1 -3.8 1 -3.5 1 -3.5 1 -3.5 1 -3.5 1 -3.6 1 -3.5 1 -3.6 1 -3.7 1 -3.6 1 -3.6 1 -3.4 1 -3.2 1 -2.9 1 -2.7 1 -2.4 1 -2.1 1 -2 1 -1.9 1 -1.8 1 -1.9 1 -1.7 1 -1.6 1 -1.5 1 -1.3 1 -0.8 1 0 1 1 1 1.5 1 2 1 2.5 1 2.9 1 3.5 1 4.4 1 5.4 1 4.6 1 2.5 1 2 1 1.9 1 1.9 1 2.2 1 2.4 1 2.6 1 2.5 1 2.5 1 2.1 1 1.8 1 1.3 1 1.1 1 0.7 1 0.6 1 0.5 1 0.3 1 0.4 1 0.5 1 0.3 1 0.4 1 0.4 1 0.3 1 0.2 1 0.2 1 0.1 1 0 1 -0.2 1 -0.2 1 -0.4 1 -0.5 1 -0.7 1 -1.1 1 -1.3 1 -1.5 1 -1.7 1 -1.7 1 -1.9 1 -2.3 1 -2.5 1 -3 1 -3.6 1 -4.8 1 -4.6 1 -3.2 1 -2.8 1 -2.6 1 -2.7 1 -2.9 1 -3 1 -3 1 -3 1 -2.3 1 -1.6 1 -0.7 1 0 1 0.7 1 1.2 1 1.8 1 2.4 1 3 1 3 1 3 1 3 1 3 1 3 1 2.9 1 2.8 1 2.6 1 2.5 1 2.5 1 2.5 1 2.5 1 2.5 1 2.5 1 2.5 1 2.7 1 2.9 1 3.1 1 3.2 1 3.2 1 3.4 1 3.4 1 3.3 1 3.2 1 2.9 1 2.5 1 1.8 1 1.3 1 0.9 1 0.8 1 0.7 1 0.6 1 0.3 1 0.4 1 0.4 1 0.8 1 1.2 1 1.4 1 1.7 1 1.8 1 2.1 1 2.1 1 1.7 1 1.6 1 1.4 1 1.2 1 0.8 1 0.5 1 0.4 1 0.3 1 0.3 1 0.3 1 0.2 1 0.3 1 0.2 1 0.2 1 0.2 1 0.2 1 0.2 1 0.2 1 0.3 1 0.6 1 0.7 1 0.7 1 0.7 1 0.4 1 0.3 1 0.3 1 0.2 1 0.2 1 0.2 1 0.2 1 0.1 1 0 1 0 1 0 1 -0.1 1 0 1 -0.1 1 -0.1 1 -0.1 1 0 1 -0.1 1 0.1 1 0 1 0.1 1 0.1 1 0.1 1 0.1 1 0.1 1 0.2 1 0.2 1 0.1 1 0.2 1 0.3" stroke="#008000" stroke-dasharray="3.36 5.54"/>
<path clip-path="url(#cp42)" d="M770 871.1l1 0 1 0 1 0.1 1 0 1 0 1 0 1 0 1 0 1 0 1 0 1 0 1 0 1 0.1 1 0 1 0 1 0 1 0 1 0 1 0 1 0 1 0 1 0 1 0 1 -0.1 1 0 1 0 1.1 0 1 0 1 0 1 0 1 0 1 0 1 0 1 0 1 0 1 -0.1 1 0 1 0 1 0 1 0 1 0 1 0 1 0 1 0 1 -0.1 1 0 1 0 1 0 1 0 1 0 1 0 1 -0.1 1 0 1 0 1 0 1 0 1 0 1 -0.1 1 0 1 0 1 -0.1 1 0 1 -0.1 1 0 1 -0.1 1 0 1 -0.1 1 -0.1 1 0 1 -0.1 1 -0.1 1 0 1 -0.1 1 -0.1 1 -0.2 1 -0.2 1 -0.3 1 -0.3 1 -0.4 1 -0.5 1 -0.6 1 -0.8 1 -1 1 -1.2 1 -1.3 1 -1.4 1 -1.4 1 -1.4 1 -1.5 1 -1.4 1 -1.5 1 -1.5 1 -1.5 1 -1.5 1 -1.5 1 -1.6 1 -1.8 1 -2 1 -2.2 1 -2.2 1 -2.4 1 -2.8 1 -3.5 1 -4.4 1 -5 1 -5.1 1 -5 1 -5 1 -5 1 -5 1 -5 1 -5 1 -4.9 1 -4.7 1 -4.4 1 -4.3 1 -4.3 1 -4.2 1 -4 1 -3.9 1 -3.8 1 -3.4 1 -2.9 1 -2.6 1 -2.2 1 -1.2 1 0.5 1 1.2 1 1.3 1 1.3 1 1.4 1 1.3 1 1.1 1 0.3 1 -0.5 1 -0.6 1 -0.8 1 -0.6 1 -0.5 1 -0.3 1 0.1 1 1.2 1 2.3 1 3 1 3.3 1 3.7 1 3.9 1 4.1 1 4 1 4 1 3.7 1 3.4 1 3.2 1 3.6 1 4.2 1 4.9 1 5.2 1 5.2 1 4.9 1 4.6 1 4.6 1 4.4 1 4.3 1 4.1 1 3.8 1 3.4 1 2.8 1 2.5 1 2.1 1 1.9 1 1.8 1 1.6 1 1.5 1 1.6 1 1.5 1 1.5 1 1.4 1 1.4 1 1.3 1 1.3 1 1.2 1 1.1 1 1 1 0.9 1 0.8 1 0.6 1 0.4 1 0.4 1 0.2 1 0.2 1 0.2 1 0.2 1 0.2 1 0.2 1 0.1 1 0.1 1 0.2 1 0.1 1 0 1 0.1 1 0.1 1 0 1 0.1 1 0.1 1 0 1 0.1 1 0.1 1 0 1 0.1 1 0 1 0.1 1 0 1 0 1 0.1 1 0 1 0 1 0 1 0 1 0.1 1 0 1 0 1 0 1 0 1 0.1 1 0 1 0 1 0 1 0 1 0 1 0.1 1 0 1 0 1 0 1 0 1 0 1 0 1 0 1 0 1 0 1 0.1 1 0 1 0 1 0 1 0 1 0 1 0 1 0 1 0 1 0 1 0 1 0 1 0 1 0 1 -0.1 1 0 1 0 1 0 1 0 1 0 1 0 1 0 1 -0.1 1 0 1 0 1 0 1 0" stroke="#9932cc" stroke-linecap="square"/>
<path clip-path="url(#cp43)" d="M1088.7 871.1l1 0 1 0.1 1 0 1 0 1 0 1 0 1 0 1 0 1 -0.1 1 0 1 -0.1 1 0 1 -0.1 1 -0.1 1 -0.1 1 -0.1 1 -0.1 1 -0.1 1 -0.2 1 -0.1 1 -0.2 1 -0.2 1 -0.2 1 -0.2 1 -0.2 1 -0.3 1 -0.2 1 -0.3 1 -0.3 1 -0.3 1 -0.3 1 -0.3 1 -0.3 1 -0.4 1 -0.3 1 -0.4 1 -0.5 1 -0.4 1 -0.4 1 -0.5 1 -0.5 1 -0.5 1 -0.6 1 -0.6 1 -0.7 1 -0.7 1 -0.8 1 -0.9 1 -1 1 -1 1 -1 1 -1.2 1 -1.1 1 -1.3 1 -1.3 1 -1.3 1 -1.4 1 -1.4 1 -1.4 1 -1.5 1 -1.5 1 -1.5 1 -1.6 1 -1.7 1 -1.7 1 -1.8 1 -1.9 1 -2 1 -1.9 1 -2.1 1 -2 1 -2.1 1 -2.1 1 -2.1 1 -2.2 1 -2.1 1 -2.2 1 -2.2 1 -2.2 1 -2.3 1 -2.2 1 -2.4 1 -2.3 1 -2.4 1 -2.4 1 -2.4 1 -2.4 1 -2.5 1 -2.5 1 -2.5 1 -2.6 1 -2.5 1 -2.6 1 -2.6 1 -2.7 1 -2.7 1 -2.7 1 -2.8 1 -2.8 1 -2.8 1 -2.8 1 -2.9 1 -2.8 1 -2.8 1 -2.9 1 -2.8 1 -2.8 1 -2.9 1 -2.8 1 -2.8 1 -2.8 1 -2.8 1 -2.7 1 -2.7 1 -2.6 1 -2.6 1 -2.6 1 -2.5 1 -2.5 1 -2.4 1 -2.4 1 -2.2 1 -2.2 1 -2 1 -1.9 1 -1.7 1 -1.5 1 -1.3 1 -1.1 1 -0.8 1 -0.5 1 -0.3 1 0 1 0.2 1 0.4 1 0.5 1 0.7 1 0.8 1 1 1 1.1 1 1.3 1 1.5 1 1.7 1 1.9 1 2.2 1 2.3 1 2.6 1 2.7 1 2.7 1 2.8 1 2.9 1 3 1 2.9 1 3 1 3.1 1 2.9 1 3 1 2.9 1 2.8 1 2.8 1 2.8 1 2.9 1 2.9 1 2.9 1 3 1 3 1 3 1 3 1 3 1 2.9 1 2.9 1 2.9 1 2.8 1 2.9 1 2.7 1 2.8 1 2.7 1 2.8 1 2.6 1 2.7 1 2.6 1 2.6 1 2.6 1 2.6 1 2.5 1 2.5 1 2.4 1 2.5 1 2.4 1 2.4 1 2.4 1 2.3 1 2.3 1 2.3 1 2.3 1 2.2 1 2.1 1 2.1 1 2 1 1.8 1 1.8 1 1.6 1 1.5 1 1.4 1 1.3 1 1.3 1 1.1 1 1.1 1 1.1 1 1 1 1.1 1 0.9 1 1 1 0.9 1 0.9 1 0.8 1 0.8 1 0.8 1 0.8 1 0.7 1 0.6 1 0.6 1 0.5 1 0.5 1 0.4 1 0.4 1 0.4 1 0.3 1 0.4 1 0.2 1 0.3 1 0.3 1 0.2 1 0.2 1 0.3 1 0.2 1 0.2 1 0.2 1 0.2 1.1 0.1 1 0.1 1 0.1 1 0.1 1 0 1 0.1 1 0.1 1 0.1 1 0 1 0.1 1 0 1 0.1 1 0 1 0.1 1 0 1 0 1 0.1 1 0 1 0 1 0.1 1 0 1 0 1 0 1 0.1 1 0 1 0 1 0" stroke="#ff0000" stroke-dasharray="21.5 5.4 3.36 5.4"/>
<path clip-path="url(#cp43)" d="M1088.7 871.1l1 0 1 0.1 1 0 1 0 1 0 1 0 1 0 1 0 1 -0.1 1 0 1 -0.1 1 0 1 -0.1 1 -0.1 1 -0.1 1 -0.1 1 -0.1 1 -0.1 1 -0.2 1 -0.1 1 -0.2 1 -0.2 1 -0.2 1 -0.2 1 -0.2 1 -0.3 1 -0.2 1 -0.3 1 -0.3 1 -0.3 1 -0.3 1 -0.3 1 -0.3 1 -0.4 1 -0.3 1 -0.4 1 -0.5 1 -0.4 1 -0.4 1 -0.5 1 -0.5 1 -0.5 1 -0.6 1 -0.6 1 -0.7 1 -0.7 1 -0.8 1 -0.9 1 -1 1 -1 1 -1 1 -1.2 1 -1.1 1 -1.3 1 -1.3 1 -1.3 1 -1.4 1 -1.4 1 -1.4 1 -1.5 1 -1.6 1 -1.5 1 -1.6 1 -1.7 1 -1.6 1 -1.7 1 -1.8 1 -1.8 1 -1.9 1 -2 1 -2.2 1 -2.2 1 -2.5 1 -2.6 1 -2.8 1 -2.9 1 -2.9 1 -2.9 1 -2.7 1 -2.6 1 -2.5 1 -2.5 1 -2.7 1 -2.9 1 -3.1 1 -3.3 1 -3.2 1 -3.1 1 -3 1 -2.8 1 -2.6 1 -2.3 1 -2 1 -1.8 1 -1.6 1 -1.4 1 -1.2 1 -1.1 1 -1 1 -0.6 1 -0.2 1 0.2 1 0.7 1 1.4 1 1.8 1 2.3 1 2.5 1 2.7 1 2.9 1 2.9 1 3 1 3 1 3 1 3 1 3 1 3 1 2.9 1 2.7 1 2.3 1 2.1 1 1.7 1 1.4 1 1.3 1 1 1 0.9 1 0.6 1 0.5 1 0.3 1 0.1 1 0.1 1 -0.1 1 0 1 -0.1 1 -0.1 1 -0.2 1 -0.2 1 -0.2 1 -0.2 1 -0.2 1 -0.2 1 -0.3 1 -0.4 1 -0.4 1 -0.6 1 -0.8 1 -1.2 1 -1.5 1 -1.9 1 -2.1 1 -2.4 1 -2.4 1 -2.6 1 -2.8 1 -3.1 1 -3.4 1 -3.5 1 -3.4 1 -2.9 1 -2.6 1 -2.1 1 -1.8 1 -1.5 1 -1.3 1 -1 1 -0.7 1 -0.4 1 -0.1 1 0.2 1 0.6 1 0.9 1 1.2 1 1.4 1 1.7 1 1.8 1 2.1 1 2.5 1 2.8 1 3.2 1 3.2 1 3.4 1 3.3 1 3.3 1 3.4 1 3.5 1 3.6 1 3.8 1 3.9 1 3.7 1 3.4 1 3 1 2.5 1 2.3 1 2.2 1 2 1 2.1 1 2.1 1 2.1 1 2.1 1 2 1 1.9 1 1.8 1 1.6 1 1.5 1 1.4 1 1.3 1 1.3 1 1.1 1 1.1 1 1.1 1 1 1 1.1 1 0.9 1 1 1 0.9 1 0.9 1 0.8 1 0.8 1 0.8 1 0.8 1 0.7 1 0.6 1 0.6 1 0.5 1 0.5 1 0.4 1 0.4 1 0.4 1 0.3 1 0.4 1 0.2 1 0.3 1 0.3 1 0.2 1 0.2 1 0.3 1 0.2 1 0.2 1 0.2 1 0.2 1.1 0.1 1 0.1 1 0.1 1 0.1 1 0 1 0.1 1 0.1 1 0.1 1 0 1 0.1 1 0 1 0.1 1 0 1 0.1 1 0 1 0 1 0.1 1 0 1 0 1 0.1 1 0 1 0 1 0 1 0.1 1 0 1 0 1 0" stroke="#008000" stroke-dasharray="3.36 5.54"/>
<path clip-path="url(#cp43)" d="M1088.7 871.1l1 0.1 1 0 1 0.1 1 0 1 0.1 1 0 1 0.1 1 0 1 0 1 0.1 1 0 1 0 1 0.1 1 0 1 0 1 0.1 1 0 1 0 1 0 1 0 1 0 1 0 1 0.1 1 0 1 0 1 0 1 0 1 0 1 0 1 0 1 -0.1 1 0 1 0 1 0 1 0 1 0 1 0 1 -0.1 1 0 1 0 1 0 1 -0.1 1 0 1 0 1 -0.1 1 0 1 0 1 -0.1 1 0 1 -0.1 1 0 1 -0.1 1 0 1 0 1 -0.1 1 -0.1 1 0 1 -0.1 1 0 1 -0.1 1 0 1 -0.1 1 -0.1 1 -0.1 1 -0.1 1 -0.1 1 -0.1 1 -0.2 1 -0.1 1 -0.2 1 -0.2 1 -0.1 1 -0.2 1 -0.2 1 -0.3 1 -0.3 1 -0.3 1 -0.3 1 -0.4 1 -0.4 1 -0.5 1 -0.5 1 -0.6 1 -0.8 1 -0.9 1 -0.9 1 -1 1 -1.1 1 -1.2 1 -1.4 1 -1.4 1 -1.6 1 -1.7 1 -1.8 1 -2.1 1 -2.2 1 -2.4 1 -2.5 1 -2.7 1 -2.9 1 -3.2 1 -3.4 1 -3.6 1 -4 1 -4.2 1 -4.5 1 -4.8 1 -5.1 1 -5.4 1 -5.5 1 -5.5 1 -5.2 1 -4.9 1 -4.6 1 -4.3 1 -4.1 1 -3.8 1 -3.4 1 -3.1 1 -2.8 1 -2.5 1 -2.1 1 -1.8 1 -1.4 1 -1.2 1 -0.9 1 -0.6 1 -0.5 1 -0.2 1 -0.1 1 0 1 0 1 0 1 0.1 1 0.1 1 0.1 1 0.1 1 0.1 1 0.2 1 0.3 1 0.5 1 0.7 1 1 1 1.5 1 2 1 2.5 1 3.1 1 3.6 1 4.1 1 4.4 1 4.7 1 4.8 1 5 1 5 1 5 1 5.2 1 5.4 1 5.5 1 5.4 1 5.2 1 4.8 1 4.3 1 4 1 3.6 1 3.4 1 3.3 1 3 1 2.7 1 2.4 1 2.1 1 2 1 1.7 1 1.6 1 1.5 1 1.4 1 1.3 1 1.2 1 1.2 1 1 1 0.9 1 0.8 1 0.7 1 0.7 1 0.6 1 0.5 1 0.5 1 0.4 1 0.4 1 0.3 1 0.3 1 0.2 1 0.3 1 0.2 1 0.2 1 0.2 1 0.1 1 0.1 1 0.1 1 0 1 0.1 1 0 1 0.1 1 0 1 0.1 1 0 1 0.1 1 0 1 0 1 0.1 1 0 1 0 1 0 1 0.1 1 0 1 0 1 0 1 0 1 0 1 0 1 0 1 0 1 0 1 0 1 0 1 0 1 0 1 0.1 1 0 1 0 1 0 1 0 1 0 1 0 1 0 1 0 1 0 1 0 1 0 1 0 1.1 0 1 0 1 0 1 0 1 0 1 0 1 0 1 0 1 0 1 0 1 0 1 0 1 0 1 0 1 0 1 0 1 0 1 0 1 0 1 0 1 0 1 -0.1 1 0 1 0 1 0 1 0 1 0" stroke="#9932cc" stroke-linecap="square"/>
<path clip-path="url(#cp50)" d="M132.8 1087.9l1 0 1 0 1 0 1 0 1 0 1 0 1 -0.1 1 0 1 0 1 0 1 0 1 0 1 0 1 0 1 0 1 0 1 0 1 0 1 0 1 0 1 0 1 0 1 0 1 0 1 0 1 0 1 0 1 0 1 0 1 0 1 0 1 0 1 0 1 0 1 0 1 0 1 0 1 0 1 0.1 1 0 1 0 1 0 1 0 1 0 1 0 1 0 1 0 1 0 1 0.1 1 0 1 0 1 0 1 0 1 0 1 0 1 0 1 0 1 0 1 0 1 0 1 0 1 0 1 0 1 0 1 0 1 0 1 0 1 0 1 0 1 0 1 0 1 0 1 0 1 -0.1 1 0 1 0 1 0 1 0 1 0 1 0 1 -0.1 1 0 1 0 1 0 1 0 1 -0.1 1 0 1 0 1 -0.2 1 -0.2 1 -0.3 1 -0.3 1 -0.3 1 -0.4 1 -0.4 1 -0.6 1 -0.6 1 -0.9 1 -1 1 -1.2 1 -1.5 1 -1.6 1 -2 1 -2.2 1 -2 1 -1.5 1 -1 1 -0.7 1 -0.5 1 0.1 1 0.7 1 1.3 1 1.7 1 2.1 1 2 1 1.6 1 1.1 1 1 1 0.4 1 -0.1 1 -2.1 1 -7.5 1 -9 1 -9 1 -8.5 1 -6 1 -3.6 1 -2 1 -1.1 1 -0.2 1 0.4 1 3.4 1 8.3 1.1 9.9 1 10 1 8.4 1 5.2 1 0.7 1 -1.7 1 -3.9 1 -5.5 1 -5.3 1 -5 1 -4 1 -1.8 1 -0.8 1 1.4 1 3 1 4.1 1 4.4 1 4.6 1 4.7 1 4.4 1 3.5 1 2 1 0.8 1 -0.1 1 -0.3 1 -0.3 1 -0.3 1 -0.3 1 -0.2 1 -0.2 1 -0.1 1 -0.2 1 -0.1 1 0 1 0 1 0.1 1 0.2 1 0.2 1 0.2 1 0.3 1 0.3 1 0.4 1 0.3 1 0.5 1 0.4 1 0.4 1 0.5 1 0.3 1 0.3 1 0.3 1 0.3 1 0.3 1 0.3 1 0.2 1 0.1 1 0.1 1 0 1 0 1 0 1 0 1 0 1 0 1 0 1 0 1 0 1 0 1 0 1 0 1 0 1 0 1 0 1 0 1 0 1 0 1 0 1 0 1 0 1 0 1 0 1 0 1 0 1 0 1 0 1 0 1 0 1 0 1 0 1 0 1 0 1 0 1 0 1 0 1 0 1 0 1 0 1 0 1 0 1 0 1 0 1 0 1 0 1 0 1 0 1 0 1 0 1 0 1 0 1 0 1 0 1 0 1 0 1 0 1 0 1 0 1 0 1 0 1 0 1 0 1 0 1 0 1 0 1 0 1 0 1 0 1 0 1 0 1 0 1 0 1 0 1 -0.1 1 0 1 0 1 0" stroke="#1f77b4" stroke-dasharray="12.4 5.4"/>
<path clip-path="url(#cp50)" d="M132.8 1087.9l1 0 1 0 1 0 1 0 1 0 1 -0.1 1 0 1 0 1 0 1 0 1 0 1 0 1 0 1 0 1 0 1 0 1 0 1 0 1 0 1 0 1 0 1 0 1 0 1 0 1 0 1 -0.1 1 0 1 0 1 0 1 0 1 0 1 0 1 0 1 0 1 0 1 0 1 0 1 0 1 0 1 0 1 0 1 0 1 0 1 0 1 0 1 0 1 0 1 0 1 0 1 0 1 0 1 0 1 0 1 -0.1 1 -0.2 1 -0.3 1 -0.3 1 -0.3 1 -0.3 1 -0.4 1 -0.5 1 -0.6 1 -0.6 1 -0.7 1 -0.8 1 -0.9 1 -1.1 1 -1.1 1 -1.3 1 -1.4 1 -1.5 1 -1.4 1 -1.6 1 -1.5 1 -1.6 1 -1.7 1 -1.7 1 -1.7 1 -1.6 1 -1.5 1 -1.4 1 -1.3 1 -1.1 1 -1 1 -0.7 1 -0.6 1 -0.5 1 -0.1 1 0.2 1 0.9 1 1.4 1 2 1 2.2 1 1.8 1 1.5 1 1.4 1 1.1 1 0.4 1 -0.5 1 -2.2 1 -4.2 1 -6.1 1 -7.1 1 -8.7 1 -10.6 1 -10.7 1 -10.3 1 -9.9 1 -8.7 1 -5.2 1 -1.6 1 0.1 1 2.7 1 7.8 1 10.3 1 10.8 1 10.8 1 10.9 1 7.2 1 2.8 1 -1.5 1 -5.5 1 -11.1 1 -17.4 1 -19.6 1 -19.9 1 -17.2 1 -12.1 1 -5.4 1 -0.5 1 4.1 1 10.9 1 16.9 1.1 19.9 1 21.1 1 17.7 1 12.1 1 4.7 1 -0.3 1 -5.3 1 -11.5 1 -17.4 1 -17.7 1 -15.8 1 -10.4 1 -4.4 1 -0.4 1 3.7 1 8.8 1 12.1 1 13.5 1 15.2 1 15.4 1 13.4 1 9.6 1 3.8 1 0.8 1 -1.1 1 -3.4 1 -5.2 1 -5.6 1 -6.1 1 -6 1 -4.3 1 -2.5 1 -1.4 1 -0.3 1 0.7 1 2.5 1 3.9 1 4.7 1 5.4 1 5.5 1 5.5 1 5.5 1 5.5 1 5.5 1 4.9 1 3.9 1 3.1 1 2.5 1 1.9 1 1.2 1 0.7 1 0.6 1 0.4 1 0.3 1 0.1 1 0.1 1 0 1 0.1 1 0 1 0.1 1 0.1 1 0.1 1 0.1 1 0.1 1 0.1 1 0.1 1 0.2 1 0.2 1 0.2 1 0.2 1 0.2 1 0.2 1 0.2 1 0.2 1 0.2 1 0.2 1 0.1 1 0.2 1 0.2 1 0.1 1 0.2 1 0.1 1 0.1 1 0.1 1 0.1 1 0.1 1 0.1 1 0 1 0.1 1 0 1 0 1 0.1 1 0 1 0 1 0 1 0 1 0 1 0 1 0 1 0 1 0 1 0 1 0 1 0 1 0 1 0 1 0 1 0 1 0 1 0 1 0 1 0 1 0 1 0 1 0 1 0 1 0 1 0 1 0 1 0 1 0 1 0 1 0 1 0 1 0 1 0 1 -0.1 1 0 1 0 1 0 1 0 1 0 1 0" stroke="#ff7f0e" stroke-linecap="square"/>
<path clip-path="url(#cp51)" d="M451.4 1087.9l1 0 1 0 1 0 1 0 1 0 1 0 1 0 1 0 1 0 1 0 1 0 1 0 1 0 1 0 1 0 1 0 1 0 1 0 1 0 1 0 1 0 1 0 1 0 1 0 1 0 1 0 1 0 1 0 1 0.1 1 0 1 0 1 0 1 0 1 0 1 0 1 0 1 0 1 0 1 0 1 0 1 0 1 0 1 0 1 0 1 0 1 0 1 0 1 0 1 0 1 0 1 0 1 0 1 0 1 0 1 0 1 0 1 0 1 0 1 0 1 0 1 -0.1 1 0 1 0 1 0 1 0 1 0 1 -0.1 1 0 1 0 1 0 1 -0.1 1 0 1 0 1 -0.1 1 -0.2 1 -0.2 1 -0.2 1 -0.3 1 -0.3 1.1 -0.4 1 -0.4 1 -0.5 1 -0.5 1 -0.5 1 -0.5 1 -0.6 1 -0.5 1 -0.5 1 -0.5 1 -0.4 1 -0.4 1 -0.5 1 -0.4 1 -0.4 1 -0.4 1 -0.2 1 0 1 0.1 1 0.5 1 0.7 1 0.7 1 0.7 1 1 1 0.9 1 0.8 1 -0.4 1 -2.1 1 -3.7 1 -4.6 1 -5 1 -5.6 1 -5 1 -3.2 1 -1.8 1 -1.1 1 -0.4 1 0 1 0.8 1 2.8 1 4.5 1 5 1 5.3 1 5.4 1 4.4 1 2.3 1 -1.6 1 -5.9 1 -7.6 1 -8.1 1 -8.6 1 -7.8 1 -5.1 1 -1.8 1 0.1 1 1.1 1 4 1 6.9 1 8.5 1 9.4 1 7.7 1 5.8 1 2.4 1 -1.7 1 -3.6 1 -5.4 1 -5.3 1 -4.6 1 -3.8 1 -2.7 1 -1.6 1 -0.7 1 0.2 1 1.2 1 2.5 1 3.7 1 4.6 1 6.1 1 5.1 1 3.5 1 2.4 1 1.5 1 0.6 1 -0.6 1 -0.8 1 -0.9 1 -0.7 1 -0.6 1 -0.6 1 -0.5 1 -0.1 1 0 1 0.2 1 0.3 1 0.4 1 0.4 1 0.3 1 0.4 1 0.4 1 0.4 1 0.4 1 0.4 1 0.4 1 0.4 1 0.4 1 0.4 1 0.4 1 0.4 1 0.4 1 0.3 1 0.4 1 0.3 1 0.2 1 0.2 1 0.1 1 0.1 1 0.1 1 0 1 0.1 1 0 1 0 1 0 1 0 1 0 1 0 1 0 1 0 1 0 1 0 1 0 1 0 1 0 1 -0.1 1 0 1 0 1 0 1 0 1 0 1 0 1 0 1 -0.1 1 0 1 0 1 0 1 0 1 0 1 0 1 0 1 -0.1 1 0 1 0 1 0 1 0 1 0 1 0 1 0 1 0 1 0 1 0 1 0 1 0 1 0 1 0 1 0 1 0 1 0 1 -0.1 1 0 1 0 1 0 1 0 1 0 1 0 1 0 1 0 1 0 1 0 1 0 1 0 1 0 1 0 1 0 1 0 1 0 1 0 1 0 1 0" stroke="#1f77b4" stroke-dasharray="12.4 5.4"/>
<path clip-path="url(#cp51)" d="M451.4 1087.9l1 0 1 0.1 1 0 1 0 1 0 1 0 1 0.1 1 0 1 0 1 0 1 0 1 0 1 0 1 0 1 -0.1 1 0 1 0 1 0 1 0 1 0 1 0 1 -0.1 1 0 1 0 1 0 1 0 1 -0.1 1 -0.1 1 0 1 -0.1 1 -0.1 1 -0.1 1 -0.2 1 -0.1 1 -0.3 1 -0.3 1 -0.3 1 -0.4 1 -0.4 1 -0.4 1 -0.4 1 -0.5 1 -0.6 1 -0.6 1 -0.6 1 -0.8 1 -0.9 1 -0.9 1 -0.9 1 -0.9 1 -0.9 1 -0.9 1 -0.9 1 -0.9 1 -0.9 1 -0.8 1 -0.9 1 -0.9 1 -0.9 1 -0.8 1 -0.6 1 -0.6 1 -0.4 1 -0.5 1 -0.4 1 -0.3 1 -0.1 1 0 1 0.2 1 0.4 1 0.5 1 0.7 1 0.7 1 0.8 1 0.9 1 0.8 1 0.8 1 0.6 1 0.4 1.1 0.3 1 -0.7 1 -1.9 1 -2.8 1 -3.6 1 -4.8 1 -5.7 1 -6 1 -6.2 1 -6.5 1 -6.6 1 -6.3 1 -5.2 1 -4.1 1 -3.3 1 -2.3 1 -1.3 1 0 1 1.9 1 5 1 6.3 1 7 1 7.5 1 7.1 1 5.4 1 3.5 1 0.3 1 -2.4 1 -5.4 1 -7.8 1 -11.6 1 -13.3 1 -13.6 1 -13.9 1 -13.1 1 -7.5 1 -4.1 1 -0.3 1 4.1 1 8.9 1 13.8 1 15.1 1 14.8 1 14.5 1 9.5 1 2.9 1 -2.2 1 -7.7 1 -13.4 1 -18.6 1 -17.4 1 -15.4 1 -14.1 1 -9.9 1 -2 1 2.9 1 10.3 1 15.6 1 16.9 1 17 1 16.9 1 14 1 5.6 1 -0.6 1 -4.4 1 -9.7 1 -13.2 1 -17.2 1 -15.1 1 -10.8 1 -6 1 -2.5 1 0.4 1 5 1 11.1 1 13 1 13.4 1 13.2 1 12.3 1 11.2 1 7.2 1 3.8 1 0.5 1 -1.6 1 -4.8 1 -6.8 1 -6.6 1 -6.2 1 -5.7 1 -4.2 1 -2.5 1 -1.1 1 0 1 1.5 1 4.1 1 5.4 1 6.1 1 6.6 1 6.6 1 6.1 1 5.7 1 5.2 1 4.6 1 3.7 1 2.7 1 2.2 1 1.5 1 0.8 1 0.4 1 0.1 1 -0.4 1 -0.7 1 -0.9 1 -0.8 1 -0.6 1 -0.5 1 -0.4 1 -0.3 1 -0.1 1 0 1 0.1 1 0.3 1 0.5 1 0.6 1 0.8 1 0.9 1 0.9 1 0.9 1 0.9 1 0.9 1 0.9 1 0.9 1 0.8 1 0.9 1 0.8 1 0.8 1 0.8 1 0.8 1 0.6 1 0.7 1 0.5 1 0.4 1 0.3 1 0.4 1 0.2 1 0.2 1 0.3 1 0.2 1 0.2 1 0.1 1 0.1 1 0.2 1 0 1 0.1 1 0.1 1 0 1 0.1 1 0 1 0.1 1 0 1 0.1 1 0 1 0 1 0.1 1 0 1 0 1 0.1 1 0 1 0 1 0 1 0 1 0 1 0 1 0 1 0 1 0 1 0 1 -0.1 1 0 1 0 1 -0.1 1 0 1 -0.1 1 0 1 -0.1 1 0 1 -0.1" stroke="#ff7f0e" stroke-linecap="square"/>
<path clip-path="url(#cp52)" d="M770 1087.9l1 0 1 0 1 0 1 0 1 0 1 0 1 0.1 1 0 1 0 1 0 1 0 1 0 1 0 1 0 1 0 1 0 1 0 1 0 1 0 1 0 1 0 1 0 1 0 1 0 1 0 1 0 1.1 0 1 0 1 0 1 0 1 0 1 0 1 0 1 0 1 0 1 0 1 0 1 0 1 -0.1 1 0 1 0 1 0 1 0 1 0 1 0 1 0 1 0 1 0 1 -0.1 1 0 1 0 1 0 1 -0.1 1 0 1 0 1 -0.1 1 0 1 0 1 0 1 -0.1 1 0 1 0 1 0 1 0 1 0 1 0 1 0 1 0 1 0 1 0 1 0 1 0 1 0 1 0 1 0 1 0 1 0 1 0 1 0 1 0 1 0 1 0 1 0 1 0 1 0 1 0 1 0 1 0 1 0 1 0 1 0 1 -0.1 1 -0.1 1 -0.3 1 -0.4 1 -0.4 1 -0.3 1 -0.5 1 -0.5 1 -0.5 1 -0.4 1 -0.1 1 0 1 0.1 1 0.1 1 0 1 0.1 1 0.1 1 0.1 1 0.1 1 0.1 1 0.1 1 0 1 0 1 -0.2 1 -0.5 1 -0.5 1 -0.6 1 -0.4 1 -0.4 1 -0.4 1 -0.4 1 -0.2 1 0.1 1 0.2 1 0.4 1 0.5 1 0.4 1 0.5 1 0.3 1 0.4 1 0.4 1 0.3 1 0.2 1 -0.3 1 -0.6 1 -0.7 1 -0.6 1 -0.5 1 -0.3 1 -0.4 1 -0.2 1 0 1 0.2 1 0.4 1 0.5 1 0.5 1 0.4 1 0.2 1 0.2 1 0.1 1 0.1 1 0.1 1 0 1 -0.2 1 -0.3 1 -0.4 1 -0.3 1 -0.1 1 0.1 1 0.1 1 0.3 1 0.2 1 0.3 1 0.3 1 0.3 1 0.4 1 0.4 1 0.4 1 0.3 1 0.2 1 0.2 1 0.1 1 0 1 0 1 0 1 0 1 -0.1 1 -0.1 1 0 1 -0.1 1 -0.1 1 -0.1 1 -0.1 1 -0.1 1 -0.1 1 -0.1 1 -0.2 1 0 1 -0.1 1 0 1 -0.1 1 0.1 1 0 1 0.1 1 0.1 1 0.1 1 0.1 1 0.1 1 0.1 1 0.1 1 0.1 1 0.1 1 0 1 0.1 1 0 1 0.1 1 0 1 0.1 1 0 1 0.1 1 0 1 0.1 1 0 1 0 1 0 1 0 1 0 1 0 1 0 1 0 1 -0.1 1 0 1 0 1 0 1 -0.1 1 0 1 -0.1 1 0 1 0 1 0 1 -0.1 1 0 1 0 1 0 1 0 1 0 1 0 1 0 1 0 1 0 1 0 1 -0.1 1 0 1 0 1 0 1 0 1 0 1 0 1 0 1 0 1 0 1 0 1 0 1 0 1 0 1 0 1 0 1 0 1 0 1 0.1 1 0 1 0 1 0 1 0 1 0" stroke="#1f77b4" stroke-dasharray="12.4 5.4"/>
<path clip-path="url(#cp52)" d="M770 1087.9l1 0 1 0.1 1 0 1 0 1 0 1 0.1 1 0 1 0 1 0 1 0 1 0 1 0 1 0 1 0 1 0 1 0 1 0 1 0 1 0 1 -0.1 1 0 1 0 1 -0.1 1 0 1 0 1 -0.1 1.1 -0.1 1 0 1 -0.1 1 -0.1 1 0 1 -0.1 1 -0.1 1 -0.1 1 0 1 -0.1 1 -0.1 1 0 1 -0.1 1 -0.1 1 -0.1 1 -0.1 1 -0.1 1 -0.1 1 -0.1 1 -0.1 1 -0.2 1 -0.2 1 -0.3 1 -0.6 1 -0.7 1 -0.8 1 -0.9 1 -0.9 1 -0.9 1 -1 1 -1 1 -1 1 -1 1 -1 1 -1 1 -0.9 1 -0.9 1 -0.9 1 -0.9 1 -1 1 -0.9 1 -1 1 -1.3 1 -1.8 1 -2.3 1 -2.5 1 -2.7 1 -2.6 1 -2.7 1 -2.8 1 -3 1 -3.1 1 -2.9 1 -2.6 1 -2.2 1 -2 1 -1.8 1 -1.3 1 -1 1 -0.5 1 -0.4 1 -0.3 1 -0.3 1 -0.5 1 -0.5 1 -1 1 -1.8 1 -2 1 -2 1 -2 1 -2 1 -2 1 -2 1 -2 1 -1.6 1 -1 1 -0.4 1 0.3 1 1.2 1 1.8 1 2 1 1.8 1 1.8 1 1.7 1 1.6 1 1.5 1 1.1 1 0.7 1 0.3 1 0.1 1 0.1 1 -0.1 1 -0.1 1 -0.3 1 0.1 1 0.5 1 0.8 1 1.1 1 1.3 1 1.3 1 1.4 1 1.6 1 1.7 1 1.7 1 1.4 1 0.8 1 0.4 1 0 1 -0.7 1 -1.4 1 -1.9 1 -2 1 -1.7 1 -1.5 1 -1.3 1 -1.1 1 -0.8 1 -0.5 1 -0.3 1 -0.1 1 0.1 1 0 1 0 1 -0.1 1 -0.1 1 -0.3 1 -0.5 1 -1 1 -1.6 1 -1.9 1 -2 1 -2 1 -2 1 -1.9 1 -1.7 1 -1.3 1 -0.1 1 0.2 1 0.6 1 1.4 1 2.2 1 2.4 1 2.4 1 2.1 1 2 1 2 1 1.8 1 1.7 1 1.3 1 0.9 1 0.8 1 0.8 1 0.8 1 0.8 1 0.8 1 0.8 1 0.8 1 1.7 1 2.5 1 2.9 1 2.7 1 2.6 1 2.7 1 2.7 1 2.6 1 2.7 1 2.6 1 2.5 1 2.3 1 1.8 1 1.5 1 1.2 1 1.1 1 1 1 1 1 1 1 1 1 1 1 1 1 1 1 1 1 1 1 1 1 1 1 1 1 1 1 0.9 1 0.8 1 0.6 1 0.4 1 0.3 1 0.2 1 0.1 1 0.2 1 0.1 1 0.2 1 0.1 1 0.1 1 0.1 1 0 1 0.1 1 0.1 1 0 1 0.1 1 0 1 0.1 1 0.1 1 0 1 0.1 1 0 1 0 1 0.1 1 0 1 0 1 0 1 0.1 1 0 1 0 1 0 1 0 1 0 1 0.1 1 0 1 0 1 0 1 0 1 0 1 0 1 0 1 0 1 0 1 0 1 0 1 0 1 0 1 0 1 0 1 0 1 0 1 0" stroke="#ff7f0e" stroke-linecap="square"/>
<path clip-path="url(#cp53)" d="M1088.7 1087.9l1 0 1 0 1 0 1 0 1 0 1 0 1 0 1 0 1 0 1 0 1 0.1 1 0 1 0 1 0 1 0 1 0 1 0 1 0 1 0 1 0 1 0 1 0 1 0 1 0 1 0 1 0 1 0 1 0 1 0 1 0 1 0 1 0 1 0 1 0 1 0 1 0 1 -0.1 1 0 1 0 1 0 1 0 1 0 1 0 1 0 1 0 1 0 1 0 1 0 1 0 1 0 1 -0.1 1 0 1 0 1 0 1 0 1 0 1 0 1 0 1 -0.1 1 0 1 0 1 0 1 0 1 0 1 0 1 -0.1 1 0 1 0 1 0 1 0 1 0 1 -0.1 1 0 1 0 1 0 1 0 1 0 1 0 1 -0.1 1 0 1 0 1 0 1 0 1 0 1 0 1 -0.1 1 0 1 0 1 0 1 0 1 -0.1 1 0 1 -0.1 1 0 1 -0.1 1 -0.1 1 -0.1 1 -0.1 1 -0.2 1 -0.2 1 -0.2 1 -0.2 1 -0.2 1 -0.3 1 -0.2 1 -0.3 1 -0.2 1 -0.3 1 -0.2 1 -0.2 1 -0.3 1 -0.2 1 -0.1 1 -0.2 1 -0.1 1 -0.1 1 -0.1 1 -0.1 1 0 1 -0.1 1 0 1 0 1 0 1 -0.1 1 0 1 0.1 1 0 1 0 1 0 1 0 1 0 1 0 1 0.1 1 0 1 0 1 0 1 0 1 0 1 -0.1 1 0 1 0 1 -0.1 1 -0.1 1 0 1 -0.1 1 0 1 -0.1 1 0 1 0.1 1 0 1 0.1 1 0.1 1 0.1 1 0.1 1 0.2 1 0.2 1 0.2 1 0.2 1 0.2 1 0.2 1 0.3 1 0.2 1 0.3 1 0.2 1 0.2 1 0.1 1 0.2 1 0.1 1 0.1 1 0.1 1 0 1 0.1 1 0 1 0 1 0.1 1 0 1 0 1 0 1 0 1 -0.1 1 0 1 0 1 0 1 0 1 0 1 -0.1 1 0 1 0 1 0 1 0 1 0 1 0 1 0 1 0 1 0 1 0 1 0 1 0 1 0 1 0 1 0.1 1 0 1 0 1 0 1 0 1 0 1 0 1 0 1 0 1 0 1 0.1 1 0 1 0 1 0 1 0 1 0 1 0.1 1 0 1 0 1 0 1 0 1 0.1 1 0 1 0 1 0 1 0.1 1 0 1 0 1 0 1 0 1 0.1 1 0 1 0 1 0 1 0 1 0 1 0 1 0.1 1 0 1.1 0 1 0 1 0 1 0 1 0 1 0 1 0 1 0 1 0 1 0 1 0 1 0 1 0 1 0 1 0 1 0 1 0 1 0 1 0 1 0 1 0 1 0 1 0 1 -0.1 1 0 1 0 1 0" stroke="#1f77b4" stroke-dasharray="12.4 5.4"/>
<path clip-path="url(#cp53)" d="M1088.7 1087.9l1 0 1 0.1 1 0 1 0 1 0 1 0 1 0.1 1 0 1 0 1 0 1 0 1 0 1 0 1 0 1 0 1 0 1 0 1 0 1 0 1 -0.1 1 0 1 0 1 0 1 0 1 0 1 -0.1 1 0 1 0 1 0 1 -0.1 1 0 1 0 1 -0.1 1 -0.1 1 0 1 -0.1 1 -0.1 1 -0.1 1 -0.1 1 0 1 -0.1 1 -0.1 1 -0.2 1 -0.1 1 -0.2 1 -0.2 1 -0.2 1 -0.3 1 -0.3 1 -0.3 1 -0.4 1 -0.5 1 -0.5 1 -0.6 1 -0.7 1 -0.7 1 -0.8 1 -0.8 1 -0.9 1 -1 1 -1 1 -1.1 1 -1.1 1 -1.3 1 -1.2 1 -1.4 1 -1.4 1 -1.4 1 -1.5 1 -1.6 1 -1.6 1 -1.6 1 -1.7 1 -1.8 1 -1.8 1 -1.9 1 -1.9 1 -2 1 -2 1 -2.1 1 -2.1 1 -2.1 1 -2.2 1 -2.2 1 -2.2 1 -2.2 1 -2.2 1 -2.1 1 -2 1 -1.9 1 -1.7 1 -1.4 1 -1.2 1 -1.1 1 -0.9 1 -0.7 1 -0.8 1 -0.7 1 -0.6 1 -0.6 1 -0.6 1 -0.4 1 -0.5 1 -0.3 1 -0.2 1 -0.2 1 0.1 1 0.4 1 0.7 1 0.9 1 1.1 1 1.1 1 1.2 1 1.2 1 1.2 1 1.2 1 1.2 1 1.1 1 1 1 1 1 0.8 1 0.7 1 0.6 1 0.6 1 0.5 1 0.4 1 0.4 1 0.3 1 0.4 1 0.3 1 0.3 1 0.3 1 0.2 1 0.1 1 0.1 1 0.1 1 -0.2 1 -0.3 1 -0.6 1 -0.9 1 -1 1 -1.1 1 -1.2 1 -1.1 1 -1.1 1 -1.2 1 -1 1 -1.1 1 -1.1 1 -0.9 1 -0.9 1 -0.8 1 -0.7 1 -0.6 1 -0.6 1 -0.4 1 -0.5 1 -0.4 1 -0.3 1 -0.4 1 -0.3 1 -0.3 1 -0.2 1 -0.2 1 -0.1 1 0.1 1 0.3 1 0.5 1 0.7 1 1 1 1.5 1 1.9 1 2.1 1 2.2 1 2.3 1 2.2 1 2.2 1 2.2 1 2.2 1 2.2 1 2.2 1 2.1 1 2.1 1 2 1 2 1 1.9 1 1.9 1 1.9 1 1.8 1 1.9 1 1.8 1 1.8 1 1.8 1 1.7 1 1.7 1 1.7 1 1.7 1 1.6 1 1.5 1 1.5 1 1.3 1 1.3 1 1.1 1 1 1 1 1 0.9 1 0.8 1 0.7 1 0.7 1 0.6 1 0.5 1 0.5 1 0.4 1 0.4 1 0.4 1 0.3 1 0.3 1 0.2 1 0.2 1 0.2 1 0.1 1 0.1 1 0.2 1 0.1 1 0 1 0.1 1 0.1 1 0.1 1 0 1 0.1 1 0 1 0 1 0 1 0.1 1 0 1 0 1 0 1 0.1 1 0 1.1 0 1 0 1 0 1 0.1 1 0 1 0 1 0 1 0 1 0 1 0 1 0 1 0.1 1 0 1 0 1 0 1 0 1 0 1 0 1 -0.1 1 0 1 0 1 0 1 0 1 0 1 -0.1 1 0 1 0" stroke="#ff7f0e" stroke-linecap="square"/>
</g>
<path d="M106.85 11.80h5.80M106.85 56.80h5.80M106.85 101.50h5.80M425.47 11.80h5.80M425.47 56.80h5.80M425.47 101.50h5.80M744.09 11.80h5.80M744.09 56.80h5.80M744.09 101.50h5.80M1062.71 11.80h5.80M1062.71 56.80h5.80M1062.71 101.50h5.80M106.85 127.80h5.80M106.85 167.30h5.80M106.85 206.90h5.80M425.47 127.80h5.80M425.47 167.30h5.80M425.47 206.90h5.80M744.09 127.80h5.80M744.09 167.30h5.80M744.09 206.90h5.80M1062.71 127.80h5.80M1062.71 167.30h5.80M1062.71 206.90h5.80M106.85 240.90h5.80M106.85 277.78h5.80M106.85 314.66h5.80M106.85 351.54h5.80M106.85 388.42h5.80M106.85 425.30h5.80M106.85 462.00h5.80M106.85 498.88h5.80M106.85 535.76h5.80M106.85 572.64h5.80M106.85 609.52h5.80M106.85 646.40h5.80M106.85 677.20h5.80M106.85 774.20h5.80M106.85 871.20h5.80M425.47 677.20h5.80M425.47 774.20h5.80M425.47 871.20h5.80M744.09 677.20h5.80M744.09 774.20h5.80M744.09 871.20h5.80M1062.71 677.20h5.80M1062.71 774.20h5.80M1062.71 871.20h5.80M106.85 903.90h5.80M106.85 995.90h5.80M106.85 1088.00h5.80M425.47 903.90h5.80M425.47 995.90h5.80M425.47 1088.00h5.80M744.09 903.90h5.80M744.09 995.90h5.80M744.09 1088.00h5.80M1062.71 903.90h5.80M1062.71 995.90h5.80M1062.71 1088.00h5.80M425.47 118.00h-5.80M425.47 167.30h-5.80M425.47 216.65h-5.80M744.09 118.00h-5.80M744.09 167.30h-5.80M744.09 216.65h-5.80M1062.71 118.00h-5.80M1062.71 167.30h-5.80M1062.71 216.65h-5.80M1381.33 118.00h-5.80M1381.33 167.30h-5.80M1381.33 216.65h-5.80M133.20 1106.70v-6.10M186.26 1106.70v-6.10M239.32 1106.70v-6.10M292.38 1106.70v-6.10M345.44 1106.70v-6.10M398.50 1106.70v-6.10M451.82 1106.70v-6.10M504.88 1106.70v-6.10M557.94 1106.70v-6.10M611.00 1106.70v-6.10M664.06 1106.70v-6.10M717.12 1106.70v-6.10M770.44 1106.70v-6.10M823.50 1106.70v-6.10M876.56 1106.70v-6.10M929.62 1106.70v-6.10M982.68 1106.70v-6.10M1035.74 1106.70v-6.10M1089.06 1106.70v-6.10M1142.12 1106.70v-6.10M1195.18 1106.70v-6.10M1248.24 1106.70v-6.10M1301.30 1106.70v-6.10M1354.36 1106.70v-6.10" stroke="#000" stroke-width="3.4" fill="none"/>
<path d="M106.85 -0.30V1108.40M425.47 -0.30V1108.40M744.09 -0.30V1108.40M1062.71 -0.30V1108.40M1381.33 -0.30V1108.40M105.15 1.40H1383.03M105.15 111.93H1383.03M105.15 222.46H1383.03M105.15 443.52H1383.03M105.15 664.58H1383.03M105.15 885.64H1383.03M105.15 1106.70H1383.03" stroke="#000" stroke-width="3.4" fill="none"/>
<g stroke="#000" stroke-width="0.4" stroke-linejoin="round">
<g text-anchor="end">
<text x="101.0" y="21.80">500</text>
<text x="101.0" y="66.80">250</text>
<text x="101.0" y="111.50">0</text>
<text x="101.0" y="137.80">10</text>
<text x="101.0" y="177.30">5</text>
<text x="101.0" y="216.90">0</text>
<text x="101.0" y="250.90">1</text>
<text x="101.0" y="287.78">0.8</text>
<text x="101.0" y="324.66">0.6</text>
<text x="101.0" y="361.54">0.4</text>
<text x="101.0" y="398.42">0.2</text>
<text x="101.0" y="435.30">0</text>
<text x="101.0" y="472.00">1</text>
<text x="101.0" y="508.88">0.8</text>
<text x="101.0" y="545.76">0.6</text>
<text x="101.0" y="582.64">0.4</text>
<text x="101.0" y="619.52">0.2</text>
<text x="101.0" y="656.40">0</text>
<text x="101.0" y="687.20">0.4</text>
<text x="101.0" y="784.20">0.2</text>
<text x="101.0" y="881.20">0</text>
<text x="101.0" y="913.90">0.02</text>
<text x="101.0" y="1005.90">0.01</text>
<text x="101.0" y="1098.00">0</text>
</g>
<text x="1386.9" y="128.50">12</text>
<text x="1386.9" y="177.80">4</text>
<text x="1386.9" y="227.15">−4</text>
<g text-anchor="middle">
<text x="133.20" y="1132.8">0</text>
<text x="186.26" y="1132.8">0.2</text>
<text x="239.32" y="1132.8">0.4</text>
<text x="292.38" y="1132.8">0.6</text>
<text x="345.44" y="1132.8">0.8</text>
<text x="398.50" y="1132.8">1</text>
<text x="451.82" y="1132.8">0</text>
<text x="504.88" y="1132.8">0.2</text>
<text x="557.94" y="1132.8">0.4</text>
<text x="611.00" y="1132.8">0.6</text>
<text x="664.06" y="1132.8">0.8</text>
<text x="717.12" y="1132.8">1</text>
<text x="770.44" y="1132.8">0</text>
<text x="823.50" y="1132.8">0.2</text>
<text x="876.56" y="1132.8">0.4</text>
<text x="929.62" y="1132.8">0.6</text>
<text x="982.68" y="1132.8">0.8</text>
<text x="1035.74" y="1132.8">1</text>
<text x="1089.06" y="1132.8">0</text>
<text x="1142.12" y="1132.8">0.2</text>
<text x="1195.18" y="1132.8">0.4</text>
<text x="1248.24" y="1132.8">0.6</text>
<text x="1301.30" y="1132.8">0.8</text>
<text x="1354.36" y="1132.8">1</text>
</g>
<text x="138.35" y="35.55" text-anchor="middle">(a1)</text>
<text x="456.97" y="35.55" text-anchor="middle">(a2)</text>
<text x="775.59" y="35.55" text-anchor="middle">(a3)</text>
<text x="1094.21" y="35.55" text-anchor="middle">(a4)</text>
<text x="138.35" y="146.08" text-anchor="middle">(b1)</text>
<text x="456.97" y="146.08" text-anchor="middle">(b2)</text>
<text x="775.59" y="146.08" text-anchor="middle">(b3)</text>
<text x="1094.21" y="146.08" text-anchor="middle">(b4)</text>
<text x="138.35" y="256.61" text-anchor="middle">(c1)</text>
<text x="456.97" y="256.61" text-anchor="middle">(c2)</text>
<text x="775.59" y="256.61" text-anchor="middle">(c3)</text>
<text x="1094.21" y="256.61" text-anchor="middle">(c4)</text>
<text x="138.35" y="477.67" text-anchor="middle">(d1)</text>
<text x="456.97" y="477.67" text-anchor="middle">(d2)</text>
<text x="775.59" y="477.67" text-anchor="middle">(d3)</text>
<text x="1094.21" y="477.67" text-anchor="middle">(d4)</text>
<text x="138.35" y="698.73" text-anchor="middle">(e1)</text>
<text x="456.97" y="698.73" text-anchor="middle">(e2)</text>
<text x="775.59" y="698.73" text-anchor="middle">(e3)</text>
<text x="1094.21" y="698.73" text-anchor="middle">(e4)</text>
<text x="138.35" y="919.79" text-anchor="middle">(f1)</text>
<text x="456.97" y="919.79" text-anchor="middle">(f2)</text>
<text x="775.59" y="919.79" text-anchor="middle">(f3)</text>
<text x="1094.21" y="919.79" text-anchor="middle">(f4)</text>
<text x="708.8" y="1173.3" text-anchor="middle">Time (<tspan font-style="italic">μ</tspan>s)</text>
<text transform="translate(20.9 120.8) rotate(-90)" text-anchor="middle">Pulses (2<tspan font-style="italic">π</tspan><tspan dx="-3"> ×</tspan><tspan dx="-4"> MHz)</tspan></text>
<text transform="translate(20.9 667.3) rotate(-90)" text-anchor="middle">Population Transfer</text>
</g>
</svg>
</body></html>
